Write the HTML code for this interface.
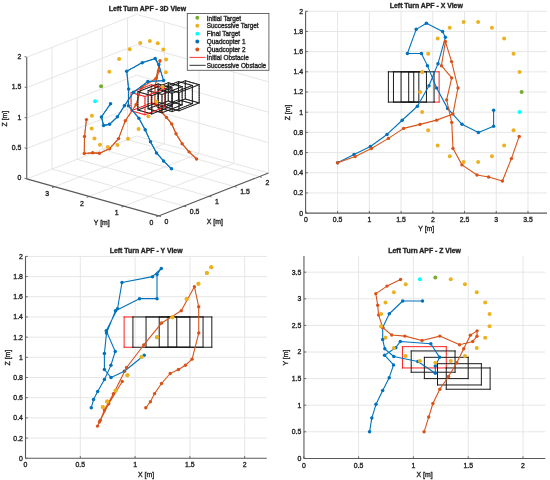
<!DOCTYPE html>
<html><head><meta charset="utf-8"><style>
html,body{margin:0;padding:0;background:#fff;}
svg{display:block;}
text{font-family:"Liberation Sans", Arial, Helvetica, sans-serif;fill:#262626;stroke:#262626;stroke-width:0.35px;}
</style></head><body>
<svg width="550" height="480" viewBox="0 0 550 480">
<rect width="550" height="480" fill="#ffffff"/>
<g>
<line x1="337.62" y1="11.25" x2="337.62" y2="213.15" stroke="#e6e6e6" stroke-width="1.0"/>
<line x1="369.35" y1="11.25" x2="369.35" y2="213.15" stroke="#e6e6e6" stroke-width="1.0"/>
<line x1="401.07" y1="11.25" x2="401.07" y2="213.15" stroke="#e6e6e6" stroke-width="1.0"/>
<line x1="432.8" y1="11.25" x2="432.8" y2="213.15" stroke="#e6e6e6" stroke-width="1.0"/>
<line x1="464.52" y1="11.25" x2="464.52" y2="213.15" stroke="#e6e6e6" stroke-width="1.0"/>
<line x1="496.25" y1="11.25" x2="496.25" y2="213.15" stroke="#e6e6e6" stroke-width="1.0"/>
<line x1="527.98" y1="11.25" x2="527.98" y2="213.15" stroke="#e6e6e6" stroke-width="1.0"/>
<line x1="305.6" y1="192.96" x2="547" y2="192.96" stroke="#e6e6e6" stroke-width="1.0"/>
<line x1="305.6" y1="172.77" x2="547" y2="172.77" stroke="#e6e6e6" stroke-width="1.0"/>
<line x1="305.6" y1="152.58" x2="547" y2="152.58" stroke="#e6e6e6" stroke-width="1.0"/>
<line x1="305.6" y1="132.39" x2="547" y2="132.39" stroke="#e6e6e6" stroke-width="1.0"/>
<line x1="305.6" y1="112.2" x2="547" y2="112.2" stroke="#e6e6e6" stroke-width="1.0"/>
<line x1="305.6" y1="92.01" x2="547" y2="92.01" stroke="#e6e6e6" stroke-width="1.0"/>
<line x1="305.6" y1="71.82" x2="547" y2="71.82" stroke="#e6e6e6" stroke-width="1.0"/>
<line x1="305.6" y1="51.63" x2="547" y2="51.63" stroke="#e6e6e6" stroke-width="1.0"/>
<line x1="305.6" y1="31.44" x2="547" y2="31.44" stroke="#e6e6e6" stroke-width="1.0"/>
<line x1="305.6" y1="11.25" x2="547" y2="11.25" stroke="#e6e6e6" stroke-width="1.0"/>
<line x1="305.6" y1="213.15" x2="547" y2="213.15" stroke="#5a5a5a" stroke-width="1.1"/>
<line x1="305.6" y1="11.25" x2="305.6" y2="213.15" stroke="#5a5a5a" stroke-width="1.1"/>
<line x1="305.9" y1="213.15" x2="305.9" y2="210.95" stroke="#5a5a5a" stroke-width="0.9"/>
<line x1="337.62" y1="213.15" x2="337.62" y2="210.95" stroke="#5a5a5a" stroke-width="0.9"/>
<line x1="369.35" y1="213.15" x2="369.35" y2="210.95" stroke="#5a5a5a" stroke-width="0.9"/>
<line x1="401.07" y1="213.15" x2="401.07" y2="210.95" stroke="#5a5a5a" stroke-width="0.9"/>
<line x1="432.8" y1="213.15" x2="432.8" y2="210.95" stroke="#5a5a5a" stroke-width="0.9"/>
<line x1="464.52" y1="213.15" x2="464.52" y2="210.95" stroke="#5a5a5a" stroke-width="0.9"/>
<line x1="496.25" y1="213.15" x2="496.25" y2="210.95" stroke="#5a5a5a" stroke-width="0.9"/>
<line x1="527.98" y1="213.15" x2="527.98" y2="210.95" stroke="#5a5a5a" stroke-width="0.9"/>
<line x1="305.6" y1="213.15" x2="307.8" y2="213.15" stroke="#5a5a5a" stroke-width="0.9"/>
<line x1="305.6" y1="192.96" x2="307.8" y2="192.96" stroke="#5a5a5a" stroke-width="0.9"/>
<line x1="305.6" y1="172.77" x2="307.8" y2="172.77" stroke="#5a5a5a" stroke-width="0.9"/>
<line x1="305.6" y1="152.58" x2="307.8" y2="152.58" stroke="#5a5a5a" stroke-width="0.9"/>
<line x1="305.6" y1="132.39" x2="307.8" y2="132.39" stroke="#5a5a5a" stroke-width="0.9"/>
<line x1="305.6" y1="112.2" x2="307.8" y2="112.2" stroke="#5a5a5a" stroke-width="0.9"/>
<line x1="305.6" y1="92.01" x2="307.8" y2="92.01" stroke="#5a5a5a" stroke-width="0.9"/>
<line x1="305.6" y1="71.82" x2="307.8" y2="71.82" stroke="#5a5a5a" stroke-width="0.9"/>
<line x1="305.6" y1="51.63" x2="307.8" y2="51.63" stroke="#5a5a5a" stroke-width="0.9"/>
<line x1="305.6" y1="31.44" x2="307.8" y2="31.44" stroke="#5a5a5a" stroke-width="0.9"/>
<line x1="305.6" y1="11.25" x2="307.8" y2="11.25" stroke="#5a5a5a" stroke-width="0.9"/>
<text x="305.9" y="222.15" text-anchor="middle" font-size="6.9" font-weight="normal">0</text>
<text x="337.62" y="222.15" text-anchor="middle" font-size="6.9" font-weight="normal">0.5</text>
<text x="369.35" y="222.15" text-anchor="middle" font-size="6.9" font-weight="normal">1</text>
<text x="401.07" y="222.15" text-anchor="middle" font-size="6.9" font-weight="normal">1.5</text>
<text x="432.8" y="222.15" text-anchor="middle" font-size="6.9" font-weight="normal">2</text>
<text x="464.52" y="222.15" text-anchor="middle" font-size="6.9" font-weight="normal">2.5</text>
<text x="496.25" y="222.15" text-anchor="middle" font-size="6.9" font-weight="normal">3</text>
<text x="527.98" y="222.15" text-anchor="middle" font-size="6.9" font-weight="normal">3.5</text>
<text x="303" y="215.6" text-anchor="end" font-size="6.9" font-weight="normal">0</text>
<text x="303" y="195.41" text-anchor="end" font-size="6.9" font-weight="normal">0.2</text>
<text x="303" y="175.22" text-anchor="end" font-size="6.9" font-weight="normal">0.4</text>
<text x="303" y="155.03" text-anchor="end" font-size="6.9" font-weight="normal">0.6</text>
<text x="303" y="134.84" text-anchor="end" font-size="6.9" font-weight="normal">0.8</text>
<text x="303" y="114.65" text-anchor="end" font-size="6.9" font-weight="normal">1</text>
<text x="303" y="94.46" text-anchor="end" font-size="6.9" font-weight="normal">1.2</text>
<text x="303" y="74.27" text-anchor="end" font-size="6.9" font-weight="normal">1.4</text>
<text x="303" y="54.08" text-anchor="end" font-size="6.9" font-weight="normal">1.6</text>
<text x="303" y="33.89" text-anchor="end" font-size="6.9" font-weight="normal">1.8</text>
<text x="303" y="13.7" text-anchor="end" font-size="6.9" font-weight="normal">2</text>
<text x="426.3" y="231.45" text-anchor="middle" font-size="6.9" font-weight="normal">Y [m]</text>
<text x="289.9" y="112.5" text-anchor="middle" font-size="6.9" font-weight="normal" transform="rotate(-90 289.9 112.5)">Z [m]</text>
<text x="426.3" y="8.15" text-anchor="middle" font-size="6.9" font-weight="bold">Left Turn APF - X View</text>
<line x1="434.07" y1="102.1" x2="439.14" y2="102.1" stroke="#FF2020" stroke-width="1.0" stroke-linecap="square"/>
<line x1="434.07" y1="71.82" x2="439.14" y2="71.82" stroke="#FF2020" stroke-width="1.0" stroke-linecap="square"/>
<line x1="439.14" y1="102.1" x2="439.14" y2="71.82" stroke="#FF2020" stroke-width="1.0" stroke-linecap="square"/>
<line x1="408.69" y1="102.1" x2="434.07" y2="102.1" stroke="#1a1a1a" stroke-width="1.0" stroke-linecap="square"/>
<line x1="408.69" y1="71.82" x2="434.07" y2="71.82" stroke="#1a1a1a" stroke-width="1.0" stroke-linecap="square"/>
<line x1="408.69" y1="102.1" x2="408.69" y2="71.82" stroke="#1a1a1a" stroke-width="1.0" stroke-linecap="square"/>
<line x1="434.07" y1="102.1" x2="434.07" y2="71.82" stroke="#1a1a1a" stroke-width="1.0" stroke-linecap="square"/>
<line x1="401.07" y1="102.1" x2="426.45" y2="102.1" stroke="#1a1a1a" stroke-width="1.0" stroke-linecap="square"/>
<line x1="401.07" y1="71.82" x2="426.45" y2="71.82" stroke="#1a1a1a" stroke-width="1.0" stroke-linecap="square"/>
<line x1="401.07" y1="102.1" x2="401.07" y2="71.82" stroke="#1a1a1a" stroke-width="1.0" stroke-linecap="square"/>
<line x1="426.45" y1="102.1" x2="426.45" y2="71.82" stroke="#1a1a1a" stroke-width="1.0" stroke-linecap="square"/>
<line x1="393.46" y1="102.1" x2="418.84" y2="102.1" stroke="#1a1a1a" stroke-width="1.0" stroke-linecap="square"/>
<line x1="393.46" y1="71.82" x2="418.84" y2="71.82" stroke="#1a1a1a" stroke-width="1.0" stroke-linecap="square"/>
<line x1="393.46" y1="102.1" x2="393.46" y2="71.82" stroke="#1a1a1a" stroke-width="1.0" stroke-linecap="square"/>
<line x1="418.84" y1="102.1" x2="418.84" y2="71.82" stroke="#1a1a1a" stroke-width="1.0" stroke-linecap="square"/>
<line x1="388.38" y1="102.1" x2="413.76" y2="102.1" stroke="#1a1a1a" stroke-width="1.0" stroke-linecap="square"/>
<line x1="388.38" y1="71.82" x2="413.76" y2="71.82" stroke="#1a1a1a" stroke-width="1.0" stroke-linecap="square"/>
<line x1="388.38" y1="102.1" x2="388.38" y2="71.82" stroke="#1a1a1a" stroke-width="1.0" stroke-linecap="square"/>
<line x1="413.76" y1="102.1" x2="413.76" y2="71.82" stroke="#1a1a1a" stroke-width="1.0" stroke-linecap="square"/>
<polyline points="337.6,162.69 354,154.44 370.4,146.49 387,134.44 402.2,120.24 417.4,106.28 429,85.73 438,63.63 445.4,37.37 442.6,31.47 426.4,23.27 416.2,29.37 407.4,53.53 421.4,53.53 427.4,65.63 436.6,87.98 447.6,108.38 462,124.34 478.4,132.39 493.6,126.16 493.6,110.13" fill="none" stroke="#0072BD" stroke-width="1.1" stroke-linejoin="round"/>
<circle cx="337.6" cy="162.69" r="1.75" fill="#0072BD"/>
<circle cx="354" cy="154.44" r="1.75" fill="#0072BD"/>
<circle cx="370.4" cy="146.49" r="1.75" fill="#0072BD"/>
<circle cx="387" cy="134.44" r="1.75" fill="#0072BD"/>
<circle cx="402.2" cy="120.24" r="1.75" fill="#0072BD"/>
<circle cx="417.4" cy="106.28" r="1.75" fill="#0072BD"/>
<circle cx="429" cy="85.73" r="1.75" fill="#0072BD"/>
<circle cx="438" cy="63.63" r="1.75" fill="#0072BD"/>
<circle cx="445.4" cy="37.37" r="1.75" fill="#0072BD"/>
<circle cx="442.6" cy="31.47" r="1.75" fill="#0072BD"/>
<circle cx="426.4" cy="23.27" r="1.75" fill="#0072BD"/>
<circle cx="416.2" cy="29.37" r="1.75" fill="#0072BD"/>
<circle cx="407.4" cy="53.53" r="1.75" fill="#0072BD"/>
<circle cx="421.4" cy="53.53" r="1.75" fill="#0072BD"/>
<circle cx="427.4" cy="65.63" r="1.75" fill="#0072BD"/>
<circle cx="436.6" cy="87.98" r="1.75" fill="#0072BD"/>
<circle cx="447.6" cy="108.38" r="1.75" fill="#0072BD"/>
<circle cx="462" cy="124.34" r="1.75" fill="#0072BD"/>
<circle cx="478.4" cy="132.39" r="1.75" fill="#0072BD"/>
<circle cx="493.6" cy="126.16" r="1.75" fill="#0072BD"/>
<circle cx="493.6" cy="110.13" r="1.75" fill="#0072BD"/>
<polyline points="337.6,162.69 355.2,156.59 371.4,148.49 388.4,138.39 403.6,128.39 420,124.39 436.6,120.14 452.9,114.04 458,87.93 451.6,61.6 445.4,41.57 441.4,65.68 451.75,77.9 446.6,99.83 451.75,122.41 453,148.54 462,164.89 477,175.07 488.6,176.99 502.4,180.97 511.4,158.62 519.2,136.44" fill="none" stroke="#D95319" stroke-width="1.1" stroke-linejoin="round"/>
<circle cx="337.6" cy="162.69" r="1.7" fill="#D95319"/>
<circle cx="355.2" cy="156.59" r="1.7" fill="#D95319"/>
<circle cx="371.4" cy="148.49" r="1.7" fill="#D95319"/>
<circle cx="388.4" cy="138.39" r="1.7" fill="#D95319"/>
<circle cx="403.6" cy="128.39" r="1.7" fill="#D95319"/>
<circle cx="420" cy="124.39" r="1.7" fill="#D95319"/>
<circle cx="436.6" cy="120.14" r="1.7" fill="#D95319"/>
<circle cx="452.9" cy="114.04" r="1.7" fill="#D95319"/>
<circle cx="458" cy="87.93" r="1.7" fill="#D95319"/>
<circle cx="451.6" cy="61.6" r="1.7" fill="#D95319"/>
<circle cx="445.4" cy="41.57" r="1.7" fill="#D95319"/>
<circle cx="441.4" cy="65.68" r="1.7" fill="#D95319"/>
<circle cx="451.75" cy="77.9" r="1.7" fill="#D95319"/>
<circle cx="446.6" cy="99.83" r="1.7" fill="#D95319"/>
<circle cx="451.75" cy="122.41" r="1.7" fill="#D95319"/>
<circle cx="453" cy="148.54" r="1.7" fill="#D95319"/>
<circle cx="462" cy="164.89" r="1.7" fill="#D95319"/>
<circle cx="477" cy="175.07" r="1.7" fill="#D95319"/>
<circle cx="488.6" cy="176.99" r="1.7" fill="#D95319"/>
<circle cx="502.4" cy="180.97" r="1.7" fill="#D95319"/>
<circle cx="511.4" cy="158.62" r="1.7" fill="#D95319"/>
<circle cx="519.2" cy="136.44" r="1.7" fill="#D95319"/>
<circle cx="521.63" cy="92.01" r="2.0" fill="#77AC30"/>
<circle cx="519.57" cy="111.92" r="2.0" fill="#00FFFF"/>
<circle cx="519.57" cy="72.1" r="2.0" fill="#EDB120"/>
<circle cx="513.57" cy="53.81" r="2.0" fill="#EDB120"/>
<circle cx="504.11" cy="38.6" r="2.0" fill="#EDB120"/>
<circle cx="491.96" cy="27.73" r="2.0" fill="#EDB120"/>
<circle cx="478.09" cy="22.06" r="2.0" fill="#EDB120"/>
<circle cx="463.65" cy="22.06" r="2.0" fill="#EDB120"/>
<circle cx="449.78" cy="27.73" r="2.0" fill="#EDB120"/>
<circle cx="437.63" cy="38.6" r="2.0" fill="#EDB120"/>
<circle cx="428.17" cy="53.81" r="2.0" fill="#EDB120"/>
<circle cx="422.17" cy="72.1" r="2.0" fill="#EDB120"/>
<circle cx="420.11" cy="92.01" r="2.0" fill="#EDB120"/>
<circle cx="422.17" cy="111.92" r="2.0" fill="#EDB120"/>
<circle cx="428.17" cy="130.21" r="2.0" fill="#EDB120"/>
<circle cx="437.63" cy="145.42" r="2.0" fill="#EDB120"/>
<circle cx="449.78" cy="156.29" r="2.0" fill="#EDB120"/>
<circle cx="463.65" cy="161.96" r="2.0" fill="#EDB120"/>
<circle cx="478.09" cy="161.96" r="2.0" fill="#EDB120"/>
<circle cx="491.96" cy="156.29" r="2.0" fill="#EDB120"/>
<circle cx="504.11" cy="145.42" r="2.0" fill="#EDB120"/>
<circle cx="513.57" cy="130.21" r="2.0" fill="#EDB120"/>
</g>
<line x1="80.3" y1="256.4" x2="80.3" y2="458.25" stroke="#e6e6e6" stroke-width="1.0"/>
<line x1="135.1" y1="256.4" x2="135.1" y2="458.25" stroke="#e6e6e6" stroke-width="1.0"/>
<line x1="189.9" y1="256.4" x2="189.9" y2="458.25" stroke="#e6e6e6" stroke-width="1.0"/>
<line x1="244.7" y1="256.4" x2="244.7" y2="458.25" stroke="#e6e6e6" stroke-width="1.0"/>
<line x1="25.5" y1="438.07" x2="266.8" y2="438.07" stroke="#e6e6e6" stroke-width="1.0"/>
<line x1="25.5" y1="417.88" x2="266.8" y2="417.88" stroke="#e6e6e6" stroke-width="1.0"/>
<line x1="25.5" y1="397.7" x2="266.8" y2="397.7" stroke="#e6e6e6" stroke-width="1.0"/>
<line x1="25.5" y1="377.51" x2="266.8" y2="377.51" stroke="#e6e6e6" stroke-width="1.0"/>
<line x1="25.5" y1="357.33" x2="266.8" y2="357.33" stroke="#e6e6e6" stroke-width="1.0"/>
<line x1="25.5" y1="337.15" x2="266.8" y2="337.15" stroke="#e6e6e6" stroke-width="1.0"/>
<line x1="25.5" y1="316.96" x2="266.8" y2="316.96" stroke="#e6e6e6" stroke-width="1.0"/>
<line x1="25.5" y1="296.78" x2="266.8" y2="296.78" stroke="#e6e6e6" stroke-width="1.0"/>
<line x1="25.5" y1="276.59" x2="266.8" y2="276.59" stroke="#e6e6e6" stroke-width="1.0"/>
<line x1="25.5" y1="256.41" x2="266.8" y2="256.41" stroke="#e6e6e6" stroke-width="1.0"/>
<line x1="25.5" y1="458.25" x2="266.8" y2="458.25" stroke="#5a5a5a" stroke-width="1.1"/>
<line x1="25.5" y1="256.4" x2="25.5" y2="458.25" stroke="#5a5a5a" stroke-width="1.1"/>
<line x1="25.5" y1="458.25" x2="25.5" y2="456.05" stroke="#5a5a5a" stroke-width="0.9"/>
<line x1="80.3" y1="458.25" x2="80.3" y2="456.05" stroke="#5a5a5a" stroke-width="0.9"/>
<line x1="135.1" y1="458.25" x2="135.1" y2="456.05" stroke="#5a5a5a" stroke-width="0.9"/>
<line x1="189.9" y1="458.25" x2="189.9" y2="456.05" stroke="#5a5a5a" stroke-width="0.9"/>
<line x1="244.7" y1="458.25" x2="244.7" y2="456.05" stroke="#5a5a5a" stroke-width="0.9"/>
<line x1="25.5" y1="458.25" x2="27.7" y2="458.25" stroke="#5a5a5a" stroke-width="0.9"/>
<line x1="25.5" y1="438.07" x2="27.7" y2="438.07" stroke="#5a5a5a" stroke-width="0.9"/>
<line x1="25.5" y1="417.88" x2="27.7" y2="417.88" stroke="#5a5a5a" stroke-width="0.9"/>
<line x1="25.5" y1="397.7" x2="27.7" y2="397.7" stroke="#5a5a5a" stroke-width="0.9"/>
<line x1="25.5" y1="377.51" x2="27.7" y2="377.51" stroke="#5a5a5a" stroke-width="0.9"/>
<line x1="25.5" y1="357.33" x2="27.7" y2="357.33" stroke="#5a5a5a" stroke-width="0.9"/>
<line x1="25.5" y1="337.15" x2="27.7" y2="337.15" stroke="#5a5a5a" stroke-width="0.9"/>
<line x1="25.5" y1="316.96" x2="27.7" y2="316.96" stroke="#5a5a5a" stroke-width="0.9"/>
<line x1="25.5" y1="296.78" x2="27.7" y2="296.78" stroke="#5a5a5a" stroke-width="0.9"/>
<line x1="25.5" y1="276.59" x2="27.7" y2="276.59" stroke="#5a5a5a" stroke-width="0.9"/>
<line x1="25.5" y1="256.41" x2="27.7" y2="256.41" stroke="#5a5a5a" stroke-width="0.9"/>
<text x="25.5" y="467.25" text-anchor="middle" font-size="6.9" font-weight="normal">0</text>
<text x="80.3" y="467.25" text-anchor="middle" font-size="6.9" font-weight="normal">0.5</text>
<text x="135.1" y="467.25" text-anchor="middle" font-size="6.9" font-weight="normal">1</text>
<text x="189.9" y="467.25" text-anchor="middle" font-size="6.9" font-weight="normal">1.5</text>
<text x="244.7" y="467.25" text-anchor="middle" font-size="6.9" font-weight="normal">2</text>
<text x="22.9" y="460.7" text-anchor="end" font-size="6.9" font-weight="normal">0</text>
<text x="22.9" y="440.52" text-anchor="end" font-size="6.9" font-weight="normal">0.2</text>
<text x="22.9" y="420.33" text-anchor="end" font-size="6.9" font-weight="normal">0.4</text>
<text x="22.9" y="400.15" text-anchor="end" font-size="6.9" font-weight="normal">0.6</text>
<text x="22.9" y="379.96" text-anchor="end" font-size="6.9" font-weight="normal">0.8</text>
<text x="22.9" y="359.78" text-anchor="end" font-size="6.9" font-weight="normal">1</text>
<text x="22.9" y="339.6" text-anchor="end" font-size="6.9" font-weight="normal">1.2</text>
<text x="22.9" y="319.41" text-anchor="end" font-size="6.9" font-weight="normal">1.4</text>
<text x="22.9" y="299.23" text-anchor="end" font-size="6.9" font-weight="normal">1.6</text>
<text x="22.9" y="279.04" text-anchor="end" font-size="6.9" font-weight="normal">1.8</text>
<text x="22.9" y="258.86" text-anchor="end" font-size="6.9" font-weight="normal">2</text>
<text x="146.15" y="476.55" text-anchor="middle" font-size="6.9" font-weight="normal">X [m]</text>
<text x="9.8" y="357.62" text-anchor="middle" font-size="6.9" font-weight="normal" transform="rotate(-90 9.8 357.62)">Z [m]</text>
<text x="146.15" y="253.3" text-anchor="middle" font-size="6.9" font-weight="bold">Left Turn APF - Y View</text>
<line x1="124.14" y1="347.24" x2="132.91" y2="347.24" stroke="#FF2020" stroke-width="1.0" stroke-linecap="square"/>
<line x1="124.14" y1="316.96" x2="132.91" y2="316.96" stroke="#FF2020" stroke-width="1.0" stroke-linecap="square"/>
<line x1="124.14" y1="347.24" x2="124.14" y2="316.96" stroke="#FF2020" stroke-width="1.0" stroke-linecap="square"/>
<line x1="132.91" y1="347.24" x2="176.75" y2="347.24" stroke="#1a1a1a" stroke-width="1.0" stroke-linecap="square"/>
<line x1="132.91" y1="316.96" x2="176.75" y2="316.96" stroke="#1a1a1a" stroke-width="1.0" stroke-linecap="square"/>
<line x1="132.91" y1="347.24" x2="132.91" y2="316.96" stroke="#1a1a1a" stroke-width="1.0" stroke-linecap="square"/>
<line x1="176.75" y1="347.24" x2="176.75" y2="316.96" stroke="#1a1a1a" stroke-width="1.0" stroke-linecap="square"/>
<line x1="146.06" y1="347.24" x2="189.9" y2="347.24" stroke="#1a1a1a" stroke-width="1.0" stroke-linecap="square"/>
<line x1="146.06" y1="316.96" x2="189.9" y2="316.96" stroke="#1a1a1a" stroke-width="1.0" stroke-linecap="square"/>
<line x1="146.06" y1="347.24" x2="146.06" y2="316.96" stroke="#1a1a1a" stroke-width="1.0" stroke-linecap="square"/>
<line x1="189.9" y1="347.24" x2="189.9" y2="316.96" stroke="#1a1a1a" stroke-width="1.0" stroke-linecap="square"/>
<line x1="159.21" y1="347.24" x2="203.05" y2="347.24" stroke="#1a1a1a" stroke-width="1.0" stroke-linecap="square"/>
<line x1="159.21" y1="316.96" x2="203.05" y2="316.96" stroke="#1a1a1a" stroke-width="1.0" stroke-linecap="square"/>
<line x1="159.21" y1="347.24" x2="159.21" y2="316.96" stroke="#1a1a1a" stroke-width="1.0" stroke-linecap="square"/>
<line x1="203.05" y1="347.24" x2="203.05" y2="316.96" stroke="#1a1a1a" stroke-width="1.0" stroke-linecap="square"/>
<line x1="167.98" y1="347.24" x2="211.82" y2="347.24" stroke="#1a1a1a" stroke-width="1.0" stroke-linecap="square"/>
<line x1="167.98" y1="316.96" x2="211.82" y2="316.96" stroke="#1a1a1a" stroke-width="1.0" stroke-linecap="square"/>
<line x1="167.98" y1="347.24" x2="167.98" y2="316.96" stroke="#1a1a1a" stroke-width="1.0" stroke-linecap="square"/>
<line x1="211.82" y1="347.24" x2="211.82" y2="316.96" stroke="#1a1a1a" stroke-width="1.0" stroke-linecap="square"/>
<polyline points="91.25,407.81 93.5,399.56 97.7,391.61 104.4,379.56 110.9,365.36 115.25,351.42 106.25,330.87 117.5,308.77 122,282.53 152.5,276.63 161.3,268.43 157,274.53 157,298.67 139.5,298.67 115.5,310.77 106.5,333.12 104.4,353.52 104.4,369.46 111,377.51 124.4,371.29 144.2,355.27" fill="none" stroke="#0072BD" stroke-width="1.1" stroke-linejoin="round"/>
<circle cx="91.25" cy="407.81" r="1.75" fill="#0072BD"/>
<circle cx="93.5" cy="399.56" r="1.75" fill="#0072BD"/>
<circle cx="97.7" cy="391.61" r="1.75" fill="#0072BD"/>
<circle cx="104.4" cy="379.56" r="1.75" fill="#0072BD"/>
<circle cx="110.9" cy="365.36" r="1.75" fill="#0072BD"/>
<circle cx="115.25" cy="351.42" r="1.75" fill="#0072BD"/>
<circle cx="106.25" cy="330.87" r="1.75" fill="#0072BD"/>
<circle cx="117.5" cy="308.77" r="1.75" fill="#0072BD"/>
<circle cx="122" cy="282.53" r="1.75" fill="#0072BD"/>
<circle cx="152.5" cy="276.63" r="1.75" fill="#0072BD"/>
<circle cx="161.3" cy="268.43" r="1.75" fill="#0072BD"/>
<circle cx="157" cy="274.53" r="1.75" fill="#0072BD"/>
<circle cx="157" cy="298.67" r="1.75" fill="#0072BD"/>
<circle cx="139.5" cy="298.67" r="1.75" fill="#0072BD"/>
<circle cx="115.5" cy="310.77" r="1.75" fill="#0072BD"/>
<circle cx="106.5" cy="333.12" r="1.75" fill="#0072BD"/>
<circle cx="104.4" cy="353.52" r="1.75" fill="#0072BD"/>
<circle cx="104.4" cy="369.46" r="1.75" fill="#0072BD"/>
<circle cx="111" cy="377.51" r="1.75" fill="#0072BD"/>
<circle cx="124.4" cy="371.29" r="1.75" fill="#0072BD"/>
<circle cx="144.2" cy="355.27" r="1.75" fill="#0072BD"/>
<polyline points="145.8,407.81 150.4,401.71 154.6,393.61 161.5,383.51 170.2,373.51 178.5,369.51 185.4,365.26 192.1,359.16 198.75,333.07 198.7,306.75 194.4,286.73 181.25,310.82 161.6,323.05 143.75,344.97 126.6,367.54 113.4,393.66 104.4,410.01 100.3,420.18 99.4,422.11 97.5,426.08 108.75,403.73 122.25,381.56" fill="none" stroke="#D95319" stroke-width="1.1" stroke-linejoin="round"/>
<circle cx="145.8" cy="407.81" r="1.7" fill="#D95319"/>
<circle cx="150.4" cy="401.71" r="1.7" fill="#D95319"/>
<circle cx="154.6" cy="393.61" r="1.7" fill="#D95319"/>
<circle cx="161.5" cy="383.51" r="1.7" fill="#D95319"/>
<circle cx="170.2" cy="373.51" r="1.7" fill="#D95319"/>
<circle cx="178.5" cy="369.51" r="1.7" fill="#D95319"/>
<circle cx="185.4" cy="365.26" r="1.7" fill="#D95319"/>
<circle cx="192.1" cy="359.16" r="1.7" fill="#D95319"/>
<circle cx="198.75" cy="333.07" r="1.7" fill="#D95319"/>
<circle cx="198.7" cy="306.75" r="1.7" fill="#D95319"/>
<circle cx="194.4" cy="286.73" r="1.7" fill="#D95319"/>
<circle cx="181.25" cy="310.82" r="1.7" fill="#D95319"/>
<circle cx="161.6" cy="323.05" r="1.7" fill="#D95319"/>
<circle cx="143.75" cy="344.97" r="1.7" fill="#D95319"/>
<circle cx="126.6" cy="367.54" r="1.7" fill="#D95319"/>
<circle cx="113.4" cy="393.66" r="1.7" fill="#D95319"/>
<circle cx="104.4" cy="410.01" r="1.7" fill="#D95319"/>
<circle cx="100.3" cy="420.18" r="1.7" fill="#D95319"/>
<circle cx="99.4" cy="422.11" r="1.7" fill="#D95319"/>
<circle cx="97.5" cy="426.08" r="1.7" fill="#D95319"/>
<circle cx="108.75" cy="403.73" r="1.7" fill="#D95319"/>
<circle cx="122.25" cy="381.56" r="1.7" fill="#D95319"/>
<circle cx="157.02" cy="337.15" r="2.0" fill="#77AC30"/>
<circle cx="141.58" cy="357.05" r="2.0" fill="#00FFFF"/>
<circle cx="172.46" cy="317.24" r="2.0" fill="#EDB120"/>
<circle cx="186.65" cy="298.95" r="2.0" fill="#EDB120"/>
<circle cx="198.44" cy="283.76" r="2.0" fill="#EDB120"/>
<circle cx="206.87" cy="272.89" r="2.0" fill="#EDB120"/>
<circle cx="211.26" cy="267.22" r="2.0" fill="#EDB120"/>
<circle cx="211.26" cy="267.22" r="2.0" fill="#EDB120"/>
<circle cx="206.87" cy="272.89" r="2.0" fill="#EDB120"/>
<circle cx="198.44" cy="283.76" r="2.0" fill="#EDB120"/>
<circle cx="186.65" cy="298.95" r="2.0" fill="#EDB120"/>
<circle cx="172.46" cy="317.24" r="2.0" fill="#EDB120"/>
<circle cx="157.02" cy="337.15" r="2.0" fill="#EDB120"/>
<circle cx="141.58" cy="357.05" r="2.0" fill="#EDB120"/>
<circle cx="127.39" cy="375.34" r="2.0" fill="#EDB120"/>
<circle cx="115.6" cy="390.54" r="2.0" fill="#EDB120"/>
<circle cx="107.17" cy="401.41" r="2.0" fill="#EDB120"/>
<circle cx="102.78" cy="407.07" r="2.0" fill="#EDB120"/>
<circle cx="102.78" cy="407.07" r="2.0" fill="#EDB120"/>
<circle cx="107.17" cy="401.41" r="2.0" fill="#EDB120"/>
<circle cx="115.6" cy="390.54" r="2.0" fill="#EDB120"/>
<circle cx="127.39" cy="375.34" r="2.0" fill="#EDB120"/>
<line x1="358.6" y1="256" x2="358.6" y2="458.5" stroke="#e6e6e6" stroke-width="1.0"/>
<line x1="413.4" y1="256" x2="413.4" y2="458.5" stroke="#e6e6e6" stroke-width="1.0"/>
<line x1="468.2" y1="256" x2="468.2" y2="458.5" stroke="#e6e6e6" stroke-width="1.0"/>
<line x1="523" y1="256" x2="523" y2="458.5" stroke="#e6e6e6" stroke-width="1.0"/>
<line x1="303.95" y1="431.8" x2="545.3" y2="431.8" stroke="#e6e6e6" stroke-width="1.0"/>
<line x1="303.95" y1="405.2" x2="545.3" y2="405.2" stroke="#e6e6e6" stroke-width="1.0"/>
<line x1="303.95" y1="378.6" x2="545.3" y2="378.6" stroke="#e6e6e6" stroke-width="1.0"/>
<line x1="303.95" y1="352" x2="545.3" y2="352" stroke="#e6e6e6" stroke-width="1.0"/>
<line x1="303.95" y1="325.4" x2="545.3" y2="325.4" stroke="#e6e6e6" stroke-width="1.0"/>
<line x1="303.95" y1="298.8" x2="545.3" y2="298.8" stroke="#e6e6e6" stroke-width="1.0"/>
<line x1="303.95" y1="272.2" x2="545.3" y2="272.2" stroke="#e6e6e6" stroke-width="1.0"/>
<line x1="303.95" y1="458.5" x2="545.3" y2="458.5" stroke="#5a5a5a" stroke-width="1.1"/>
<line x1="303.95" y1="256" x2="303.95" y2="458.5" stroke="#5a5a5a" stroke-width="1.1"/>
<line x1="303.8" y1="458.5" x2="303.8" y2="456.3" stroke="#5a5a5a" stroke-width="0.9"/>
<line x1="358.6" y1="458.5" x2="358.6" y2="456.3" stroke="#5a5a5a" stroke-width="0.9"/>
<line x1="413.4" y1="458.5" x2="413.4" y2="456.3" stroke="#5a5a5a" stroke-width="0.9"/>
<line x1="468.2" y1="458.5" x2="468.2" y2="456.3" stroke="#5a5a5a" stroke-width="0.9"/>
<line x1="523" y1="458.5" x2="523" y2="456.3" stroke="#5a5a5a" stroke-width="0.9"/>
<line x1="303.95" y1="458.4" x2="306.15" y2="458.4" stroke="#5a5a5a" stroke-width="0.9"/>
<line x1="303.95" y1="431.8" x2="306.15" y2="431.8" stroke="#5a5a5a" stroke-width="0.9"/>
<line x1="303.95" y1="405.2" x2="306.15" y2="405.2" stroke="#5a5a5a" stroke-width="0.9"/>
<line x1="303.95" y1="378.6" x2="306.15" y2="378.6" stroke="#5a5a5a" stroke-width="0.9"/>
<line x1="303.95" y1="352" x2="306.15" y2="352" stroke="#5a5a5a" stroke-width="0.9"/>
<line x1="303.95" y1="325.4" x2="306.15" y2="325.4" stroke="#5a5a5a" stroke-width="0.9"/>
<line x1="303.95" y1="298.8" x2="306.15" y2="298.8" stroke="#5a5a5a" stroke-width="0.9"/>
<line x1="303.95" y1="272.2" x2="306.15" y2="272.2" stroke="#5a5a5a" stroke-width="0.9"/>
<text x="303.8" y="467.5" text-anchor="middle" font-size="6.9" font-weight="normal">0</text>
<text x="358.6" y="467.5" text-anchor="middle" font-size="6.9" font-weight="normal">0.5</text>
<text x="413.4" y="467.5" text-anchor="middle" font-size="6.9" font-weight="normal">1</text>
<text x="468.2" y="467.5" text-anchor="middle" font-size="6.9" font-weight="normal">1.5</text>
<text x="523" y="467.5" text-anchor="middle" font-size="6.9" font-weight="normal">2</text>
<text x="301.35" y="460.85" text-anchor="end" font-size="6.9" font-weight="normal">0</text>
<text x="301.35" y="434.25" text-anchor="end" font-size="6.9" font-weight="normal">0.5</text>
<text x="301.35" y="407.65" text-anchor="end" font-size="6.9" font-weight="normal">1</text>
<text x="301.35" y="381.05" text-anchor="end" font-size="6.9" font-weight="normal">1.5</text>
<text x="301.35" y="354.45" text-anchor="end" font-size="6.9" font-weight="normal">2</text>
<text x="301.35" y="327.85" text-anchor="end" font-size="6.9" font-weight="normal">2.5</text>
<text x="301.35" y="301.25" text-anchor="end" font-size="6.9" font-weight="normal">3</text>
<text x="301.35" y="274.65" text-anchor="end" font-size="6.9" font-weight="normal">3.5</text>
<text x="424.62" y="476.8" text-anchor="middle" font-size="6.9" font-weight="normal">X [m]</text>
<text x="288.25" y="357.55" text-anchor="middle" font-size="6.9" font-weight="normal" transform="rotate(-90 288.25 357.55)">Y [m]</text>
<text x="424.62" y="252.9" text-anchor="middle" font-size="6.9" font-weight="bold">Left Turn APF - Z View</text>
<line x1="402.44" y1="367.96" x2="446.28" y2="367.96" stroke="#FF2020" stroke-width="1.0" stroke-linecap="square"/>
<line x1="402.44" y1="346.68" x2="446.28" y2="346.68" stroke="#FF2020" stroke-width="1.0" stroke-linecap="square"/>
<line x1="402.44" y1="367.96" x2="402.44" y2="346.68" stroke="#FF2020" stroke-width="1.0" stroke-linecap="square"/>
<line x1="446.28" y1="367.96" x2="446.28" y2="346.68" stroke="#FF2020" stroke-width="1.0" stroke-linecap="square"/>
<line x1="411.21" y1="372.22" x2="455.05" y2="372.22" stroke="#1a1a1a" stroke-width="1.0" stroke-linecap="square"/>
<line x1="411.21" y1="350.94" x2="455.05" y2="350.94" stroke="#1a1a1a" stroke-width="1.0" stroke-linecap="square"/>
<line x1="411.21" y1="372.22" x2="411.21" y2="350.94" stroke="#1a1a1a" stroke-width="1.0" stroke-linecap="square"/>
<line x1="455.05" y1="372.22" x2="455.05" y2="350.94" stroke="#1a1a1a" stroke-width="1.0" stroke-linecap="square"/>
<line x1="424.36" y1="378.6" x2="468.2" y2="378.6" stroke="#1a1a1a" stroke-width="1.0" stroke-linecap="square"/>
<line x1="424.36" y1="357.32" x2="468.2" y2="357.32" stroke="#1a1a1a" stroke-width="1.0" stroke-linecap="square"/>
<line x1="424.36" y1="378.6" x2="424.36" y2="357.32" stroke="#1a1a1a" stroke-width="1.0" stroke-linecap="square"/>
<line x1="468.2" y1="378.6" x2="468.2" y2="357.32" stroke="#1a1a1a" stroke-width="1.0" stroke-linecap="square"/>
<line x1="437.51" y1="384.98" x2="481.35" y2="384.98" stroke="#1a1a1a" stroke-width="1.0" stroke-linecap="square"/>
<line x1="437.51" y1="363.7" x2="481.35" y2="363.7" stroke="#1a1a1a" stroke-width="1.0" stroke-linecap="square"/>
<line x1="437.51" y1="384.98" x2="437.51" y2="363.7" stroke="#1a1a1a" stroke-width="1.0" stroke-linecap="square"/>
<line x1="481.35" y1="384.98" x2="481.35" y2="363.7" stroke="#1a1a1a" stroke-width="1.0" stroke-linecap="square"/>
<line x1="446.28" y1="389.24" x2="490.12" y2="389.24" stroke="#1a1a1a" stroke-width="1.0" stroke-linecap="square"/>
<line x1="446.28" y1="367.96" x2="490.12" y2="367.96" stroke="#1a1a1a" stroke-width="1.0" stroke-linecap="square"/>
<line x1="446.28" y1="389.24" x2="446.28" y2="367.96" stroke="#1a1a1a" stroke-width="1.0" stroke-linecap="square"/>
<line x1="490.12" y1="389.24" x2="490.12" y2="367.96" stroke="#1a1a1a" stroke-width="1.0" stroke-linecap="square"/>
<polyline points="369.55,431.82 371.8,418.07 376,404.32 382.7,390.4 389.2,377.66 393.55,364.91 384.55,355.19 395.8,347.64 400.3,341.44 430.8,343.78 439.6,357.37 435.3,365.92 435.3,373.3 417.8,361.56 393.8,356.53 384.8,348.81 382.7,339.59 382.7,327.52 389.3,313.77 402.7,301.02 422.5,301.02" fill="none" stroke="#0072BD" stroke-width="1.1" stroke-linejoin="round"/>
<circle cx="369.55" cy="431.82" r="1.75" fill="#0072BD"/>
<circle cx="371.8" cy="418.07" r="1.75" fill="#0072BD"/>
<circle cx="376" cy="404.32" r="1.75" fill="#0072BD"/>
<circle cx="382.7" cy="390.4" r="1.75" fill="#0072BD"/>
<circle cx="389.2" cy="377.66" r="1.75" fill="#0072BD"/>
<circle cx="393.55" cy="364.91" r="1.75" fill="#0072BD"/>
<circle cx="384.55" cy="355.19" r="1.75" fill="#0072BD"/>
<circle cx="395.8" cy="347.64" r="1.75" fill="#0072BD"/>
<circle cx="400.3" cy="341.44" r="1.75" fill="#0072BD"/>
<circle cx="430.8" cy="343.78" r="1.75" fill="#0072BD"/>
<circle cx="439.6" cy="357.37" r="1.75" fill="#0072BD"/>
<circle cx="435.3" cy="365.92" r="1.75" fill="#0072BD"/>
<circle cx="435.3" cy="373.3" r="1.75" fill="#0072BD"/>
<circle cx="417.8" cy="361.56" r="1.75" fill="#0072BD"/>
<circle cx="393.8" cy="356.53" r="1.75" fill="#0072BD"/>
<circle cx="384.8" cy="348.81" r="1.75" fill="#0072BD"/>
<circle cx="382.7" cy="339.59" r="1.75" fill="#0072BD"/>
<circle cx="382.7" cy="327.52" r="1.75" fill="#0072BD"/>
<circle cx="389.3" cy="313.77" r="1.75" fill="#0072BD"/>
<circle cx="402.7" cy="301.02" r="1.75" fill="#0072BD"/>
<circle cx="422.5" cy="301.02" r="1.75" fill="#0072BD"/>
<polyline points="424.1,431.82 428.7,417.06 432.9,403.48 439.8,389.23 448.5,376.48 456.8,362.73 463.7,348.81 470.4,335.15 477.05,330.87 477,336.24 472.7,341.44 459.55,344.79 439.9,336.11 422.05,340.43 404.9,336.11 391.7,335.06 382.7,327.52 378.6,314.94 377.7,305.21 375.8,293.64 387.05,286.1 400.55,279.56" fill="none" stroke="#D95319" stroke-width="1.1" stroke-linejoin="round"/>
<circle cx="424.1" cy="431.82" r="1.7" fill="#D95319"/>
<circle cx="428.7" cy="417.06" r="1.7" fill="#D95319"/>
<circle cx="432.9" cy="403.48" r="1.7" fill="#D95319"/>
<circle cx="439.8" cy="389.23" r="1.7" fill="#D95319"/>
<circle cx="448.5" cy="376.48" r="1.7" fill="#D95319"/>
<circle cx="456.8" cy="362.73" r="1.7" fill="#D95319"/>
<circle cx="463.7" cy="348.81" r="1.7" fill="#D95319"/>
<circle cx="470.4" cy="335.15" r="1.7" fill="#D95319"/>
<circle cx="477.05" cy="330.87" r="1.7" fill="#D95319"/>
<circle cx="477" cy="336.24" r="1.7" fill="#D95319"/>
<circle cx="472.7" cy="341.44" r="1.7" fill="#D95319"/>
<circle cx="459.55" cy="344.79" r="1.7" fill="#D95319"/>
<circle cx="439.9" cy="336.11" r="1.7" fill="#D95319"/>
<circle cx="422.05" cy="340.43" r="1.7" fill="#D95319"/>
<circle cx="404.9" cy="336.11" r="1.7" fill="#D95319"/>
<circle cx="391.7" cy="335.06" r="1.7" fill="#D95319"/>
<circle cx="382.7" cy="327.52" r="1.7" fill="#D95319"/>
<circle cx="378.6" cy="314.94" r="1.7" fill="#D95319"/>
<circle cx="377.7" cy="305.21" r="1.7" fill="#D95319"/>
<circle cx="375.8" cy="293.64" r="1.7" fill="#D95319"/>
<circle cx="387.05" cy="286.1" r="1.7" fill="#D95319"/>
<circle cx="400.55" cy="279.56" r="1.7" fill="#D95319"/>
<circle cx="435.32" cy="277.52" r="2.0" fill="#77AC30"/>
<circle cx="419.88" cy="279.24" r="2.0" fill="#00FFFF"/>
<circle cx="450.76" cy="279.24" r="2.0" fill="#EDB120"/>
<circle cx="464.95" cy="284.28" r="2.0" fill="#EDB120"/>
<circle cx="476.74" cy="292.21" r="2.0" fill="#EDB120"/>
<circle cx="485.17" cy="302.4" r="2.0" fill="#EDB120"/>
<circle cx="489.56" cy="314.02" r="2.0" fill="#EDB120"/>
<circle cx="489.56" cy="326.14" r="2.0" fill="#EDB120"/>
<circle cx="485.17" cy="337.76" r="2.0" fill="#EDB120"/>
<circle cx="476.74" cy="347.95" r="2.0" fill="#EDB120"/>
<circle cx="464.95" cy="355.88" r="2.0" fill="#EDB120"/>
<circle cx="450.76" cy="360.92" r="2.0" fill="#EDB120"/>
<circle cx="435.32" cy="362.64" r="2.0" fill="#EDB120"/>
<circle cx="419.88" cy="360.92" r="2.0" fill="#EDB120"/>
<circle cx="405.69" cy="355.88" r="2.0" fill="#EDB120"/>
<circle cx="393.9" cy="347.95" r="2.0" fill="#EDB120"/>
<circle cx="385.47" cy="337.76" r="2.0" fill="#EDB120"/>
<circle cx="381.08" cy="326.14" r="2.0" fill="#EDB120"/>
<circle cx="381.08" cy="314.02" r="2.0" fill="#EDB120"/>
<circle cx="385.47" cy="302.4" r="2.0" fill="#EDB120"/>
<circle cx="393.9" cy="292.21" r="2.0" fill="#EDB120"/>
<circle cx="405.69" cy="284.28" r="2.0" fill="#EDB120"/>
<line x1="183.8" y1="206.08" x2="51.94" y2="169.07" stroke="#e6e6e6" stroke-width="1.0"/>
<line x1="209" y1="196.26" x2="77.14" y2="159.25" stroke="#e6e6e6" stroke-width="1.0"/>
<line x1="234.2" y1="186.44" x2="102.34" y2="149.43" stroke="#e6e6e6" stroke-width="1.0"/>
<line x1="259.4" y1="176.62" x2="127.54" y2="139.61" stroke="#e6e6e6" stroke-width="1.0"/>
<line x1="123.9" y1="206.16" x2="233.77" y2="163.34" stroke="#e6e6e6" stroke-width="1.0"/>
<line x1="89.2" y1="196.42" x2="199.07" y2="153.6" stroke="#e6e6e6" stroke-width="1.0"/>
<line x1="54.5" y1="186.68" x2="164.37" y2="143.86" stroke="#e6e6e6" stroke-width="1.0"/>
<line x1="51.94" y1="169.07" x2="51.94" y2="47.37" stroke="#e6e6e6" stroke-width="1.0"/>
<line x1="77.14" y1="159.25" x2="77.14" y2="37.55" stroke="#e6e6e6" stroke-width="1.0"/>
<line x1="102.34" y1="149.43" x2="102.34" y2="27.73" stroke="#e6e6e6" stroke-width="1.0"/>
<line x1="127.54" y1="139.61" x2="127.54" y2="17.91" stroke="#e6e6e6" stroke-width="1.0"/>
<line x1="26.74" y1="178.89" x2="136.61" y2="136.07" stroke="#e6e6e6" stroke-width="1.0"/>
<line x1="26.74" y1="148.46" x2="136.61" y2="105.65" stroke="#e6e6e6" stroke-width="1.0"/>
<line x1="26.74" y1="118.04" x2="136.61" y2="75.22" stroke="#e6e6e6" stroke-width="1.0"/>
<line x1="26.74" y1="87.61" x2="136.61" y2="44.8" stroke="#e6e6e6" stroke-width="1.0"/>
<line x1="26.74" y1="57.19" x2="136.61" y2="14.37" stroke="#e6e6e6" stroke-width="1.0"/>
<line x1="268.47" y1="173.08" x2="268.47" y2="51.38" stroke="#e6e6e6" stroke-width="1.0"/>
<line x1="233.77" y1="163.34" x2="233.77" y2="41.64" stroke="#e6e6e6" stroke-width="1.0"/>
<line x1="199.07" y1="153.6" x2="199.07" y2="31.9" stroke="#e6e6e6" stroke-width="1.0"/>
<line x1="164.37" y1="143.86" x2="164.37" y2="22.16" stroke="#e6e6e6" stroke-width="1.0"/>
<line x1="268.47" y1="173.08" x2="136.61" y2="136.07" stroke="#e6e6e6" stroke-width="1.0"/>
<line x1="268.47" y1="142.66" x2="136.61" y2="105.65" stroke="#e6e6e6" stroke-width="1.0"/>
<line x1="268.47" y1="112.23" x2="136.61" y2="75.22" stroke="#e6e6e6" stroke-width="1.0"/>
<line x1="268.47" y1="81.81" x2="136.61" y2="44.8" stroke="#e6e6e6" stroke-width="1.0"/>
<line x1="268.47" y1="51.38" x2="136.61" y2="14.37" stroke="#e6e6e6" stroke-width="1.0"/>
<line x1="158.6" y1="215.9" x2="268.47" y2="173.08" stroke="#5a5a5a" stroke-width="1.1"/>
<line x1="158.6" y1="215.9" x2="26.74" y2="178.89" stroke="#5a5a5a" stroke-width="1.1"/>
<line x1="26.74" y1="178.89" x2="26.74" y2="57.19" stroke="#5a5a5a" stroke-width="1.1"/>
<line x1="158.6" y1="215.9" x2="161.03" y2="216.58" stroke="#5a5a5a" stroke-width="0.9"/>
<text x="164.6" y="223.9" text-anchor="start" font-size="6.9" font-weight="normal">0</text>
<line x1="183.8" y1="206.08" x2="186.23" y2="206.76" stroke="#5a5a5a" stroke-width="0.9"/>
<text x="189.8" y="214.08" text-anchor="start" font-size="6.9" font-weight="normal">0.5</text>
<line x1="209" y1="196.26" x2="211.43" y2="196.94" stroke="#5a5a5a" stroke-width="0.9"/>
<text x="215" y="204.26" text-anchor="start" font-size="6.9" font-weight="normal">1</text>
<line x1="234.2" y1="186.44" x2="236.63" y2="187.12" stroke="#5a5a5a" stroke-width="0.9"/>
<text x="240.2" y="194.44" text-anchor="start" font-size="6.9" font-weight="normal">1.5</text>
<line x1="259.4" y1="176.62" x2="261.83" y2="177.3" stroke="#5a5a5a" stroke-width="0.9"/>
<text x="265.4" y="184.62" text-anchor="start" font-size="6.9" font-weight="normal">2</text>
<line x1="158.6" y1="215.9" x2="156.08" y2="216.88" stroke="#5a5a5a" stroke-width="0.9"/>
<text x="153.3" y="225.2" text-anchor="end" font-size="6.9" font-weight="normal">0</text>
<line x1="123.9" y1="206.16" x2="121.38" y2="207.14" stroke="#5a5a5a" stroke-width="0.9"/>
<text x="118.6" y="215.46" text-anchor="end" font-size="6.9" font-weight="normal">1</text>
<line x1="89.2" y1="196.42" x2="86.68" y2="197.4" stroke="#5a5a5a" stroke-width="0.9"/>
<text x="83.9" y="205.72" text-anchor="end" font-size="6.9" font-weight="normal">2</text>
<line x1="54.5" y1="186.68" x2="51.98" y2="187.66" stroke="#5a5a5a" stroke-width="0.9"/>
<text x="49.2" y="195.98" text-anchor="end" font-size="6.9" font-weight="normal">3</text>
<line x1="26.74" y1="178.89" x2="24.59" y2="178.28" stroke="#5a5a5a" stroke-width="0.9"/>
<text x="21.34" y="180.39" text-anchor="end" font-size="6.9" font-weight="normal">0</text>
<line x1="26.74" y1="148.46" x2="24.59" y2="147.86" stroke="#5a5a5a" stroke-width="0.9"/>
<text x="21.34" y="149.96" text-anchor="end" font-size="6.9" font-weight="normal">0.5</text>
<line x1="26.74" y1="118.04" x2="24.59" y2="117.43" stroke="#5a5a5a" stroke-width="0.9"/>
<text x="21.34" y="119.54" text-anchor="end" font-size="6.9" font-weight="normal">1</text>
<line x1="26.74" y1="87.61" x2="24.59" y2="87.01" stroke="#5a5a5a" stroke-width="0.9"/>
<text x="21.34" y="89.11" text-anchor="end" font-size="6.9" font-weight="normal">1.5</text>
<line x1="26.74" y1="57.19" x2="24.59" y2="56.58" stroke="#5a5a5a" stroke-width="0.9"/>
<text x="21.34" y="58.69" text-anchor="end" font-size="6.9" font-weight="normal">2</text>
<text x="214.9" y="223.6" text-anchor="middle" font-size="6.9" font-weight="normal">X [m]</text>
<text x="101.8" y="225" text-anchor="middle" font-size="6.9" font-weight="normal">Y [m]</text>
<text x="7.5" y="118.6" text-anchor="middle" font-size="6.9" font-weight="normal" transform="rotate(-90 7.5 118.6)">Z [m]</text>
<text x="147.45" y="11.3" text-anchor="middle" font-size="6.9" font-weight="bold">Left Turn APF - 3D View</text>
<line x1="155.07" y1="87.5" x2="155.09" y2="86.03" stroke="#D95319" stroke-width="1.1" stroke-linecap="round"/>
<line x1="155.04" y1="88.98" x2="155.07" y2="87.5" stroke="#D95319" stroke-width="1.1" stroke-linecap="round"/>
<line x1="155.02" y1="90.45" x2="155.04" y2="88.98" stroke="#D95319" stroke-width="1.1" stroke-linecap="round"/>
<line x1="155" y1="91.93" x2="155.02" y2="90.45" stroke="#D95319" stroke-width="1.1" stroke-linecap="round"/>
<line x1="154.98" y1="93.41" x2="155" y2="91.93" stroke="#D95319" stroke-width="1.1" stroke-linecap="round"/>
<line x1="154.95" y1="94.88" x2="154.98" y2="93.41" stroke="#D95319" stroke-width="1.1" stroke-linecap="round"/>
<line x1="154.93" y1="96.36" x2="154.95" y2="94.88" stroke="#D95319" stroke-width="1.1" stroke-linecap="round"/>
<line x1="154.91" y1="97.83" x2="154.93" y2="96.36" stroke="#D95319" stroke-width="1.1" stroke-linecap="round"/>
<line x1="154.89" y1="99.31" x2="154.91" y2="97.83" stroke="#D95319" stroke-width="1.1" stroke-linecap="round"/>
<line x1="154.86" y1="100.78" x2="154.89" y2="99.31" stroke="#D95319" stroke-width="1.1" stroke-linecap="round"/>
<line x1="154.84" y1="102.26" x2="154.86" y2="100.78" stroke="#D95319" stroke-width="1.1" stroke-linecap="round"/>
<line x1="154.82" y1="103.74" x2="154.84" y2="102.26" stroke="#D95319" stroke-width="1.1" stroke-linecap="round"/>
<circle cx="155.09" cy="86.03" r="1.7" fill="#D95319"/>
<circle cx="154.82" cy="103.74" r="1.7" fill="#D95319"/>
<line x1="155.09" y1="86.03" x2="155.38" y2="84.79" stroke="#D95319" stroke-width="1.1" stroke-linecap="round"/>
<line x1="155.31" y1="104.35" x2="154.82" y2="103.74" stroke="#D95319" stroke-width="1.1" stroke-linecap="round"/>
<line x1="155.38" y1="84.79" x2="155.67" y2="83.55" stroke="#D95319" stroke-width="1.1" stroke-linecap="round"/>
<line x1="155.79" y1="104.97" x2="155.31" y2="104.35" stroke="#D95319" stroke-width="1.1" stroke-linecap="round"/>
<line x1="155.67" y1="83.55" x2="155.96" y2="82.31" stroke="#D95319" stroke-width="1.1" stroke-linecap="round"/>
<line x1="156.28" y1="105.58" x2="155.79" y2="104.97" stroke="#D95319" stroke-width="1.1" stroke-linecap="round"/>
<circle cx="86.44" cy="119.58" r="1.7" fill="#D95319"/>
<line x1="86.28" y1="121" x2="86.44" y2="119.58" stroke="#D95319" stroke-width="1.1" stroke-linecap="round"/>
<line x1="155.96" y1="82.31" x2="156.25" y2="81.07" stroke="#D95319" stroke-width="1.1" stroke-linecap="round"/>
<line x1="86.12" y1="122.41" x2="86.28" y2="121" stroke="#D95319" stroke-width="1.1" stroke-linecap="round"/>
<line x1="156.76" y1="106.2" x2="156.28" y2="105.58" stroke="#D95319" stroke-width="1.1" stroke-linecap="round"/>
<line x1="156.25" y1="81.07" x2="156.54" y2="79.83" stroke="#D95319" stroke-width="1.1" stroke-linecap="round"/>
<line x1="85.95" y1="123.83" x2="86.12" y2="122.41" stroke="#D95319" stroke-width="1.1" stroke-linecap="round"/>
<line x1="157.25" y1="106.81" x2="156.76" y2="106.2" stroke="#D95319" stroke-width="1.1" stroke-linecap="round"/>
<line x1="85.79" y1="125.24" x2="85.95" y2="123.83" stroke="#D95319" stroke-width="1.1" stroke-linecap="round"/>
<line x1="156.54" y1="79.83" x2="156.83" y2="78.59" stroke="#D95319" stroke-width="1.1" stroke-linecap="round"/>
<line x1="85.63" y1="126.66" x2="85.79" y2="125.24" stroke="#D95319" stroke-width="1.1" stroke-linecap="round"/>
<line x1="157.74" y1="107.43" x2="157.25" y2="106.81" stroke="#D95319" stroke-width="1.1" stroke-linecap="round"/>
<line x1="156.83" y1="78.59" x2="157.12" y2="77.35" stroke="#D95319" stroke-width="1.1" stroke-linecap="round"/>
<line x1="85.47" y1="128.07" x2="85.63" y2="126.66" stroke="#D95319" stroke-width="1.1" stroke-linecap="round"/>
<line x1="85.31" y1="129.49" x2="85.47" y2="128.07" stroke="#D95319" stroke-width="1.1" stroke-linecap="round"/>
<line x1="158.22" y1="108.04" x2="157.74" y2="107.43" stroke="#D95319" stroke-width="1.1" stroke-linecap="round"/>
<line x1="157.12" y1="77.35" x2="157.41" y2="76.11" stroke="#D95319" stroke-width="1.1" stroke-linecap="round"/>
<line x1="85.14" y1="130.9" x2="85.31" y2="129.49" stroke="#D95319" stroke-width="1.1" stroke-linecap="round"/>
<line x1="157.41" y1="76.11" x2="157.7" y2="74.87" stroke="#D95319" stroke-width="1.1" stroke-linecap="round"/>
<line x1="158.71" y1="108.66" x2="158.22" y2="108.04" stroke="#D95319" stroke-width="1.1" stroke-linecap="round"/>
<line x1="84.98" y1="132.32" x2="85.14" y2="130.9" stroke="#D95319" stroke-width="1.1" stroke-linecap="round"/>
<line x1="84.82" y1="133.73" x2="84.98" y2="132.32" stroke="#D95319" stroke-width="1.1" stroke-linecap="round"/>
<line x1="157.7" y1="74.87" x2="157.99" y2="73.63" stroke="#D95319" stroke-width="1.1" stroke-linecap="round"/>
<line x1="159.19" y1="109.27" x2="158.71" y2="108.66" stroke="#D95319" stroke-width="1.1" stroke-linecap="round"/>
<line x1="84.66" y1="135.15" x2="84.82" y2="133.73" stroke="#D95319" stroke-width="1.1" stroke-linecap="round"/>
<line x1="157.99" y1="73.63" x2="158.28" y2="72.39" stroke="#D95319" stroke-width="1.1" stroke-linecap="round"/>
<line x1="84.5" y1="136.57" x2="84.66" y2="135.15" stroke="#D95319" stroke-width="1.1" stroke-linecap="round"/>
<line x1="159.68" y1="109.89" x2="159.19" y2="109.27" stroke="#D95319" stroke-width="1.1" stroke-linecap="round"/>
<circle cx="110.53" cy="103.72" r="1.75" fill="#0072BD"/>
<circle cx="84.5" cy="136.57" r="1.7" fill="#D95319"/>
<line x1="109.78" y1="104.82" x2="110.53" y2="103.72" stroke="#0072BD" stroke-width="1.1" stroke-linecap="round"/>
<line x1="84.48" y1="137.97" x2="84.5" y2="136.57" stroke="#D95319" stroke-width="1.1" stroke-linecap="round"/>
<line x1="158.28" y1="72.39" x2="158.57" y2="71.15" stroke="#D95319" stroke-width="1.1" stroke-linecap="round"/>
<line x1="160.17" y1="110.5" x2="159.68" y2="109.89" stroke="#D95319" stroke-width="1.1" stroke-linecap="round"/>
<line x1="84.46" y1="139.38" x2="84.48" y2="137.97" stroke="#D95319" stroke-width="1.1" stroke-linecap="round"/>
<line x1="109.02" y1="105.92" x2="109.78" y2="104.82" stroke="#0072BD" stroke-width="1.1" stroke-linecap="round"/>
<circle cx="158.57" cy="71.15" r="1.7" fill="#D95319"/>
<line x1="84.43" y1="140.78" x2="84.46" y2="139.38" stroke="#D95319" stroke-width="1.1" stroke-linecap="round"/>
<line x1="158.57" y1="71.15" x2="158.68" y2="70.29" stroke="#D95319" stroke-width="1.1" stroke-linecap="round"/>
<line x1="108.26" y1="107.02" x2="109.02" y2="105.92" stroke="#0072BD" stroke-width="1.1" stroke-linecap="round"/>
<line x1="160.65" y1="111.12" x2="160.17" y2="110.5" stroke="#D95319" stroke-width="1.1" stroke-linecap="round"/>
<line x1="84.41" y1="142.19" x2="84.43" y2="140.78" stroke="#D95319" stroke-width="1.1" stroke-linecap="round"/>
<line x1="158.68" y1="70.29" x2="158.8" y2="69.42" stroke="#D95319" stroke-width="1.1" stroke-linecap="round"/>
<line x1="107.5" y1="108.12" x2="108.26" y2="107.02" stroke="#0072BD" stroke-width="1.1" stroke-linecap="round"/>
<line x1="84.39" y1="143.59" x2="84.41" y2="142.19" stroke="#D95319" stroke-width="1.1" stroke-linecap="round"/>
<circle cx="160.65" cy="111.12" r="1.7" fill="#D95319"/>
<line x1="161.14" y1="111.65" x2="160.65" y2="111.12" stroke="#D95319" stroke-width="1.1" stroke-linecap="round"/>
<line x1="84.37" y1="145" x2="84.39" y2="143.59" stroke="#D95319" stroke-width="1.1" stroke-linecap="round"/>
<line x1="185.29" y1="99.02" x2="185.29" y2="97.19" stroke="#1a1a1a" stroke-width="0.95" stroke-linecap="round"/>
<line x1="106.74" y1="109.22" x2="107.5" y2="108.12" stroke="#0072BD" stroke-width="1.1" stroke-linecap="round"/>
<line x1="158.8" y1="69.42" x2="158.92" y2="68.56" stroke="#D95319" stroke-width="1.1" stroke-linecap="round"/>
<line x1="186.68" y1="99.41" x2="185.29" y2="99.02" stroke="#1a1a1a" stroke-width="0.95" stroke-linecap="round"/>
<line x1="84.35" y1="146.41" x2="84.37" y2="145" stroke="#D95319" stroke-width="1.1" stroke-linecap="round"/>
<line x1="161.64" y1="112.17" x2="161.14" y2="111.65" stroke="#D95319" stroke-width="1.1" stroke-linecap="round"/>
<line x1="105.98" y1="110.33" x2="106.74" y2="109.22" stroke="#0072BD" stroke-width="1.1" stroke-linecap="round"/>
<line x1="185.29" y1="97.19" x2="185.29" y2="95.37" stroke="#1a1a1a" stroke-width="0.95" stroke-linecap="round"/>
<line x1="84.33" y1="147.81" x2="84.35" y2="146.41" stroke="#D95319" stroke-width="1.1" stroke-linecap="round"/>
<line x1="183.27" y1="99.8" x2="185.29" y2="99.02" stroke="#1a1a1a" stroke-width="0.95" stroke-linecap="round"/>
<line x1="158.92" y1="68.56" x2="159.04" y2="67.7" stroke="#D95319" stroke-width="1.1" stroke-linecap="round"/>
<line x1="84.31" y1="149.22" x2="84.33" y2="147.81" stroke="#D95319" stroke-width="1.1" stroke-linecap="round"/>
<line x1="105.22" y1="111.43" x2="105.98" y2="110.33" stroke="#0072BD" stroke-width="1.1" stroke-linecap="round"/>
<line x1="185.29" y1="95.37" x2="185.29" y2="93.54" stroke="#1a1a1a" stroke-width="0.95" stroke-linecap="round"/>
<line x1="188.07" y1="99.8" x2="186.68" y2="99.41" stroke="#1a1a1a" stroke-width="0.95" stroke-linecap="round"/>
<line x1="162.13" y1="112.7" x2="161.64" y2="112.17" stroke="#D95319" stroke-width="1.1" stroke-linecap="round"/>
<line x1="84.29" y1="150.62" x2="84.31" y2="149.22" stroke="#D95319" stroke-width="1.1" stroke-linecap="round"/>
<line x1="159.04" y1="67.7" x2="159.15" y2="66.84" stroke="#D95319" stroke-width="1.1" stroke-linecap="round"/>
<line x1="104.46" y1="112.53" x2="105.22" y2="111.43" stroke="#0072BD" stroke-width="1.1" stroke-linecap="round"/>
<line x1="185.29" y1="93.54" x2="185.29" y2="91.72" stroke="#1a1a1a" stroke-width="0.95" stroke-linecap="round"/>
<line x1="84.27" y1="152.03" x2="84.29" y2="150.62" stroke="#D95319" stroke-width="1.1" stroke-linecap="round"/>
<line x1="178.48" y1="99.81" x2="178.48" y2="97.99" stroke="#1a1a1a" stroke-width="0.95" stroke-linecap="round"/>
<line x1="162.62" y1="113.23" x2="162.13" y2="112.7" stroke="#D95319" stroke-width="1.1" stroke-linecap="round"/>
<line x1="103.71" y1="113.63" x2="104.46" y2="112.53" stroke="#0072BD" stroke-width="1.1" stroke-linecap="round"/>
<line x1="84.25" y1="153.44" x2="84.27" y2="152.03" stroke="#D95319" stroke-width="1.1" stroke-linecap="round"/>
<line x1="189.45" y1="100.19" x2="188.07" y2="99.8" stroke="#1a1a1a" stroke-width="0.95" stroke-linecap="round"/>
<line x1="179.87" y1="100.2" x2="178.48" y2="99.81" stroke="#1a1a1a" stroke-width="0.95" stroke-linecap="round"/>
<line x1="159.15" y1="66.84" x2="159.27" y2="65.97" stroke="#D95319" stroke-width="1.1" stroke-linecap="round"/>
<line x1="185.29" y1="91.72" x2="185.29" y2="89.89" stroke="#1a1a1a" stroke-width="0.95" stroke-linecap="round"/>
<circle cx="84.25" cy="153.44" r="1.7" fill="#D95319"/>
<line x1="84.95" y1="153.39" x2="84.25" y2="153.44" stroke="#D95319" stroke-width="1.1" stroke-linecap="round"/>
<line x1="102.95" y1="114.73" x2="103.71" y2="113.63" stroke="#0072BD" stroke-width="1.1" stroke-linecap="round"/>
<line x1="178.48" y1="97.99" x2="178.48" y2="96.16" stroke="#1a1a1a" stroke-width="0.95" stroke-linecap="round"/>
<line x1="181.26" y1="100.59" x2="183.27" y2="99.8" stroke="#1a1a1a" stroke-width="0.95" stroke-linecap="round"/>
<line x1="176.47" y1="100.6" x2="178.48" y2="99.81" stroke="#1a1a1a" stroke-width="0.95" stroke-linecap="round"/>
<line x1="163.11" y1="113.76" x2="162.62" y2="113.23" stroke="#D95319" stroke-width="1.1" stroke-linecap="round"/>
<line x1="185.29" y1="89.89" x2="185.29" y2="88.07" stroke="#1a1a1a" stroke-width="0.95" stroke-linecap="round"/>
<line x1="159.27" y1="65.97" x2="159.39" y2="65.11" stroke="#D95319" stroke-width="1.1" stroke-linecap="round"/>
<line x1="85.65" y1="153.33" x2="84.95" y2="153.39" stroke="#D95319" stroke-width="1.1" stroke-linecap="round"/>
<line x1="102.19" y1="115.83" x2="102.95" y2="114.73" stroke="#0072BD" stroke-width="1.1" stroke-linecap="round"/>
<line x1="178.48" y1="96.16" x2="178.48" y2="94.33" stroke="#1a1a1a" stroke-width="0.95" stroke-linecap="round"/>
<line x1="190.84" y1="100.58" x2="189.45" y2="100.19" stroke="#1a1a1a" stroke-width="0.95" stroke-linecap="round"/>
<line x1="181.26" y1="100.59" x2="179.87" y2="100.2" stroke="#1a1a1a" stroke-width="0.95" stroke-linecap="round"/>
<line x1="185.29" y1="88.07" x2="185.29" y2="86.24" stroke="#1a1a1a" stroke-width="0.95" stroke-linecap="round"/>
<line x1="86.35" y1="153.28" x2="85.65" y2="153.33" stroke="#D95319" stroke-width="1.1" stroke-linecap="round"/>
<line x1="163.61" y1="114.29" x2="163.11" y2="113.76" stroke="#D95319" stroke-width="1.1" stroke-linecap="round"/>
<line x1="101.43" y1="116.93" x2="102.19" y2="115.83" stroke="#0072BD" stroke-width="1.1" stroke-linecap="round"/>
<line x1="159.39" y1="65.11" x2="159.51" y2="64.25" stroke="#D95319" stroke-width="1.1" stroke-linecap="round"/>
<line x1="178.48" y1="94.33" x2="178.48" y2="92.51" stroke="#1a1a1a" stroke-width="0.95" stroke-linecap="round"/>
<line x1="87.05" y1="153.23" x2="86.35" y2="153.28" stroke="#D95319" stroke-width="1.1" stroke-linecap="round"/>
<circle cx="101.43" cy="116.93" r="1.75" fill="#0072BD"/>
<line x1="185.29" y1="86.24" x2="185.29" y2="84.42" stroke="#1a1a1a" stroke-width="0.95" stroke-linecap="round"/>
<line x1="192.23" y1="100.97" x2="190.84" y2="100.58" stroke="#1a1a1a" stroke-width="0.95" stroke-linecap="round"/>
<line x1="182.65" y1="100.98" x2="181.26" y2="100.59" stroke="#1a1a1a" stroke-width="0.95" stroke-linecap="round"/>
<line x1="164.1" y1="114.82" x2="163.61" y2="114.29" stroke="#D95319" stroke-width="1.1" stroke-linecap="round"/>
<line x1="101.61" y1="117.64" x2="101.43" y2="116.93" stroke="#0072BD" stroke-width="1.1" stroke-linecap="round"/>
<line x1="159.51" y1="64.25" x2="159.63" y2="63.39" stroke="#D95319" stroke-width="1.1" stroke-linecap="round"/>
<line x1="178.48" y1="92.51" x2="178.48" y2="90.68" stroke="#1a1a1a" stroke-width="0.95" stroke-linecap="round"/>
<line x1="87.75" y1="153.18" x2="87.05" y2="153.23" stroke="#D95319" stroke-width="1.1" stroke-linecap="round"/>
<line x1="185.29" y1="84.42" x2="185.29" y2="82.59" stroke="#1a1a1a" stroke-width="0.95" stroke-linecap="round"/>
<line x1="179.24" y1="101.38" x2="181.26" y2="100.59" stroke="#1a1a1a" stroke-width="0.95" stroke-linecap="round"/>
<line x1="174.45" y1="101.38" x2="176.47" y2="100.6" stroke="#1a1a1a" stroke-width="0.95" stroke-linecap="round"/>
<line x1="88.46" y1="153.13" x2="87.75" y2="153.18" stroke="#D95319" stroke-width="1.1" stroke-linecap="round"/>
<line x1="178.48" y1="90.68" x2="178.48" y2="88.86" stroke="#1a1a1a" stroke-width="0.95" stroke-linecap="round"/>
<line x1="159.63" y1="63.39" x2="159.74" y2="62.52" stroke="#D95319" stroke-width="1.1" stroke-linecap="round"/>
<line x1="164.59" y1="115.35" x2="164.1" y2="114.82" stroke="#D95319" stroke-width="1.1" stroke-linecap="round"/>
<line x1="168.27" y1="101" x2="168.27" y2="99.17" stroke="#1a1a1a" stroke-width="0.95" stroke-linecap="round"/>
<line x1="185.29" y1="82.59" x2="185.29" y2="80.76" stroke="#1a1a1a" stroke-width="0.95" stroke-linecap="round"/>
<line x1="193.62" y1="101.36" x2="192.23" y2="100.97" stroke="#1a1a1a" stroke-width="0.95" stroke-linecap="round"/>
<line x1="101.79" y1="118.34" x2="101.61" y2="117.64" stroke="#0072BD" stroke-width="1.1" stroke-linecap="round"/>
<line x1="184.03" y1="101.37" x2="182.65" y2="100.98" stroke="#1a1a1a" stroke-width="0.95" stroke-linecap="round"/>
<line x1="89.16" y1="153.08" x2="88.46" y2="153.13" stroke="#D95319" stroke-width="1.1" stroke-linecap="round"/>
<line x1="169.66" y1="101.39" x2="168.27" y2="101" stroke="#1a1a1a" stroke-width="0.95" stroke-linecap="round"/>
<line x1="178.48" y1="88.86" x2="178.48" y2="87.03" stroke="#1a1a1a" stroke-width="0.95" stroke-linecap="round"/>
<line x1="168.27" y1="99.17" x2="168.27" y2="97.35" stroke="#1a1a1a" stroke-width="0.95" stroke-linecap="round"/>
<line x1="159.74" y1="62.52" x2="159.86" y2="61.66" stroke="#D95319" stroke-width="1.1" stroke-linecap="round"/>
<line x1="89.86" y1="153.02" x2="89.16" y2="153.08" stroke="#D95319" stroke-width="1.1" stroke-linecap="round"/>
<line x1="165.08" y1="115.88" x2="164.59" y2="115.35" stroke="#D95319" stroke-width="1.1" stroke-linecap="round"/>
<line x1="166.25" y1="101.78" x2="168.27" y2="101" stroke="#1a1a1a" stroke-width="0.95" stroke-linecap="round"/>
<line x1="186.68" y1="81.15" x2="185.29" y2="80.76" stroke="#1a1a1a" stroke-width="0.95" stroke-linecap="round"/>
<line x1="178.48" y1="87.03" x2="178.48" y2="85.21" stroke="#1a1a1a" stroke-width="0.95" stroke-linecap="round"/>
<line x1="90.56" y1="152.97" x2="89.86" y2="153.02" stroke="#D95319" stroke-width="1.1" stroke-linecap="round"/>
<line x1="101.97" y1="119.05" x2="101.79" y2="118.34" stroke="#0072BD" stroke-width="1.1" stroke-linecap="round"/>
<line x1="195.01" y1="101.75" x2="193.62" y2="101.36" stroke="#1a1a1a" stroke-width="0.95" stroke-linecap="round"/>
<line x1="168.27" y1="97.35" x2="168.27" y2="95.52" stroke="#1a1a1a" stroke-width="0.95" stroke-linecap="round"/>
<line x1="185.42" y1="101.76" x2="184.03" y2="101.37" stroke="#1a1a1a" stroke-width="0.95" stroke-linecap="round"/>
<line x1="171.05" y1="101.78" x2="169.66" y2="101.39" stroke="#1a1a1a" stroke-width="0.95" stroke-linecap="round"/>
<line x1="159.86" y1="61.66" x2="159.98" y2="60.8" stroke="#D95319" stroke-width="1.1" stroke-linecap="round"/>
<line x1="183.27" y1="81.55" x2="185.29" y2="80.76" stroke="#1a1a1a" stroke-width="0.95" stroke-linecap="round"/>
<line x1="165.57" y1="116.41" x2="165.08" y2="115.88" stroke="#D95319" stroke-width="1.1" stroke-linecap="round"/>
<line x1="91.26" y1="152.92" x2="90.56" y2="152.97" stroke="#D95319" stroke-width="1.1" stroke-linecap="round"/>
<line x1="178.48" y1="85.21" x2="178.48" y2="83.38" stroke="#1a1a1a" stroke-width="0.95" stroke-linecap="round"/>
<line x1="177.23" y1="102.16" x2="179.24" y2="101.38" stroke="#1a1a1a" stroke-width="0.95" stroke-linecap="round"/>
<line x1="172.43" y1="102.17" x2="174.45" y2="101.38" stroke="#1a1a1a" stroke-width="0.95" stroke-linecap="round"/>
<line x1="168.27" y1="95.52" x2="168.27" y2="93.7" stroke="#1a1a1a" stroke-width="0.95" stroke-linecap="round"/>
<line x1="159.98" y1="60.8" x2="159.66" y2="62.26" stroke="#D95319" stroke-width="1.1" stroke-linecap="round"/>
<circle cx="159.98" cy="60.8" r="1.7" fill="#D95319"/>
<line x1="188.07" y1="81.54" x2="186.68" y2="81.15" stroke="#1a1a1a" stroke-width="0.95" stroke-linecap="round"/>
<line x1="91.97" y1="152.87" x2="91.26" y2="152.92" stroke="#D95319" stroke-width="1.1" stroke-linecap="round"/>
<line x1="102.15" y1="119.76" x2="101.97" y2="119.05" stroke="#0072BD" stroke-width="1.1" stroke-linecap="round"/>
<line x1="159.66" y1="62.26" x2="159.34" y2="63.71" stroke="#D95319" stroke-width="1.1" stroke-linecap="round"/>
<line x1="178.48" y1="83.38" x2="178.48" y2="81.56" stroke="#1a1a1a" stroke-width="0.95" stroke-linecap="round"/>
<line x1="196.39" y1="102.14" x2="195.01" y2="101.75" stroke="#1a1a1a" stroke-width="0.95" stroke-linecap="round"/>
<line x1="166.07" y1="116.93" x2="165.57" y2="116.41" stroke="#D95319" stroke-width="1.1" stroke-linecap="round"/>
<line x1="186.81" y1="102.15" x2="185.42" y2="101.76" stroke="#1a1a1a" stroke-width="0.95" stroke-linecap="round"/>
<line x1="172.43" y1="102.17" x2="171.05" y2="101.78" stroke="#1a1a1a" stroke-width="0.95" stroke-linecap="round"/>
<line x1="159.34" y1="63.71" x2="159.01" y2="65.17" stroke="#D95319" stroke-width="1.1" stroke-linecap="round"/>
<line x1="168.27" y1="93.7" x2="168.27" y2="91.87" stroke="#1a1a1a" stroke-width="0.95" stroke-linecap="round"/>
<line x1="92.67" y1="152.82" x2="91.97" y2="152.87" stroke="#D95319" stroke-width="1.1" stroke-linecap="round"/>
<line x1="159.01" y1="65.17" x2="158.69" y2="66.63" stroke="#D95319" stroke-width="1.1" stroke-linecap="round"/>
<line x1="164.24" y1="102.57" x2="166.25" y2="101.78" stroke="#1a1a1a" stroke-width="0.95" stroke-linecap="round"/>
<circle cx="92.67" cy="152.82" r="1.7" fill="#D95319"/>
<line x1="158.69" y1="66.63" x2="158.37" y2="68.09" stroke="#D95319" stroke-width="1.1" stroke-linecap="round"/>
<line x1="93.23" y1="152.86" x2="92.67" y2="152.82" stroke="#D95319" stroke-width="1.1" stroke-linecap="round"/>
<line x1="168.27" y1="91.87" x2="168.27" y2="90.05" stroke="#1a1a1a" stroke-width="0.95" stroke-linecap="round"/>
<line x1="189.45" y1="81.93" x2="188.07" y2="81.54" stroke="#1a1a1a" stroke-width="0.95" stroke-linecap="round"/>
<line x1="166.56" y1="117.46" x2="166.07" y2="116.93" stroke="#D95319" stroke-width="1.1" stroke-linecap="round"/>
<line x1="102.32" y1="120.47" x2="102.15" y2="119.76" stroke="#0072BD" stroke-width="1.1" stroke-linecap="round"/>
<line x1="179.87" y1="81.95" x2="178.48" y2="81.56" stroke="#1a1a1a" stroke-width="0.95" stroke-linecap="round"/>
<line x1="158.37" y1="68.09" x2="158.05" y2="69.55" stroke="#D95319" stroke-width="1.1" stroke-linecap="round"/>
<line x1="158.06" y1="102.19" x2="158.06" y2="100.36" stroke="#1a1a1a" stroke-width="0.95" stroke-linecap="round"/>
<line x1="197.78" y1="102.53" x2="196.39" y2="102.14" stroke="#1a1a1a" stroke-width="0.95" stroke-linecap="round"/>
<line x1="188.2" y1="102.54" x2="186.81" y2="102.15" stroke="#1a1a1a" stroke-width="0.95" stroke-linecap="round"/>
<line x1="93.79" y1="152.89" x2="93.23" y2="152.86" stroke="#D95319" stroke-width="1.1" stroke-linecap="round"/>
<line x1="173.82" y1="102.56" x2="172.43" y2="102.17" stroke="#1a1a1a" stroke-width="0.95" stroke-linecap="round"/>
<line x1="159.45" y1="102.58" x2="158.06" y2="102.19" stroke="#1a1a1a" stroke-width="0.95" stroke-linecap="round"/>
<line x1="158.05" y1="69.55" x2="157.73" y2="71.01" stroke="#D95319" stroke-width="1.1" stroke-linecap="round"/>
<line x1="181.26" y1="82.34" x2="183.27" y2="81.55" stroke="#1a1a1a" stroke-width="0.95" stroke-linecap="round"/>
<circle cx="166.56" cy="117.46" r="1.7" fill="#D95319"/>
<line x1="176.47" y1="82.34" x2="178.48" y2="81.56" stroke="#1a1a1a" stroke-width="0.95" stroke-linecap="round"/>
<line x1="168.27" y1="90.05" x2="168.27" y2="88.22" stroke="#1a1a1a" stroke-width="0.95" stroke-linecap="round"/>
<line x1="157.73" y1="71.01" x2="157.41" y2="72.46" stroke="#D95319" stroke-width="1.1" stroke-linecap="round"/>
<line x1="94.36" y1="152.93" x2="93.79" y2="152.89" stroke="#D95319" stroke-width="1.1" stroke-linecap="round"/>
<line x1="158.06" y1="100.36" x2="158.06" y2="98.54" stroke="#1a1a1a" stroke-width="0.95" stroke-linecap="round"/>
<line x1="166.99" y1="118" x2="166.56" y2="117.46" stroke="#D95319" stroke-width="1.1" stroke-linecap="round"/>
<line x1="175.21" y1="102.95" x2="177.23" y2="102.16" stroke="#1a1a1a" stroke-width="0.95" stroke-linecap="round"/>
<line x1="170.42" y1="102.95" x2="172.43" y2="102.17" stroke="#1a1a1a" stroke-width="0.95" stroke-linecap="round"/>
<line x1="156.04" y1="102.97" x2="158.06" y2="102.19" stroke="#1a1a1a" stroke-width="0.95" stroke-linecap="round"/>
<line x1="157.41" y1="72.46" x2="157.08" y2="73.92" stroke="#D95319" stroke-width="1.1" stroke-linecap="round"/>
<line x1="102.5" y1="121.17" x2="102.32" y2="120.47" stroke="#0072BD" stroke-width="1.1" stroke-linecap="round"/>
<line x1="190.84" y1="82.32" x2="189.45" y2="81.93" stroke="#1a1a1a" stroke-width="0.95" stroke-linecap="round"/>
<line x1="181.26" y1="82.34" x2="179.87" y2="81.95" stroke="#1a1a1a" stroke-width="0.95" stroke-linecap="round"/>
<line x1="94.92" y1="152.97" x2="94.36" y2="152.93" stroke="#D95319" stroke-width="1.1" stroke-linecap="round"/>
<line x1="168.27" y1="88.22" x2="168.27" y2="86.4" stroke="#1a1a1a" stroke-width="0.95" stroke-linecap="round"/>
<line x1="157.08" y1="73.92" x2="156.76" y2="75.38" stroke="#D95319" stroke-width="1.1" stroke-linecap="round"/>
<line x1="199.17" y1="102.91" x2="197.78" y2="102.53" stroke="#1a1a1a" stroke-width="0.95" stroke-linecap="round"/>
<line x1="189.59" y1="102.93" x2="188.2" y2="102.54" stroke="#1a1a1a" stroke-width="0.95" stroke-linecap="round"/>
<line x1="158.06" y1="98.54" x2="158.06" y2="96.71" stroke="#1a1a1a" stroke-width="0.95" stroke-linecap="round"/>
<line x1="175.21" y1="102.95" x2="173.82" y2="102.56" stroke="#1a1a1a" stroke-width="0.95" stroke-linecap="round"/>
<line x1="160.83" y1="102.97" x2="159.45" y2="102.58" stroke="#1a1a1a" stroke-width="0.95" stroke-linecap="round"/>
<line x1="156.76" y1="75.38" x2="156.44" y2="76.84" stroke="#D95319" stroke-width="1.1" stroke-linecap="round"/>
<line x1="95.48" y1="153.01" x2="94.92" y2="152.97" stroke="#D95319" stroke-width="1.1" stroke-linecap="round"/>
<line x1="167.42" y1="118.53" x2="166.99" y2="118" stroke="#D95319" stroke-width="1.1" stroke-linecap="round"/>
<line x1="156.44" y1="76.84" x2="156.12" y2="78.3" stroke="#D95319" stroke-width="1.1" stroke-linecap="round"/>
<line x1="168.27" y1="86.4" x2="168.27" y2="84.57" stroke="#1a1a1a" stroke-width="0.95" stroke-linecap="round"/>
<line x1="96.05" y1="153.05" x2="95.48" y2="153.01" stroke="#D95319" stroke-width="1.1" stroke-linecap="round"/>
<line x1="102.68" y1="121.88" x2="102.5" y2="121.17" stroke="#0072BD" stroke-width="1.1" stroke-linecap="round"/>
<line x1="162.22" y1="103.36" x2="164.24" y2="102.57" stroke="#1a1a1a" stroke-width="0.95" stroke-linecap="round"/>
<line x1="158.06" y1="96.71" x2="158.06" y2="94.89" stroke="#1a1a1a" stroke-width="0.95" stroke-linecap="round"/>
<line x1="156.12" y1="78.3" x2="154.89" y2="79.07" stroke="#D95319" stroke-width="1.1" stroke-linecap="round"/>
<circle cx="156.12" cy="78.3" r="1.7" fill="#D95319"/>
<line x1="192.23" y1="82.71" x2="190.84" y2="82.32" stroke="#1a1a1a" stroke-width="0.95" stroke-linecap="round"/>
<line x1="182.65" y1="82.72" x2="181.26" y2="82.34" stroke="#1a1a1a" stroke-width="0.95" stroke-linecap="round"/>
<line x1="199.17" y1="102.91" x2="199.17" y2="101.09" stroke="#1a1a1a" stroke-width="0.95" stroke-linecap="round"/>
<line x1="154.89" y1="79.07" x2="153.67" y2="79.85" stroke="#D95319" stroke-width="1.1" stroke-linecap="round"/>
<line x1="96.61" y1="153.09" x2="96.05" y2="153.05" stroke="#D95319" stroke-width="1.1" stroke-linecap="round"/>
<line x1="151.25" y1="102.98" x2="151.25" y2="101.15" stroke="#FF2020" stroke-width="0.95" stroke-linecap="round"/>
<line x1="168.27" y1="84.57" x2="168.27" y2="82.74" stroke="#1a1a1a" stroke-width="0.95" stroke-linecap="round"/>
<line x1="190.97" y1="103.32" x2="189.59" y2="102.93" stroke="#1a1a1a" stroke-width="0.95" stroke-linecap="round"/>
<line x1="176.6" y1="103.34" x2="175.21" y2="102.95" stroke="#1a1a1a" stroke-width="0.95" stroke-linecap="round"/>
<line x1="153.67" y1="79.85" x2="152.44" y2="80.62" stroke="#D95319" stroke-width="1.1" stroke-linecap="round"/>
<line x1="167.85" y1="119.07" x2="167.42" y2="118.53" stroke="#D95319" stroke-width="1.1" stroke-linecap="round"/>
<line x1="162.22" y1="103.36" x2="160.83" y2="102.97" stroke="#1a1a1a" stroke-width="0.95" stroke-linecap="round"/>
<line x1="152.64" y1="103.37" x2="151.25" y2="102.98" stroke="#FF2020" stroke-width="0.95" stroke-linecap="round"/>
<line x1="158.06" y1="94.89" x2="158.06" y2="93.06" stroke="#1a1a1a" stroke-width="0.95" stroke-linecap="round"/>
<line x1="179.24" y1="83.12" x2="181.26" y2="82.34" stroke="#1a1a1a" stroke-width="0.95" stroke-linecap="round"/>
<line x1="174.45" y1="83.13" x2="176.47" y2="82.34" stroke="#1a1a1a" stroke-width="0.95" stroke-linecap="round"/>
<line x1="97.17" y1="153.12" x2="96.61" y2="153.09" stroke="#D95319" stroke-width="1.1" stroke-linecap="round"/>
<line x1="152.44" y1="80.62" x2="151.22" y2="81.4" stroke="#D95319" stroke-width="1.1" stroke-linecap="round"/>
<line x1="199.17" y1="101.09" x2="199.17" y2="99.26" stroke="#1a1a1a" stroke-width="0.95" stroke-linecap="round"/>
<line x1="151.25" y1="101.15" x2="151.25" y2="99.33" stroke="#FF2020" stroke-width="0.95" stroke-linecap="round"/>
<line x1="102.86" y1="122.59" x2="102.68" y2="121.88" stroke="#0072BD" stroke-width="1.1" stroke-linecap="round"/>
<line x1="197.15" y1="103.7" x2="199.17" y2="102.91" stroke="#1a1a1a" stroke-width="0.95" stroke-linecap="round"/>
<line x1="151.22" y1="81.4" x2="150" y2="82.17" stroke="#D95319" stroke-width="1.1" stroke-linecap="round"/>
<line x1="173.19" y1="103.73" x2="175.21" y2="102.95" stroke="#1a1a1a" stroke-width="0.95" stroke-linecap="round"/>
<line x1="168.4" y1="103.74" x2="170.42" y2="102.95" stroke="#1a1a1a" stroke-width="0.95" stroke-linecap="round"/>
<line x1="154.03" y1="103.76" x2="156.04" y2="102.97" stroke="#1a1a1a" stroke-width="0.95" stroke-linecap="round"/>
<line x1="149.23" y1="103.76" x2="151.25" y2="102.98" stroke="#FF2020" stroke-width="0.95" stroke-linecap="round"/>
<line x1="97.74" y1="153.16" x2="97.17" y2="153.12" stroke="#D95319" stroke-width="1.1" stroke-linecap="round"/>
<line x1="193.62" y1="83.1" x2="192.23" y2="82.71" stroke="#1a1a1a" stroke-width="0.95" stroke-linecap="round"/>
<line x1="150" y1="82.17" x2="148.77" y2="82.95" stroke="#D95319" stroke-width="1.1" stroke-linecap="round"/>
<line x1="184.03" y1="83.11" x2="182.65" y2="82.72" stroke="#1a1a1a" stroke-width="0.95" stroke-linecap="round"/>
<line x1="158.06" y1="93.06" x2="158.06" y2="91.23" stroke="#1a1a1a" stroke-width="0.95" stroke-linecap="round"/>
<line x1="169.66" y1="83.13" x2="168.27" y2="82.74" stroke="#1a1a1a" stroke-width="0.95" stroke-linecap="round"/>
<line x1="168.28" y1="119.6" x2="167.85" y2="119.07" stroke="#D95319" stroke-width="1.1" stroke-linecap="round"/>
<line x1="199.17" y1="99.26" x2="199.17" y2="97.44" stroke="#1a1a1a" stroke-width="0.95" stroke-linecap="round"/>
<line x1="148.77" y1="82.95" x2="147.55" y2="83.72" stroke="#D95319" stroke-width="1.1" stroke-linecap="round"/>
<line x1="192.36" y1="103.71" x2="190.97" y2="103.32" stroke="#1a1a1a" stroke-width="0.95" stroke-linecap="round"/>
<line x1="98.3" y1="153.2" x2="97.74" y2="153.16" stroke="#D95319" stroke-width="1.1" stroke-linecap="round"/>
<line x1="151.25" y1="99.33" x2="151.25" y2="97.5" stroke="#FF2020" stroke-width="0.95" stroke-linecap="round"/>
<line x1="177.99" y1="103.73" x2="176.6" y2="103.34" stroke="#1a1a1a" stroke-width="0.95" stroke-linecap="round"/>
<line x1="163.61" y1="103.75" x2="162.22" y2="103.36" stroke="#1a1a1a" stroke-width="0.95" stroke-linecap="round"/>
<line x1="154.03" y1="103.76" x2="152.64" y2="103.37" stroke="#FF2020" stroke-width="0.95" stroke-linecap="round"/>
<line x1="147.55" y1="83.72" x2="146.32" y2="84.5" stroke="#D95319" stroke-width="1.1" stroke-linecap="round"/>
<line x1="166.25" y1="83.53" x2="168.27" y2="82.74" stroke="#1a1a1a" stroke-width="0.95" stroke-linecap="round"/>
<line x1="158.06" y1="91.23" x2="158.06" y2="89.41" stroke="#1a1a1a" stroke-width="0.95" stroke-linecap="round"/>
<line x1="103.04" y1="123.3" x2="102.86" y2="122.59" stroke="#0072BD" stroke-width="1.1" stroke-linecap="round"/>
<line x1="146.32" y1="84.5" x2="145.1" y2="85.27" stroke="#D95319" stroke-width="1.1" stroke-linecap="round"/>
<line x1="98.86" y1="153.24" x2="98.3" y2="153.2" stroke="#D95319" stroke-width="1.1" stroke-linecap="round"/>
<line x1="199.17" y1="97.44" x2="199.17" y2="95.61" stroke="#1a1a1a" stroke-width="0.95" stroke-linecap="round"/>
<line x1="160.21" y1="104.14" x2="162.22" y2="103.36" stroke="#1a1a1a" stroke-width="0.95" stroke-linecap="round"/>
<line x1="145.1" y1="85.27" x2="143.87" y2="86.05" stroke="#D95319" stroke-width="1.1" stroke-linecap="round"/>
<line x1="151.25" y1="97.5" x2="151.25" y2="95.68" stroke="#FF2020" stroke-width="0.95" stroke-linecap="round"/>
<line x1="168.7" y1="120.14" x2="168.28" y2="119.6" stroke="#D95319" stroke-width="1.1" stroke-linecap="round"/>
<line x1="195.01" y1="83.49" x2="193.62" y2="83.1" stroke="#1a1a1a" stroke-width="0.95" stroke-linecap="round"/>
<line x1="185.42" y1="83.5" x2="184.03" y2="83.11" stroke="#1a1a1a" stroke-width="0.95" stroke-linecap="round"/>
<line x1="99.42" y1="153.28" x2="98.86" y2="153.24" stroke="#D95319" stroke-width="1.1" stroke-linecap="round"/>
<line x1="171.05" y1="83.52" x2="169.66" y2="83.13" stroke="#1a1a1a" stroke-width="0.95" stroke-linecap="round"/>
<line x1="192.36" y1="103.71" x2="192.36" y2="101.88" stroke="#1a1a1a" stroke-width="0.95" stroke-linecap="round"/>
<line x1="143.87" y1="86.05" x2="142.65" y2="86.82" stroke="#D95319" stroke-width="1.1" stroke-linecap="round"/>
<line x1="158.06" y1="89.41" x2="158.06" y2="87.58" stroke="#1a1a1a" stroke-width="0.95" stroke-linecap="round"/>
<line x1="179.37" y1="104.12" x2="177.99" y2="103.73" stroke="#1a1a1a" stroke-width="0.95" stroke-linecap="round"/>
<line x1="142.65" y1="86.82" x2="141.42" y2="87.6" stroke="#D95319" stroke-width="1.1" stroke-linecap="round"/>
<line x1="199.17" y1="95.61" x2="199.17" y2="93.79" stroke="#1a1a1a" stroke-width="0.95" stroke-linecap="round"/>
<line x1="165" y1="104.14" x2="163.61" y2="103.75" stroke="#1a1a1a" stroke-width="0.95" stroke-linecap="round"/>
<circle cx="99.42" cy="153.28" r="1.7" fill="#D95319"/>
<line x1="155.41" y1="104.15" x2="154.03" y2="103.76" stroke="#FF2020" stroke-width="0.95" stroke-linecap="round"/>
<line x1="151.25" y1="95.68" x2="151.25" y2="93.85" stroke="#FF2020" stroke-width="0.95" stroke-linecap="round"/>
<line x1="100.27" y1="152.9" x2="99.42" y2="153.28" stroke="#D95319" stroke-width="1.1" stroke-linecap="round"/>
<line x1="177.23" y1="83.91" x2="179.24" y2="83.12" stroke="#1a1a1a" stroke-width="0.95" stroke-linecap="round"/>
<line x1="172.43" y1="83.91" x2="174.45" y2="83.13" stroke="#1a1a1a" stroke-width="0.95" stroke-linecap="round"/>
<circle cx="141.42" cy="87.6" r="1.7" fill="#D95319"/>
<line x1="103.22" y1="124" x2="103.04" y2="123.3" stroke="#0072BD" stroke-width="1.1" stroke-linecap="round"/>
<line x1="192.36" y1="101.88" x2="192.36" y2="100.06" stroke="#1a1a1a" stroke-width="0.95" stroke-linecap="round"/>
<line x1="141.42" y1="87.6" x2="140.97" y2="89.03" stroke="#D95319" stroke-width="1.1" stroke-linecap="round"/>
<line x1="169.13" y1="120.67" x2="168.7" y2="120.14" stroke="#D95319" stroke-width="1.1" stroke-linecap="round"/>
<line x1="158.06" y1="87.58" x2="158.06" y2="85.76" stroke="#1a1a1a" stroke-width="0.95" stroke-linecap="round"/>
<line x1="195.14" y1="104.49" x2="197.15" y2="103.7" stroke="#1a1a1a" stroke-width="0.95" stroke-linecap="round"/>
<line x1="190.35" y1="104.49" x2="192.36" y2="103.71" stroke="#1a1a1a" stroke-width="0.95" stroke-linecap="round"/>
<line x1="171.18" y1="104.52" x2="173.19" y2="103.73" stroke="#1a1a1a" stroke-width="0.95" stroke-linecap="round"/>
<line x1="166.39" y1="104.52" x2="168.4" y2="103.74" stroke="#1a1a1a" stroke-width="0.95" stroke-linecap="round"/>
<line x1="152.01" y1="104.54" x2="154.03" y2="103.76" stroke="#1a1a1a" stroke-width="0.95" stroke-linecap="round"/>
<line x1="147.22" y1="104.55" x2="149.23" y2="103.76" stroke="#FF2020" stroke-width="0.95" stroke-linecap="round"/>
<line x1="199.17" y1="93.79" x2="199.17" y2="91.96" stroke="#1a1a1a" stroke-width="0.95" stroke-linecap="round"/>
<line x1="196.39" y1="83.88" x2="195.01" y2="83.49" stroke="#1a1a1a" stroke-width="0.95" stroke-linecap="round"/>
<line x1="101.11" y1="152.52" x2="100.27" y2="152.9" stroke="#D95319" stroke-width="1.1" stroke-linecap="round"/>
<line x1="186.81" y1="83.89" x2="185.42" y2="83.5" stroke="#1a1a1a" stroke-width="0.95" stroke-linecap="round"/>
<line x1="151.25" y1="93.85" x2="151.25" y2="92.03" stroke="#FF2020" stroke-width="0.95" stroke-linecap="round"/>
<line x1="172.43" y1="83.91" x2="171.05" y2="83.52" stroke="#1a1a1a" stroke-width="0.95" stroke-linecap="round"/>
<line x1="140.97" y1="89.03" x2="140.52" y2="90.47" stroke="#D95319" stroke-width="1.1" stroke-linecap="round"/>
<line x1="192.36" y1="100.06" x2="192.36" y2="98.23" stroke="#1a1a1a" stroke-width="0.95" stroke-linecap="round"/>
<line x1="158.06" y1="85.76" x2="158.06" y2="83.93" stroke="#1a1a1a" stroke-width="0.95" stroke-linecap="round"/>
<line x1="180.76" y1="104.51" x2="179.37" y2="104.12" stroke="#1a1a1a" stroke-width="0.95" stroke-linecap="round"/>
<line x1="166.39" y1="104.52" x2="165" y2="104.14" stroke="#1a1a1a" stroke-width="0.95" stroke-linecap="round"/>
<line x1="156.8" y1="104.54" x2="155.41" y2="104.15" stroke="#FF2020" stroke-width="0.95" stroke-linecap="round"/>
<line x1="199.17" y1="91.96" x2="199.17" y2="90.14" stroke="#1a1a1a" stroke-width="0.95" stroke-linecap="round"/>
<line x1="101.95" y1="152.14" x2="101.11" y2="152.52" stroke="#D95319" stroke-width="1.1" stroke-linecap="round"/>
<line x1="103.4" y1="124.71" x2="103.22" y2="124" stroke="#0072BD" stroke-width="1.1" stroke-linecap="round"/>
<line x1="169.56" y1="121.21" x2="169.13" y2="120.67" stroke="#D95319" stroke-width="1.1" stroke-linecap="round"/>
<line x1="164.24" y1="84.32" x2="166.25" y2="83.53" stroke="#1a1a1a" stroke-width="0.95" stroke-linecap="round"/>
<line x1="151.25" y1="92.03" x2="151.25" y2="90.2" stroke="#FF2020" stroke-width="0.95" stroke-linecap="round"/>
<line x1="140.52" y1="90.47" x2="140.07" y2="91.9" stroke="#D95319" stroke-width="1.1" stroke-linecap="round"/>
<line x1="192.36" y1="98.23" x2="192.36" y2="96.41" stroke="#1a1a1a" stroke-width="0.95" stroke-linecap="round"/>
<line x1="158.19" y1="104.93" x2="160.21" y2="104.14" stroke="#1a1a1a" stroke-width="0.95" stroke-linecap="round"/>
<line x1="102.79" y1="151.75" x2="101.95" y2="152.14" stroke="#D95319" stroke-width="1.1" stroke-linecap="round"/>
<line x1="197.78" y1="84.27" x2="196.39" y2="83.88" stroke="#1a1a1a" stroke-width="0.95" stroke-linecap="round"/>
<line x1="188.2" y1="84.28" x2="186.81" y2="83.89" stroke="#1a1a1a" stroke-width="0.95" stroke-linecap="round"/>
<line x1="199.17" y1="90.14" x2="199.17" y2="88.31" stroke="#1a1a1a" stroke-width="0.95" stroke-linecap="round"/>
<line x1="173.82" y1="84.3" x2="172.43" y2="83.91" stroke="#1a1a1a" stroke-width="0.95" stroke-linecap="round"/>
<line x1="159.45" y1="84.32" x2="158.06" y2="83.93" stroke="#1a1a1a" stroke-width="0.95" stroke-linecap="round"/>
<line x1="151.25" y1="90.2" x2="151.25" y2="88.38" stroke="#FF2020" stroke-width="0.95" stroke-linecap="round"/>
<line x1="140.07" y1="91.9" x2="139.63" y2="93.34" stroke="#D95319" stroke-width="1.1" stroke-linecap="round"/>
<line x1="182.15" y1="104.89" x2="180.76" y2="104.51" stroke="#1a1a1a" stroke-width="0.95" stroke-linecap="round"/>
<line x1="169.99" y1="121.74" x2="169.56" y2="121.21" stroke="#D95319" stroke-width="1.1" stroke-linecap="round"/>
<line x1="192.36" y1="96.41" x2="192.36" y2="94.58" stroke="#1a1a1a" stroke-width="0.95" stroke-linecap="round"/>
<line x1="167.77" y1="104.91" x2="166.39" y2="104.52" stroke="#1a1a1a" stroke-width="0.95" stroke-linecap="round"/>
<line x1="158.19" y1="104.93" x2="156.8" y2="104.54" stroke="#FF2020" stroke-width="0.95" stroke-linecap="round"/>
<line x1="103.58" y1="125.42" x2="103.4" y2="124.71" stroke="#0072BD" stroke-width="1.1" stroke-linecap="round"/>
<line x1="103.63" y1="151.37" x2="102.79" y2="151.75" stroke="#D95319" stroke-width="1.1" stroke-linecap="round"/>
<line x1="175.21" y1="84.69" x2="177.23" y2="83.91" stroke="#1a1a1a" stroke-width="0.95" stroke-linecap="round"/>
<line x1="170.42" y1="84.7" x2="172.43" y2="83.91" stroke="#1a1a1a" stroke-width="0.95" stroke-linecap="round"/>
<line x1="156.04" y1="84.72" x2="158.06" y2="83.93" stroke="#1a1a1a" stroke-width="0.95" stroke-linecap="round"/>
<line x1="199.17" y1="88.31" x2="199.17" y2="86.49" stroke="#1a1a1a" stroke-width="0.95" stroke-linecap="round"/>
<line x1="139.63" y1="93.34" x2="139.18" y2="94.77" stroke="#D95319" stroke-width="1.1" stroke-linecap="round"/>
<line x1="151.25" y1="88.38" x2="151.25" y2="86.55" stroke="#FF2020" stroke-width="0.95" stroke-linecap="round"/>
<line x1="193.12" y1="105.27" x2="195.14" y2="104.49" stroke="#1a1a1a" stroke-width="0.95" stroke-linecap="round"/>
<line x1="188.33" y1="105.28" x2="190.35" y2="104.49" stroke="#1a1a1a" stroke-width="0.95" stroke-linecap="round"/>
<line x1="169.16" y1="105.3" x2="171.18" y2="104.52" stroke="#1a1a1a" stroke-width="0.95" stroke-linecap="round"/>
<line x1="164.37" y1="105.31" x2="166.39" y2="104.52" stroke="#1a1a1a" stroke-width="0.95" stroke-linecap="round"/>
<line x1="149.99" y1="105.33" x2="152.01" y2="104.54" stroke="#1a1a1a" stroke-width="0.95" stroke-linecap="round"/>
<line x1="145.2" y1="105.34" x2="147.22" y2="104.55" stroke="#FF2020" stroke-width="0.95" stroke-linecap="round"/>
<line x1="192.36" y1="94.58" x2="192.36" y2="92.75" stroke="#1a1a1a" stroke-width="0.95" stroke-linecap="round"/>
<line x1="104.47" y1="150.99" x2="103.63" y2="151.37" stroke="#D95319" stroke-width="1.1" stroke-linecap="round"/>
<line x1="199.17" y1="84.66" x2="197.78" y2="84.27" stroke="#1a1a1a" stroke-width="0.95" stroke-linecap="round"/>
<circle cx="103.58" cy="125.42" r="1.75" fill="#0072BD"/>
<line x1="189.59" y1="84.67" x2="188.2" y2="84.28" stroke="#1a1a1a" stroke-width="0.95" stroke-linecap="round"/>
<line x1="175.21" y1="84.69" x2="173.82" y2="84.3" stroke="#1a1a1a" stroke-width="0.95" stroke-linecap="round"/>
<line x1="160.83" y1="84.71" x2="159.45" y2="84.32" stroke="#1a1a1a" stroke-width="0.95" stroke-linecap="round"/>
<line x1="182.15" y1="104.89" x2="182.15" y2="103.07" stroke="#1a1a1a" stroke-width="0.95" stroke-linecap="round"/>
<line x1="170.42" y1="122.28" x2="169.99" y2="121.74" stroke="#D95319" stroke-width="1.1" stroke-linecap="round"/>
<line x1="199.17" y1="86.49" x2="199.17" y2="84.66" stroke="#1a1a1a" stroke-width="0.95" stroke-linecap="round"/>
<line x1="139.18" y1="94.77" x2="138.73" y2="96.2" stroke="#D95319" stroke-width="1.1" stroke-linecap="round"/>
<line x1="104.07" y1="125.32" x2="103.58" y2="125.42" stroke="#0072BD" stroke-width="1.1" stroke-linecap="round"/>
<line x1="151.25" y1="86.55" x2="151.25" y2="84.72" stroke="#FF2020" stroke-width="0.95" stroke-linecap="round"/>
<line x1="169.16" y1="105.3" x2="167.77" y2="104.91" stroke="#1a1a1a" stroke-width="0.95" stroke-linecap="round"/>
<line x1="159.58" y1="105.32" x2="158.19" y2="104.93" stroke="#FF2020" stroke-width="0.95" stroke-linecap="round"/>
<line x1="105.31" y1="150.61" x2="104.47" y2="150.99" stroke="#D95319" stroke-width="1.1" stroke-linecap="round"/>
<line x1="192.36" y1="92.75" x2="192.36" y2="90.93" stroke="#1a1a1a" stroke-width="0.95" stroke-linecap="round"/>
<line x1="162.22" y1="85.1" x2="164.24" y2="84.32" stroke="#1a1a1a" stroke-width="0.95" stroke-linecap="round"/>
<line x1="182.15" y1="103.07" x2="182.15" y2="101.24" stroke="#1a1a1a" stroke-width="0.95" stroke-linecap="round"/>
<line x1="138.73" y1="96.2" x2="138.28" y2="97.64" stroke="#D95319" stroke-width="1.1" stroke-linecap="round"/>
<line x1="180.13" y1="105.68" x2="182.15" y2="104.89" stroke="#1a1a1a" stroke-width="0.95" stroke-linecap="round"/>
<line x1="156.17" y1="105.71" x2="158.19" y2="104.93" stroke="#1a1a1a" stroke-width="0.95" stroke-linecap="round"/>
<line x1="170.85" y1="122.81" x2="170.42" y2="122.28" stroke="#D95319" stroke-width="1.1" stroke-linecap="round"/>
<line x1="106.15" y1="150.23" x2="105.31" y2="150.61" stroke="#D95319" stroke-width="1.1" stroke-linecap="round"/>
<line x1="190.97" y1="85.06" x2="189.59" y2="84.67" stroke="#1a1a1a" stroke-width="0.95" stroke-linecap="round"/>
<line x1="176.6" y1="85.08" x2="175.21" y2="84.69" stroke="#1a1a1a" stroke-width="0.95" stroke-linecap="round"/>
<line x1="192.36" y1="90.93" x2="192.36" y2="89.1" stroke="#1a1a1a" stroke-width="0.95" stroke-linecap="round"/>
<line x1="162.22" y1="85.1" x2="160.83" y2="84.71" stroke="#1a1a1a" stroke-width="0.95" stroke-linecap="round"/>
<line x1="152.64" y1="85.11" x2="151.25" y2="84.72" stroke="#FF2020" stroke-width="0.95" stroke-linecap="round"/>
<line x1="138.28" y1="97.64" x2="137.83" y2="99.07" stroke="#D95319" stroke-width="1.1" stroke-linecap="round"/>
<line x1="104.57" y1="125.23" x2="104.07" y2="125.32" stroke="#0072BD" stroke-width="1.1" stroke-linecap="round"/>
<line x1="182.15" y1="101.24" x2="182.15" y2="99.42" stroke="#1a1a1a" stroke-width="0.95" stroke-linecap="round"/>
<line x1="170.55" y1="105.69" x2="169.16" y2="105.3" stroke="#1a1a1a" stroke-width="0.95" stroke-linecap="round"/>
<line x1="160.97" y1="105.71" x2="159.58" y2="105.32" stroke="#FF2020" stroke-width="0.95" stroke-linecap="round"/>
<line x1="106.99" y1="149.85" x2="106.15" y2="150.23" stroke="#D95319" stroke-width="1.1" stroke-linecap="round"/>
<line x1="197.15" y1="85.45" x2="199.17" y2="84.66" stroke="#1a1a1a" stroke-width="0.95" stroke-linecap="round"/>
<line x1="173.19" y1="85.48" x2="175.21" y2="84.69" stroke="#1a1a1a" stroke-width="0.95" stroke-linecap="round"/>
<line x1="168.4" y1="85.48" x2="170.42" y2="84.7" stroke="#1a1a1a" stroke-width="0.95" stroke-linecap="round"/>
<line x1="154.03" y1="85.5" x2="156.04" y2="84.72" stroke="#1a1a1a" stroke-width="0.95" stroke-linecap="round"/>
<line x1="149.23" y1="85.51" x2="151.25" y2="84.72" stroke="#FF2020" stroke-width="0.95" stroke-linecap="round"/>
<line x1="192.36" y1="89.1" x2="192.36" y2="87.28" stroke="#1a1a1a" stroke-width="0.95" stroke-linecap="round"/>
<line x1="171.28" y1="123.35" x2="170.85" y2="122.81" stroke="#D95319" stroke-width="1.1" stroke-linecap="round"/>
<line x1="137.83" y1="99.07" x2="137.38" y2="100.51" stroke="#D95319" stroke-width="1.1" stroke-linecap="round"/>
<line x1="191.11" y1="106.06" x2="193.12" y2="105.27" stroke="#1a1a1a" stroke-width="0.95" stroke-linecap="round"/>
<line x1="186.31" y1="106.06" x2="188.33" y2="105.28" stroke="#1a1a1a" stroke-width="0.95" stroke-linecap="round"/>
<line x1="182.15" y1="99.42" x2="182.15" y2="97.59" stroke="#1a1a1a" stroke-width="0.95" stroke-linecap="round"/>
<line x1="167.15" y1="106.09" x2="169.16" y2="105.3" stroke="#1a1a1a" stroke-width="0.95" stroke-linecap="round"/>
<line x1="162.35" y1="106.1" x2="164.37" y2="105.31" stroke="#1a1a1a" stroke-width="0.95" stroke-linecap="round"/>
<line x1="147.98" y1="106.12" x2="149.99" y2="105.33" stroke="#1a1a1a" stroke-width="0.95" stroke-linecap="round"/>
<line x1="143.19" y1="106.12" x2="145.2" y2="105.34" stroke="#FF2020" stroke-width="0.95" stroke-linecap="round"/>
<line x1="107.83" y1="149.47" x2="106.99" y2="149.85" stroke="#D95319" stroke-width="1.1" stroke-linecap="round"/>
<line x1="192.36" y1="85.45" x2="190.97" y2="85.06" stroke="#1a1a1a" stroke-width="0.95" stroke-linecap="round"/>
<line x1="177.99" y1="85.47" x2="176.6" y2="85.08" stroke="#1a1a1a" stroke-width="0.95" stroke-linecap="round"/>
<line x1="163.61" y1="85.49" x2="162.22" y2="85.1" stroke="#1a1a1a" stroke-width="0.95" stroke-linecap="round"/>
<line x1="154.03" y1="85.5" x2="152.64" y2="85.11" stroke="#FF2020" stroke-width="0.95" stroke-linecap="round"/>
<line x1="105.06" y1="125.13" x2="104.57" y2="125.23" stroke="#0072BD" stroke-width="1.1" stroke-linecap="round"/>
<line x1="192.36" y1="87.28" x2="192.36" y2="85.45" stroke="#1a1a1a" stroke-width="0.95" stroke-linecap="round"/>
<line x1="137.38" y1="100.51" x2="136.93" y2="101.94" stroke="#D95319" stroke-width="1.1" stroke-linecap="round"/>
<line x1="171.94" y1="106.08" x2="170.55" y2="105.69" stroke="#1a1a1a" stroke-width="0.95" stroke-linecap="round"/>
<line x1="162.35" y1="106.1" x2="160.97" y2="105.71" stroke="#FF2020" stroke-width="0.95" stroke-linecap="round"/>
<line x1="182.15" y1="97.59" x2="182.15" y2="95.77" stroke="#1a1a1a" stroke-width="0.95" stroke-linecap="round"/>
<line x1="108.67" y1="149.09" x2="107.83" y2="149.47" stroke="#D95319" stroke-width="1.1" stroke-linecap="round"/>
<line x1="171.71" y1="123.88" x2="171.28" y2="123.35" stroke="#D95319" stroke-width="1.1" stroke-linecap="round"/>
<line x1="160.21" y1="85.89" x2="162.22" y2="85.1" stroke="#1a1a1a" stroke-width="0.95" stroke-linecap="round"/>
<line x1="136.93" y1="101.94" x2="136.48" y2="103.37" stroke="#D95319" stroke-width="1.1" stroke-linecap="round"/>
<line x1="178.12" y1="106.47" x2="180.13" y2="105.68" stroke="#1a1a1a" stroke-width="0.95" stroke-linecap="round"/>
<line x1="154.16" y1="106.5" x2="156.17" y2="105.71" stroke="#1a1a1a" stroke-width="0.95" stroke-linecap="round"/>
<line x1="109.51" y1="148.71" x2="108.67" y2="149.09" stroke="#D95319" stroke-width="1.1" stroke-linecap="round"/>
<line x1="182.15" y1="95.77" x2="182.15" y2="93.94" stroke="#1a1a1a" stroke-width="0.95" stroke-linecap="round"/>
<circle cx="171.71" cy="123.88" r="1.7" fill="#D95319"/>
<line x1="179.37" y1="85.86" x2="177.99" y2="85.47" stroke="#1a1a1a" stroke-width="0.95" stroke-linecap="round"/>
<line x1="105.56" y1="125.03" x2="105.06" y2="125.13" stroke="#0072BD" stroke-width="1.1" stroke-linecap="round"/>
<line x1="165" y1="85.88" x2="163.61" y2="85.49" stroke="#1a1a1a" stroke-width="0.95" stroke-linecap="round"/>
<line x1="155.41" y1="85.89" x2="154.03" y2="85.5" stroke="#FF2020" stroke-width="0.95" stroke-linecap="round"/>
<line x1="171.94" y1="106.08" x2="171.94" y2="104.26" stroke="#1a1a1a" stroke-width="0.95" stroke-linecap="round"/>
<line x1="172.07" y1="124.71" x2="171.71" y2="123.88" stroke="#D95319" stroke-width="1.1" stroke-linecap="round"/>
<line x1="136.48" y1="103.37" x2="136.03" y2="104.81" stroke="#D95319" stroke-width="1.1" stroke-linecap="round"/>
<line x1="110.27" y1="147.87" x2="109.51" y2="148.71" stroke="#D95319" stroke-width="1.1" stroke-linecap="round"/>
<circle cx="109.51" cy="148.71" r="1.7" fill="#D95319"/>
<line x1="163.74" y1="106.49" x2="162.35" y2="106.1" stroke="#FF2020" stroke-width="0.95" stroke-linecap="round"/>
<line x1="195.14" y1="86.23" x2="197.15" y2="85.45" stroke="#1a1a1a" stroke-width="0.95" stroke-linecap="round"/>
<line x1="111.02" y1="147.03" x2="110.27" y2="147.87" stroke="#D95319" stroke-width="1.1" stroke-linecap="round"/>
<line x1="190.35" y1="86.24" x2="192.36" y2="85.45" stroke="#1a1a1a" stroke-width="0.95" stroke-linecap="round"/>
<line x1="182.15" y1="93.94" x2="182.15" y2="92.12" stroke="#1a1a1a" stroke-width="0.95" stroke-linecap="round"/>
<line x1="136.03" y1="104.81" x2="135.14" y2="106.13" stroke="#D95319" stroke-width="1.1" stroke-linecap="round"/>
<line x1="171.18" y1="86.26" x2="173.19" y2="85.48" stroke="#1a1a1a" stroke-width="0.95" stroke-linecap="round"/>
<line x1="166.39" y1="86.27" x2="168.4" y2="85.48" stroke="#1a1a1a" stroke-width="0.95" stroke-linecap="round"/>
<line x1="152.01" y1="86.29" x2="154.03" y2="85.5" stroke="#1a1a1a" stroke-width="0.95" stroke-linecap="round"/>
<line x1="147.22" y1="86.3" x2="149.23" y2="85.51" stroke="#FF2020" stroke-width="0.95" stroke-linecap="round"/>
<circle cx="136.03" cy="104.81" r="1.7" fill="#D95319"/>
<line x1="135.14" y1="106.13" x2="134.25" y2="107.46" stroke="#D95319" stroke-width="1.1" stroke-linecap="round"/>
<line x1="111.78" y1="146.19" x2="111.02" y2="147.03" stroke="#D95319" stroke-width="1.1" stroke-linecap="round"/>
<line x1="171.94" y1="104.26" x2="171.94" y2="102.43" stroke="#1a1a1a" stroke-width="0.95" stroke-linecap="round"/>
<line x1="189.09" y1="106.84" x2="191.11" y2="106.06" stroke="#1a1a1a" stroke-width="0.95" stroke-linecap="round"/>
<line x1="184.3" y1="106.85" x2="186.31" y2="106.06" stroke="#1a1a1a" stroke-width="0.95" stroke-linecap="round"/>
<line x1="134.25" y1="107.46" x2="133.35" y2="108.78" stroke="#D95319" stroke-width="1.1" stroke-linecap="round"/>
<line x1="169.92" y1="106.87" x2="171.94" y2="106.08" stroke="#1a1a1a" stroke-width="0.95" stroke-linecap="round"/>
<line x1="165.13" y1="106.88" x2="167.15" y2="106.09" stroke="#1a1a1a" stroke-width="0.95" stroke-linecap="round"/>
<line x1="160.34" y1="106.88" x2="162.35" y2="106.1" stroke="#1a1a1a" stroke-width="0.95" stroke-linecap="round"/>
<line x1="172.43" y1="125.53" x2="172.07" y2="124.71" stroke="#D95319" stroke-width="1.1" stroke-linecap="round"/>
<line x1="112.53" y1="145.35" x2="111.78" y2="146.19" stroke="#D95319" stroke-width="1.1" stroke-linecap="round"/>
<line x1="145.96" y1="106.9" x2="147.98" y2="106.12" stroke="#1a1a1a" stroke-width="0.95" stroke-linecap="round"/>
<line x1="141.17" y1="106.91" x2="143.19" y2="106.12" stroke="#FF2020" stroke-width="0.95" stroke-linecap="round"/>
<line x1="133.35" y1="108.78" x2="132.46" y2="110.1" stroke="#D95319" stroke-width="1.1" stroke-linecap="round"/>
<line x1="106.05" y1="124.94" x2="105.56" y2="125.03" stroke="#0072BD" stroke-width="1.1" stroke-linecap="round"/>
<line x1="180.76" y1="86.25" x2="179.37" y2="85.86" stroke="#1a1a1a" stroke-width="0.95" stroke-linecap="round"/>
<line x1="132.46" y1="110.1" x2="131.57" y2="111.43" stroke="#D95319" stroke-width="1.1" stroke-linecap="round"/>
<line x1="166.39" y1="86.27" x2="165" y2="85.88" stroke="#1a1a1a" stroke-width="0.95" stroke-linecap="round"/>
<line x1="156.8" y1="86.28" x2="155.41" y2="85.89" stroke="#FF2020" stroke-width="0.95" stroke-linecap="round"/>
<line x1="182.15" y1="92.12" x2="182.15" y2="90.29" stroke="#1a1a1a" stroke-width="0.95" stroke-linecap="round"/>
<line x1="113.29" y1="144.51" x2="112.53" y2="145.35" stroke="#D95319" stroke-width="1.1" stroke-linecap="round"/>
<line x1="131.57" y1="111.43" x2="130.68" y2="112.75" stroke="#D95319" stroke-width="1.1" stroke-linecap="round"/>
<line x1="171.94" y1="102.43" x2="171.94" y2="100.61" stroke="#1a1a1a" stroke-width="0.95" stroke-linecap="round"/>
<line x1="114.04" y1="143.67" x2="113.29" y2="144.51" stroke="#D95319" stroke-width="1.1" stroke-linecap="round"/>
<line x1="130.68" y1="112.75" x2="129.79" y2="114.08" stroke="#D95319" stroke-width="1.1" stroke-linecap="round"/>
<line x1="165.13" y1="106.88" x2="163.74" y2="106.49" stroke="#FF2020" stroke-width="0.95" stroke-linecap="round"/>
<line x1="129.79" y1="114.08" x2="128.9" y2="115.4" stroke="#D95319" stroke-width="1.1" stroke-linecap="round"/>
<line x1="114.8" y1="142.83" x2="114.04" y2="143.67" stroke="#D95319" stroke-width="1.1" stroke-linecap="round"/>
<line x1="172.79" y1="126.36" x2="172.43" y2="125.53" stroke="#D95319" stroke-width="1.1" stroke-linecap="round"/>
<line x1="158.19" y1="86.67" x2="160.21" y2="85.89" stroke="#1a1a1a" stroke-width="0.95" stroke-linecap="round"/>
<line x1="128.9" y1="115.4" x2="128" y2="116.73" stroke="#D95319" stroke-width="1.1" stroke-linecap="round"/>
<line x1="182.15" y1="90.29" x2="182.15" y2="88.47" stroke="#1a1a1a" stroke-width="0.95" stroke-linecap="round"/>
<line x1="128" y1="116.73" x2="127.11" y2="118.05" stroke="#D95319" stroke-width="1.1" stroke-linecap="round"/>
<line x1="115.55" y1="141.99" x2="114.8" y2="142.83" stroke="#D95319" stroke-width="1.1" stroke-linecap="round"/>
<line x1="176.1" y1="107.25" x2="178.12" y2="106.47" stroke="#1a1a1a" stroke-width="0.95" stroke-linecap="round"/>
<line x1="171.94" y1="100.61" x2="171.94" y2="98.78" stroke="#1a1a1a" stroke-width="0.95" stroke-linecap="round"/>
<line x1="127.11" y1="118.05" x2="126.22" y2="119.38" stroke="#D95319" stroke-width="1.1" stroke-linecap="round"/>
<line x1="106.55" y1="124.84" x2="106.05" y2="124.94" stroke="#0072BD" stroke-width="1.1" stroke-linecap="round"/>
<line x1="152.14" y1="107.28" x2="154.16" y2="106.5" stroke="#1a1a1a" stroke-width="0.95" stroke-linecap="round"/>
<line x1="116.31" y1="141.14" x2="115.55" y2="141.99" stroke="#D95319" stroke-width="1.1" stroke-linecap="round"/>
<line x1="126.22" y1="119.38" x2="125.33" y2="120.7" stroke="#D95319" stroke-width="1.1" stroke-linecap="round"/>
<line x1="182.15" y1="86.64" x2="180.76" y2="86.25" stroke="#1a1a1a" stroke-width="0.95" stroke-linecap="round"/>
<line x1="167.77" y1="86.66" x2="166.39" y2="86.27" stroke="#1a1a1a" stroke-width="0.95" stroke-linecap="round"/>
<line x1="125.33" y1="120.7" x2="124.76" y2="122.19" stroke="#D95319" stroke-width="1.1" stroke-linecap="round"/>
<line x1="158.19" y1="86.67" x2="156.8" y2="86.28" stroke="#FF2020" stroke-width="0.95" stroke-linecap="round"/>
<line x1="124.76" y1="122.19" x2="124.2" y2="123.69" stroke="#D95319" stroke-width="1.1" stroke-linecap="round"/>
<line x1="165.13" y1="106.88" x2="165.13" y2="105.05" stroke="#FF2020" stroke-width="0.95" stroke-linecap="round"/>
<line x1="165.13" y1="106.88" x2="165.13" y2="105.05" stroke="#1a1a1a" stroke-width="0.95" stroke-linecap="round"/>
<line x1="117.06" y1="140.3" x2="116.31" y2="141.14" stroke="#D95319" stroke-width="1.1" stroke-linecap="round"/>
<line x1="124.2" y1="123.69" x2="123.64" y2="125.18" stroke="#D95319" stroke-width="1.1" stroke-linecap="round"/>
<circle cx="125.33" cy="120.7" r="1.7" fill="#D95319"/>
<line x1="173.15" y1="127.19" x2="172.79" y2="126.36" stroke="#D95319" stroke-width="1.1" stroke-linecap="round"/>
<line x1="123.64" y1="125.18" x2="123.08" y2="126.67" stroke="#D95319" stroke-width="1.1" stroke-linecap="round"/>
<line x1="182.15" y1="88.47" x2="182.15" y2="86.64" stroke="#1a1a1a" stroke-width="0.95" stroke-linecap="round"/>
<line x1="123.08" y1="126.67" x2="122.51" y2="128.17" stroke="#D95319" stroke-width="1.1" stroke-linecap="round"/>
<line x1="122.51" y1="128.17" x2="121.95" y2="129.66" stroke="#D95319" stroke-width="1.1" stroke-linecap="round"/>
<line x1="166.52" y1="107.26" x2="165.13" y2="106.88" stroke="#1a1a1a" stroke-width="0.95" stroke-linecap="round"/>
<line x1="117.82" y1="139.46" x2="117.06" y2="140.3" stroke="#D95319" stroke-width="1.1" stroke-linecap="round"/>
<line x1="121.95" y1="129.66" x2="121.39" y2="131.15" stroke="#D95319" stroke-width="1.1" stroke-linecap="round"/>
<line x1="171.94" y1="98.78" x2="171.94" y2="96.96" stroke="#1a1a1a" stroke-width="0.95" stroke-linecap="round"/>
<line x1="121.39" y1="131.15" x2="120.83" y2="132.65" stroke="#D95319" stroke-width="1.1" stroke-linecap="round"/>
<line x1="193.12" y1="87.02" x2="195.14" y2="86.23" stroke="#1a1a1a" stroke-width="0.95" stroke-linecap="round"/>
<line x1="120.83" y1="132.65" x2="120.26" y2="134.14" stroke="#D95319" stroke-width="1.1" stroke-linecap="round"/>
<line x1="188.33" y1="87.02" x2="190.35" y2="86.24" stroke="#1a1a1a" stroke-width="0.95" stroke-linecap="round"/>
<line x1="120.26" y1="134.14" x2="119.7" y2="135.64" stroke="#D95319" stroke-width="1.1" stroke-linecap="round"/>
<line x1="169.16" y1="87.05" x2="171.18" y2="86.26" stroke="#1a1a1a" stroke-width="0.95" stroke-linecap="round"/>
<line x1="118.57" y1="138.62" x2="117.82" y2="139.46" stroke="#D95319" stroke-width="1.1" stroke-linecap="round"/>
<line x1="164.37" y1="87.06" x2="166.39" y2="86.27" stroke="#1a1a1a" stroke-width="0.95" stroke-linecap="round"/>
<line x1="119.7" y1="135.64" x2="119.14" y2="137.13" stroke="#D95319" stroke-width="1.1" stroke-linecap="round"/>
<line x1="149.99" y1="87.07" x2="152.01" y2="86.29" stroke="#1a1a1a" stroke-width="0.95" stroke-linecap="round"/>
<line x1="145.2" y1="87.08" x2="147.22" y2="86.3" stroke="#FF2020" stroke-width="0.95" stroke-linecap="round"/>
<line x1="119.14" y1="137.13" x2="118.57" y2="138.62" stroke="#D95319" stroke-width="1.1" stroke-linecap="round"/>
<line x1="165.13" y1="105.05" x2="165.13" y2="103.22" stroke="#FF2020" stroke-width="0.95" stroke-linecap="round"/>
<line x1="165.13" y1="105.05" x2="165.13" y2="103.22" stroke="#1a1a1a" stroke-width="0.95" stroke-linecap="round"/>
<line x1="107.04" y1="124.75" x2="106.55" y2="124.84" stroke="#0072BD" stroke-width="1.1" stroke-linecap="round"/>
<line x1="187.07" y1="107.63" x2="189.09" y2="106.84" stroke="#1a1a1a" stroke-width="0.95" stroke-linecap="round"/>
<line x1="182.28" y1="107.63" x2="184.3" y2="106.85" stroke="#1a1a1a" stroke-width="0.95" stroke-linecap="round"/>
<circle cx="118.57" cy="138.62" r="1.7" fill="#D95319"/>
<line x1="167.91" y1="107.65" x2="169.92" y2="106.87" stroke="#1a1a1a" stroke-width="0.95" stroke-linecap="round"/>
<line x1="163.11" y1="107.66" x2="165.13" y2="106.88" stroke="#FF2020" stroke-width="0.95" stroke-linecap="round"/>
<line x1="158.32" y1="107.67" x2="160.34" y2="106.88" stroke="#1a1a1a" stroke-width="0.95" stroke-linecap="round"/>
<line x1="173.51" y1="128.01" x2="173.15" y2="127.19" stroke="#D95319" stroke-width="1.1" stroke-linecap="round"/>
<line x1="143.95" y1="107.69" x2="145.96" y2="106.9" stroke="#1a1a1a" stroke-width="0.95" stroke-linecap="round"/>
<line x1="139.15" y1="107.69" x2="141.17" y2="106.91" stroke="#FF2020" stroke-width="0.95" stroke-linecap="round"/>
<line x1="171.94" y1="96.96" x2="171.94" y2="95.13" stroke="#1a1a1a" stroke-width="0.95" stroke-linecap="round"/>
<line x1="169.16" y1="87.05" x2="167.77" y2="86.66" stroke="#1a1a1a" stroke-width="0.95" stroke-linecap="round"/>
<line x1="159.58" y1="87.06" x2="158.19" y2="86.67" stroke="#FF2020" stroke-width="0.95" stroke-linecap="round"/>
<line x1="165.13" y1="103.22" x2="165.13" y2="101.4" stroke="#FF2020" stroke-width="0.95" stroke-linecap="round"/>
<line x1="165.13" y1="103.22" x2="165.13" y2="101.4" stroke="#1a1a1a" stroke-width="0.95" stroke-linecap="round"/>
<line x1="167.91" y1="107.65" x2="166.52" y2="107.26" stroke="#1a1a1a" stroke-width="0.95" stroke-linecap="round"/>
<line x1="180.13" y1="87.43" x2="182.15" y2="86.64" stroke="#1a1a1a" stroke-width="0.95" stroke-linecap="round"/>
<line x1="171.94" y1="95.13" x2="171.94" y2="93.3" stroke="#1a1a1a" stroke-width="0.95" stroke-linecap="round"/>
<line x1="173.87" y1="128.84" x2="173.51" y2="128.01" stroke="#D95319" stroke-width="1.1" stroke-linecap="round"/>
<line x1="156.17" y1="87.46" x2="158.19" y2="86.67" stroke="#1a1a1a" stroke-width="0.95" stroke-linecap="round"/>
<line x1="107.54" y1="124.65" x2="107.04" y2="124.75" stroke="#0072BD" stroke-width="1.1" stroke-linecap="round"/>
<line x1="174.09" y1="108.04" x2="176.1" y2="107.25" stroke="#1a1a1a" stroke-width="0.95" stroke-linecap="round"/>
<line x1="165.13" y1="101.4" x2="165.13" y2="99.57" stroke="#FF2020" stroke-width="0.95" stroke-linecap="round"/>
<line x1="165.13" y1="101.4" x2="165.13" y2="99.57" stroke="#1a1a1a" stroke-width="0.95" stroke-linecap="round"/>
<line x1="150.13" y1="108.07" x2="152.14" y2="107.28" stroke="#1a1a1a" stroke-width="0.95" stroke-linecap="round"/>
<line x1="170.55" y1="87.44" x2="169.16" y2="87.05" stroke="#1a1a1a" stroke-width="0.95" stroke-linecap="round"/>
<line x1="160.97" y1="87.45" x2="159.58" y2="87.06" stroke="#FF2020" stroke-width="0.95" stroke-linecap="round"/>
<line x1="171.94" y1="93.3" x2="171.94" y2="91.48" stroke="#1a1a1a" stroke-width="0.95" stroke-linecap="round"/>
<line x1="158.32" y1="107.67" x2="158.32" y2="105.84" stroke="#1a1a1a" stroke-width="0.95" stroke-linecap="round"/>
<line x1="174.23" y1="129.67" x2="173.87" y2="128.84" stroke="#D95319" stroke-width="1.1" stroke-linecap="round"/>
<line x1="169.29" y1="108.04" x2="167.91" y2="107.65" stroke="#1a1a1a" stroke-width="0.95" stroke-linecap="round"/>
<line x1="159.71" y1="108.06" x2="158.32" y2="107.67" stroke="#1a1a1a" stroke-width="0.95" stroke-linecap="round"/>
<line x1="165.13" y1="99.57" x2="165.13" y2="97.75" stroke="#FF2020" stroke-width="0.95" stroke-linecap="round"/>
<line x1="165.13" y1="99.57" x2="165.13" y2="97.75" stroke="#1a1a1a" stroke-width="0.95" stroke-linecap="round"/>
<line x1="191.11" y1="87.8" x2="193.12" y2="87.02" stroke="#1a1a1a" stroke-width="0.95" stroke-linecap="round"/>
<line x1="186.31" y1="87.81" x2="188.33" y2="87.02" stroke="#1a1a1a" stroke-width="0.95" stroke-linecap="round"/>
<line x1="167.15" y1="87.83" x2="169.16" y2="87.05" stroke="#1a1a1a" stroke-width="0.95" stroke-linecap="round"/>
<line x1="162.35" y1="87.84" x2="164.37" y2="87.06" stroke="#1a1a1a" stroke-width="0.95" stroke-linecap="round"/>
<line x1="147.98" y1="87.86" x2="149.99" y2="87.07" stroke="#1a1a1a" stroke-width="0.95" stroke-linecap="round"/>
<line x1="108.03" y1="124.55" x2="107.54" y2="124.65" stroke="#0072BD" stroke-width="1.1" stroke-linecap="round"/>
<line x1="143.19" y1="87.87" x2="145.2" y2="87.08" stroke="#FF2020" stroke-width="0.95" stroke-linecap="round"/>
<line x1="171.94" y1="91.48" x2="171.94" y2="89.65" stroke="#1a1a1a" stroke-width="0.95" stroke-linecap="round"/>
<line x1="158.32" y1="105.84" x2="158.32" y2="104.02" stroke="#1a1a1a" stroke-width="0.95" stroke-linecap="round"/>
<line x1="185.06" y1="108.41" x2="187.07" y2="107.63" stroke="#1a1a1a" stroke-width="0.95" stroke-linecap="round"/>
<line x1="180.27" y1="108.42" x2="182.28" y2="107.63" stroke="#1a1a1a" stroke-width="0.95" stroke-linecap="round"/>
<line x1="165.89" y1="108.44" x2="167.91" y2="107.65" stroke="#1a1a1a" stroke-width="0.95" stroke-linecap="round"/>
<line x1="161.1" y1="108.45" x2="163.11" y2="107.66" stroke="#FF2020" stroke-width="0.95" stroke-linecap="round"/>
<line x1="174.58" y1="130.49" x2="174.23" y2="129.67" stroke="#D95319" stroke-width="1.1" stroke-linecap="round"/>
<line x1="141.93" y1="108.47" x2="143.95" y2="107.69" stroke="#1a1a1a" stroke-width="0.95" stroke-linecap="round"/>
<line x1="137.14" y1="108.48" x2="139.15" y2="107.69" stroke="#FF2020" stroke-width="0.95" stroke-linecap="round"/>
<line x1="165.13" y1="97.75" x2="165.13" y2="95.92" stroke="#FF2020" stroke-width="0.95" stroke-linecap="round"/>
<line x1="165.13" y1="97.75" x2="165.13" y2="95.92" stroke="#1a1a1a" stroke-width="0.95" stroke-linecap="round"/>
<line x1="171.94" y1="87.83" x2="170.55" y2="87.44" stroke="#1a1a1a" stroke-width="0.95" stroke-linecap="round"/>
<line x1="162.35" y1="87.84" x2="160.97" y2="87.45" stroke="#FF2020" stroke-width="0.95" stroke-linecap="round"/>
<line x1="171.94" y1="89.65" x2="171.94" y2="87.83" stroke="#1a1a1a" stroke-width="0.95" stroke-linecap="round"/>
<line x1="158.32" y1="104.02" x2="158.32" y2="102.19" stroke="#1a1a1a" stroke-width="0.95" stroke-linecap="round"/>
<line x1="170.68" y1="108.43" x2="169.29" y2="108.04" stroke="#1a1a1a" stroke-width="0.95" stroke-linecap="round"/>
<line x1="161.1" y1="108.45" x2="159.71" y2="108.06" stroke="#1a1a1a" stroke-width="0.95" stroke-linecap="round"/>
<line x1="178.12" y1="88.21" x2="180.13" y2="87.43" stroke="#1a1a1a" stroke-width="0.95" stroke-linecap="round"/>
<line x1="108.52" y1="124.46" x2="108.03" y2="124.55" stroke="#0072BD" stroke-width="1.1" stroke-linecap="round"/>
<line x1="165.13" y1="95.92" x2="165.13" y2="94.1" stroke="#FF2020" stroke-width="0.95" stroke-linecap="round"/>
<line x1="165.13" y1="95.92" x2="165.13" y2="94.1" stroke="#1a1a1a" stroke-width="0.95" stroke-linecap="round"/>
<line x1="174.94" y1="131.32" x2="174.58" y2="130.49" stroke="#D95319" stroke-width="1.1" stroke-linecap="round"/>
<line x1="154.16" y1="88.24" x2="156.17" y2="87.46" stroke="#1a1a1a" stroke-width="0.95" stroke-linecap="round"/>
<line x1="172.07" y1="108.82" x2="174.09" y2="108.04" stroke="#1a1a1a" stroke-width="0.95" stroke-linecap="round"/>
<line x1="158.32" y1="102.19" x2="158.32" y2="100.37" stroke="#1a1a1a" stroke-width="0.95" stroke-linecap="round"/>
<line x1="148.11" y1="108.85" x2="150.13" y2="108.07" stroke="#1a1a1a" stroke-width="0.95" stroke-linecap="round"/>
<line x1="163.74" y1="88.23" x2="162.35" y2="87.84" stroke="#FF2020" stroke-width="0.95" stroke-linecap="round"/>
<line x1="165.13" y1="94.1" x2="165.13" y2="92.27" stroke="#FF2020" stroke-width="0.95" stroke-linecap="round"/>
<line x1="165.13" y1="94.1" x2="165.13" y2="92.27" stroke="#1a1a1a" stroke-width="0.95" stroke-linecap="round"/>
<line x1="175.3" y1="132.15" x2="174.94" y2="131.32" stroke="#D95319" stroke-width="1.1" stroke-linecap="round"/>
<line x1="172.07" y1="108.82" x2="170.68" y2="108.43" stroke="#1a1a1a" stroke-width="0.95" stroke-linecap="round"/>
<line x1="162.49" y1="108.84" x2="161.1" y2="108.45" stroke="#1a1a1a" stroke-width="0.95" stroke-linecap="round"/>
<line x1="158.32" y1="100.37" x2="158.32" y2="98.54" stroke="#1a1a1a" stroke-width="0.95" stroke-linecap="round"/>
<line x1="109.02" y1="124.36" x2="108.52" y2="124.46" stroke="#0072BD" stroke-width="1.1" stroke-linecap="round"/>
<line x1="189.09" y1="88.59" x2="191.11" y2="87.8" stroke="#1a1a1a" stroke-width="0.95" stroke-linecap="round"/>
<line x1="184.3" y1="88.59" x2="186.31" y2="87.81" stroke="#1a1a1a" stroke-width="0.95" stroke-linecap="round"/>
<line x1="169.92" y1="88.61" x2="171.94" y2="87.83" stroke="#1a1a1a" stroke-width="0.95" stroke-linecap="round"/>
<line x1="165.13" y1="88.62" x2="167.15" y2="87.83" stroke="#1a1a1a" stroke-width="0.95" stroke-linecap="round"/>
<line x1="160.34" y1="88.63" x2="162.35" y2="87.84" stroke="#1a1a1a" stroke-width="0.95" stroke-linecap="round"/>
<line x1="145.96" y1="88.65" x2="147.98" y2="87.86" stroke="#1a1a1a" stroke-width="0.95" stroke-linecap="round"/>
<line x1="141.17" y1="88.65" x2="143.19" y2="87.87" stroke="#FF2020" stroke-width="0.95" stroke-linecap="round"/>
<line x1="165.13" y1="92.27" x2="165.13" y2="90.45" stroke="#FF2020" stroke-width="0.95" stroke-linecap="round"/>
<line x1="165.13" y1="92.27" x2="165.13" y2="90.45" stroke="#1a1a1a" stroke-width="0.95" stroke-linecap="round"/>
<line x1="183.04" y1="109.2" x2="185.06" y2="108.41" stroke="#1a1a1a" stroke-width="0.95" stroke-linecap="round"/>
<line x1="178.25" y1="109.21" x2="180.27" y2="108.42" stroke="#1a1a1a" stroke-width="0.95" stroke-linecap="round"/>
<line x1="163.87" y1="109.23" x2="165.89" y2="108.44" stroke="#1a1a1a" stroke-width="0.95" stroke-linecap="round"/>
<line x1="159.08" y1="109.23" x2="161.1" y2="108.45" stroke="#FF2020" stroke-width="0.95" stroke-linecap="round"/>
<line x1="175.66" y1="132.97" x2="175.3" y2="132.15" stroke="#D95319" stroke-width="1.1" stroke-linecap="round"/>
<line x1="139.91" y1="109.26" x2="141.93" y2="108.47" stroke="#1a1a1a" stroke-width="0.95" stroke-linecap="round"/>
<line x1="135.12" y1="109.26" x2="137.14" y2="108.48" stroke="#FF2020" stroke-width="0.95" stroke-linecap="round"/>
<line x1="158.32" y1="98.54" x2="158.32" y2="96.71" stroke="#1a1a1a" stroke-width="0.95" stroke-linecap="round"/>
<line x1="165.13" y1="88.62" x2="163.74" y2="88.23" stroke="#FF2020" stroke-width="0.95" stroke-linecap="round"/>
<line x1="148.11" y1="108.85" x2="148.11" y2="107.03" stroke="#1a1a1a" stroke-width="0.95" stroke-linecap="round"/>
<line x1="165.13" y1="90.45" x2="165.13" y2="88.62" stroke="#FF2020" stroke-width="0.95" stroke-linecap="round"/>
<line x1="165.13" y1="90.45" x2="165.13" y2="88.62" stroke="#1a1a1a" stroke-width="0.95" stroke-linecap="round"/>
<line x1="173.46" y1="109.21" x2="172.07" y2="108.82" stroke="#1a1a1a" stroke-width="0.95" stroke-linecap="round"/>
<line x1="109.51" y1="124.26" x2="109.02" y2="124.36" stroke="#0072BD" stroke-width="1.1" stroke-linecap="round"/>
<line x1="163.87" y1="109.23" x2="162.49" y2="108.84" stroke="#1a1a1a" stroke-width="0.95" stroke-linecap="round"/>
<line x1="149.5" y1="109.24" x2="148.11" y2="108.85" stroke="#1a1a1a" stroke-width="0.95" stroke-linecap="round"/>
<line x1="176.1" y1="89" x2="178.12" y2="88.21" stroke="#1a1a1a" stroke-width="0.95" stroke-linecap="round"/>
<line x1="176.02" y1="133.8" x2="175.66" y2="132.97" stroke="#D95319" stroke-width="1.1" stroke-linecap="round"/>
<line x1="158.32" y1="96.71" x2="158.32" y2="94.89" stroke="#1a1a1a" stroke-width="0.95" stroke-linecap="round"/>
<line x1="152.14" y1="89.03" x2="154.16" y2="88.24" stroke="#1a1a1a" stroke-width="0.95" stroke-linecap="round"/>
<line x1="148.11" y1="107.03" x2="148.11" y2="105.2" stroke="#1a1a1a" stroke-width="0.95" stroke-linecap="round"/>
<line x1="170.05" y1="109.61" x2="172.07" y2="108.82" stroke="#1a1a1a" stroke-width="0.95" stroke-linecap="round"/>
<circle cx="109.51" cy="124.26" r="1.75" fill="#0072BD"/>
<circle cx="176.02" cy="133.8" r="1.7" fill="#D95319"/>
<line x1="166.52" y1="89.01" x2="165.13" y2="88.62" stroke="#1a1a1a" stroke-width="0.95" stroke-linecap="round"/>
<line x1="158.32" y1="94.89" x2="158.32" y2="93.06" stroke="#1a1a1a" stroke-width="0.95" stroke-linecap="round"/>
<line x1="110.17" y1="123.65" x2="109.51" y2="124.26" stroke="#0072BD" stroke-width="1.1" stroke-linecap="round"/>
<line x1="176.53" y1="134.63" x2="176.02" y2="133.8" stroke="#D95319" stroke-width="1.1" stroke-linecap="round"/>
<line x1="174.85" y1="109.6" x2="173.46" y2="109.21" stroke="#1a1a1a" stroke-width="0.95" stroke-linecap="round"/>
<line x1="148.11" y1="105.2" x2="148.11" y2="103.38" stroke="#1a1a1a" stroke-width="0.95" stroke-linecap="round"/>
<line x1="165.26" y1="109.62" x2="163.87" y2="109.23" stroke="#1a1a1a" stroke-width="0.95" stroke-linecap="round"/>
<line x1="150.89" y1="109.63" x2="149.5" y2="109.24" stroke="#1a1a1a" stroke-width="0.95" stroke-linecap="round"/>
<line x1="187.07" y1="89.37" x2="189.09" y2="88.59" stroke="#1a1a1a" stroke-width="0.95" stroke-linecap="round"/>
<line x1="182.28" y1="89.38" x2="184.3" y2="88.59" stroke="#1a1a1a" stroke-width="0.95" stroke-linecap="round"/>
<line x1="167.91" y1="89.4" x2="169.92" y2="88.61" stroke="#1a1a1a" stroke-width="0.95" stroke-linecap="round"/>
<line x1="163.11" y1="89.41" x2="165.13" y2="88.62" stroke="#FF2020" stroke-width="0.95" stroke-linecap="round"/>
<line x1="158.32" y1="89.41" x2="160.34" y2="88.63" stroke="#1a1a1a" stroke-width="0.95" stroke-linecap="round"/>
<line x1="143.95" y1="89.43" x2="145.96" y2="88.65" stroke="#1a1a1a" stroke-width="0.95" stroke-linecap="round"/>
<line x1="139.15" y1="89.44" x2="141.17" y2="88.65" stroke="#FF2020" stroke-width="0.95" stroke-linecap="round"/>
<line x1="158.32" y1="93.06" x2="158.32" y2="91.24" stroke="#1a1a1a" stroke-width="0.95" stroke-linecap="round"/>
<line x1="181.03" y1="109.99" x2="183.04" y2="109.2" stroke="#1a1a1a" stroke-width="0.95" stroke-linecap="round"/>
<line x1="176.23" y1="109.99" x2="178.25" y2="109.21" stroke="#1a1a1a" stroke-width="0.95" stroke-linecap="round"/>
<line x1="161.86" y1="110.01" x2="163.87" y2="109.23" stroke="#1a1a1a" stroke-width="0.95" stroke-linecap="round"/>
<line x1="157.07" y1="110.02" x2="159.08" y2="109.23" stroke="#FF2020" stroke-width="0.95" stroke-linecap="round"/>
<line x1="110.83" y1="123.03" x2="110.17" y2="123.65" stroke="#0072BD" stroke-width="1.1" stroke-linecap="round"/>
<line x1="148.11" y1="103.38" x2="148.11" y2="101.55" stroke="#1a1a1a" stroke-width="0.95" stroke-linecap="round"/>
<line x1="177.04" y1="135.46" x2="176.53" y2="134.63" stroke="#D95319" stroke-width="1.1" stroke-linecap="round"/>
<line x1="137.9" y1="110.04" x2="139.91" y2="109.26" stroke="#1a1a1a" stroke-width="0.95" stroke-linecap="round"/>
<line x1="133.11" y1="110.05" x2="135.12" y2="109.26" stroke="#FF2020" stroke-width="0.95" stroke-linecap="round"/>
<line x1="167.91" y1="89.4" x2="166.52" y2="89.01" stroke="#1a1a1a" stroke-width="0.95" stroke-linecap="round"/>
<line x1="158.32" y1="91.24" x2="158.32" y2="89.41" stroke="#1a1a1a" stroke-width="0.95" stroke-linecap="round"/>
<line x1="176.23" y1="109.99" x2="174.85" y2="109.6" stroke="#1a1a1a" stroke-width="0.95" stroke-linecap="round"/>
<line x1="166.65" y1="110" x2="165.26" y2="109.62" stroke="#1a1a1a" stroke-width="0.95" stroke-linecap="round"/>
<line x1="152.27" y1="110.02" x2="150.89" y2="109.63" stroke="#1a1a1a" stroke-width="0.95" stroke-linecap="round"/>
<line x1="148.11" y1="101.55" x2="148.11" y2="99.73" stroke="#1a1a1a" stroke-width="0.95" stroke-linecap="round"/>
<line x1="174.09" y1="89.78" x2="176.1" y2="89" stroke="#1a1a1a" stroke-width="0.95" stroke-linecap="round"/>
<line x1="177.55" y1="136.28" x2="177.04" y2="135.46" stroke="#D95319" stroke-width="1.1" stroke-linecap="round"/>
<line x1="150.13" y1="89.81" x2="152.14" y2="89.03" stroke="#1a1a1a" stroke-width="0.95" stroke-linecap="round"/>
<line x1="111.48" y1="122.41" x2="110.83" y2="123.03" stroke="#0072BD" stroke-width="1.1" stroke-linecap="round"/>
<line x1="168.04" y1="110.39" x2="170.05" y2="109.61" stroke="#1a1a1a" stroke-width="0.95" stroke-linecap="round"/>
<line x1="148.11" y1="99.73" x2="148.11" y2="97.9" stroke="#1a1a1a" stroke-width="0.95" stroke-linecap="round"/>
<line x1="169.29" y1="89.79" x2="167.91" y2="89.4" stroke="#1a1a1a" stroke-width="0.95" stroke-linecap="round"/>
<line x1="159.71" y1="89.8" x2="158.32" y2="89.41" stroke="#1a1a1a" stroke-width="0.95" stroke-linecap="round"/>
<line x1="137.9" y1="110.04" x2="137.9" y2="108.22" stroke="#1a1a1a" stroke-width="0.95" stroke-linecap="round"/>
<line x1="178.06" y1="137.11" x2="177.55" y2="136.28" stroke="#D95319" stroke-width="1.1" stroke-linecap="round"/>
<line x1="177.62" y1="110.38" x2="176.23" y2="109.99" stroke="#1a1a1a" stroke-width="0.95" stroke-linecap="round"/>
<line x1="112.14" y1="121.8" x2="111.48" y2="122.41" stroke="#0072BD" stroke-width="1.1" stroke-linecap="round"/>
<line x1="168.04" y1="110.39" x2="166.65" y2="110" stroke="#1a1a1a" stroke-width="0.95" stroke-linecap="round"/>
<line x1="153.66" y1="110.41" x2="152.27" y2="110.02" stroke="#1a1a1a" stroke-width="0.95" stroke-linecap="round"/>
<line x1="139.29" y1="110.43" x2="137.9" y2="110.04" stroke="#1a1a1a" stroke-width="0.95" stroke-linecap="round"/>
<line x1="185.06" y1="90.16" x2="187.07" y2="89.37" stroke="#1a1a1a" stroke-width="0.95" stroke-linecap="round"/>
<line x1="180.27" y1="90.17" x2="182.28" y2="89.38" stroke="#1a1a1a" stroke-width="0.95" stroke-linecap="round"/>
<line x1="165.89" y1="90.18" x2="167.91" y2="89.4" stroke="#1a1a1a" stroke-width="0.95" stroke-linecap="round"/>
<line x1="161.1" y1="90.19" x2="163.11" y2="89.41" stroke="#FF2020" stroke-width="0.95" stroke-linecap="round"/>
<line x1="148.11" y1="97.9" x2="148.11" y2="96.08" stroke="#1a1a1a" stroke-width="0.95" stroke-linecap="round"/>
<line x1="141.93" y1="90.22" x2="143.95" y2="89.43" stroke="#1a1a1a" stroke-width="0.95" stroke-linecap="round"/>
<line x1="137.14" y1="90.22" x2="139.15" y2="89.44" stroke="#FF2020" stroke-width="0.95" stroke-linecap="round"/>
<line x1="137.9" y1="108.22" x2="137.9" y2="106.39" stroke="#1a1a1a" stroke-width="0.95" stroke-linecap="round"/>
<line x1="179.01" y1="110.77" x2="181.03" y2="109.99" stroke="#1a1a1a" stroke-width="0.95" stroke-linecap="round"/>
<line x1="174.22" y1="110.78" x2="176.23" y2="109.99" stroke="#1a1a1a" stroke-width="0.95" stroke-linecap="round"/>
<line x1="159.84" y1="110.8" x2="161.86" y2="110.01" stroke="#1a1a1a" stroke-width="0.95" stroke-linecap="round"/>
<line x1="155.05" y1="110.8" x2="157.07" y2="110.02" stroke="#FF2020" stroke-width="0.95" stroke-linecap="round"/>
<line x1="178.57" y1="137.94" x2="178.06" y2="137.11" stroke="#D95319" stroke-width="1.1" stroke-linecap="round"/>
<line x1="131.09" y1="110.83" x2="133.11" y2="110.05" stroke="#FF2020" stroke-width="0.95" stroke-linecap="round"/>
<line x1="170.68" y1="90.18" x2="169.29" y2="89.79" stroke="#1a1a1a" stroke-width="0.95" stroke-linecap="round"/>
<line x1="112.79" y1="121.18" x2="112.14" y2="121.8" stroke="#0072BD" stroke-width="1.1" stroke-linecap="round"/>
<circle cx="142.24" cy="62.65" r="1.75" fill="#0072BD"/>
<line x1="161.1" y1="90.19" x2="159.71" y2="89.8" stroke="#1a1a1a" stroke-width="0.95" stroke-linecap="round"/>
<line x1="142.24" y1="62.65" x2="143.32" y2="62.31" stroke="#0072BD" stroke-width="1.1" stroke-linecap="round"/>
<line x1="148.11" y1="96.08" x2="148.11" y2="94.25" stroke="#1a1a1a" stroke-width="0.95" stroke-linecap="round"/>
<line x1="179.01" y1="110.77" x2="177.62" y2="110.38" stroke="#1a1a1a" stroke-width="0.95" stroke-linecap="round"/>
<line x1="169.43" y1="110.78" x2="168.04" y2="110.39" stroke="#1a1a1a" stroke-width="0.95" stroke-linecap="round"/>
<line x1="137.9" y1="106.39" x2="137.9" y2="104.57" stroke="#1a1a1a" stroke-width="0.95" stroke-linecap="round"/>
<line x1="155.05" y1="110.8" x2="153.66" y2="110.41" stroke="#1a1a1a" stroke-width="0.95" stroke-linecap="round"/>
<line x1="143.32" y1="62.31" x2="144.39" y2="61.98" stroke="#0072BD" stroke-width="1.1" stroke-linecap="round"/>
<line x1="140.95" y1="63.36" x2="142.24" y2="62.65" stroke="#0072BD" stroke-width="1.1" stroke-linecap="round"/>
<line x1="140.67" y1="110.82" x2="139.29" y2="110.43" stroke="#1a1a1a" stroke-width="0.95" stroke-linecap="round"/>
<line x1="172.07" y1="90.57" x2="174.09" y2="89.78" stroke="#1a1a1a" stroke-width="0.95" stroke-linecap="round"/>
<line x1="179.08" y1="138.77" x2="178.57" y2="137.94" stroke="#D95319" stroke-width="1.1" stroke-linecap="round"/>
<line x1="148.11" y1="90.6" x2="150.13" y2="89.81" stroke="#1a1a1a" stroke-width="0.95" stroke-linecap="round"/>
<line x1="144.39" y1="61.98" x2="145.47" y2="61.64" stroke="#0072BD" stroke-width="1.1" stroke-linecap="round"/>
<line x1="148.11" y1="94.25" x2="148.11" y2="92.43" stroke="#1a1a1a" stroke-width="0.95" stroke-linecap="round"/>
<line x1="113.45" y1="120.56" x2="112.79" y2="121.18" stroke="#0072BD" stroke-width="1.1" stroke-linecap="round"/>
<line x1="166.02" y1="111.18" x2="168.04" y2="110.39" stroke="#1a1a1a" stroke-width="0.95" stroke-linecap="round"/>
<line x1="137.9" y1="104.57" x2="137.9" y2="102.74" stroke="#1a1a1a" stroke-width="0.95" stroke-linecap="round"/>
<line x1="172.07" y1="90.57" x2="170.68" y2="90.18" stroke="#1a1a1a" stroke-width="0.95" stroke-linecap="round"/>
<line x1="145.47" y1="61.64" x2="146.54" y2="61.3" stroke="#0072BD" stroke-width="1.1" stroke-linecap="round"/>
<line x1="162.49" y1="90.58" x2="161.1" y2="90.19" stroke="#1a1a1a" stroke-width="0.95" stroke-linecap="round"/>
<line x1="179.01" y1="110.77" x2="179.01" y2="108.95" stroke="#1a1a1a" stroke-width="0.95" stroke-linecap="round"/>
<line x1="179.59" y1="139.6" x2="179.08" y2="138.77" stroke="#D95319" stroke-width="1.1" stroke-linecap="round"/>
<line x1="131.09" y1="110.83" x2="131.09" y2="109.01" stroke="#FF2020" stroke-width="0.95" stroke-linecap="round"/>
<line x1="148.11" y1="92.43" x2="148.11" y2="90.6" stroke="#1a1a1a" stroke-width="0.95" stroke-linecap="round"/>
<line x1="170.81" y1="111.17" x2="169.43" y2="110.78" stroke="#1a1a1a" stroke-width="0.95" stroke-linecap="round"/>
<line x1="156.44" y1="111.19" x2="155.05" y2="110.8" stroke="#1a1a1a" stroke-width="0.95" stroke-linecap="round"/>
<line x1="146.54" y1="61.3" x2="147.62" y2="60.97" stroke="#0072BD" stroke-width="1.1" stroke-linecap="round"/>
<line x1="139.65" y1="64.08" x2="140.95" y2="63.36" stroke="#0072BD" stroke-width="1.1" stroke-linecap="round"/>
<line x1="142.06" y1="111.21" x2="140.67" y2="110.82" stroke="#1a1a1a" stroke-width="0.95" stroke-linecap="round"/>
<line x1="132.48" y1="111.22" x2="131.09" y2="110.83" stroke="#FF2020" stroke-width="0.95" stroke-linecap="round"/>
<line x1="137.9" y1="102.74" x2="137.9" y2="100.92" stroke="#1a1a1a" stroke-width="0.95" stroke-linecap="round"/>
<line x1="114.11" y1="119.95" x2="113.45" y2="120.56" stroke="#0072BD" stroke-width="1.1" stroke-linecap="round"/>
<line x1="183.04" y1="90.94" x2="185.06" y2="90.16" stroke="#1a1a1a" stroke-width="0.95" stroke-linecap="round"/>
<line x1="178.25" y1="90.95" x2="180.27" y2="90.17" stroke="#1a1a1a" stroke-width="0.95" stroke-linecap="round"/>
<line x1="163.87" y1="90.97" x2="165.89" y2="90.18" stroke="#1a1a1a" stroke-width="0.95" stroke-linecap="round"/>
<line x1="159.08" y1="90.98" x2="161.1" y2="90.19" stroke="#FF2020" stroke-width="0.95" stroke-linecap="round"/>
<line x1="139.91" y1="91" x2="141.93" y2="90.22" stroke="#1a1a1a" stroke-width="0.95" stroke-linecap="round"/>
<line x1="135.12" y1="91.01" x2="137.14" y2="90.22" stroke="#FF2020" stroke-width="0.95" stroke-linecap="round"/>
<line x1="179.01" y1="108.95" x2="179.01" y2="107.12" stroke="#1a1a1a" stroke-width="0.95" stroke-linecap="round"/>
<line x1="147.62" y1="60.97" x2="148.7" y2="60.63" stroke="#0072BD" stroke-width="1.1" stroke-linecap="round"/>
<line x1="131.09" y1="109.01" x2="131.09" y2="107.18" stroke="#FF2020" stroke-width="0.95" stroke-linecap="round"/>
<line x1="172.2" y1="111.56" x2="174.22" y2="110.78" stroke="#1a1a1a" stroke-width="0.95" stroke-linecap="round"/>
<line x1="157.83" y1="111.58" x2="159.84" y2="110.8" stroke="#1a1a1a" stroke-width="0.95" stroke-linecap="round"/>
<line x1="180.1" y1="140.42" x2="179.59" y2="139.6" stroke="#D95319" stroke-width="1.1" stroke-linecap="round"/>
<line x1="153.03" y1="111.59" x2="155.05" y2="110.8" stroke="#FF2020" stroke-width="0.95" stroke-linecap="round"/>
<line x1="148.7" y1="60.63" x2="149.77" y2="60.29" stroke="#0072BD" stroke-width="1.1" stroke-linecap="round"/>
<line x1="173.46" y1="90.96" x2="172.07" y2="90.57" stroke="#1a1a1a" stroke-width="0.95" stroke-linecap="round"/>
<line x1="163.87" y1="90.97" x2="162.49" y2="90.58" stroke="#1a1a1a" stroke-width="0.95" stroke-linecap="round"/>
<line x1="137.9" y1="100.92" x2="137.9" y2="99.09" stroke="#1a1a1a" stroke-width="0.95" stroke-linecap="round"/>
<line x1="149.5" y1="90.99" x2="148.11" y2="90.6" stroke="#1a1a1a" stroke-width="0.95" stroke-linecap="round"/>
<line x1="114.76" y1="119.33" x2="114.11" y2="119.95" stroke="#0072BD" stroke-width="1.1" stroke-linecap="round"/>
<line x1="179.01" y1="107.12" x2="179.01" y2="105.29" stroke="#1a1a1a" stroke-width="0.95" stroke-linecap="round"/>
<line x1="172.2" y1="111.56" x2="170.81" y2="111.17" stroke="#1a1a1a" stroke-width="0.95" stroke-linecap="round"/>
<line x1="149.77" y1="60.29" x2="150.85" y2="59.96" stroke="#0072BD" stroke-width="1.1" stroke-linecap="round"/>
<line x1="131.09" y1="107.18" x2="131.09" y2="105.36" stroke="#FF2020" stroke-width="0.95" stroke-linecap="round"/>
<line x1="157.83" y1="111.58" x2="156.44" y2="111.19" stroke="#1a1a1a" stroke-width="0.95" stroke-linecap="round"/>
<line x1="138.35" y1="64.8" x2="139.65" y2="64.08" stroke="#0072BD" stroke-width="1.1" stroke-linecap="round"/>
<line x1="143.45" y1="111.6" x2="142.06" y2="111.21" stroke="#1a1a1a" stroke-width="0.95" stroke-linecap="round"/>
<line x1="133.87" y1="111.61" x2="132.48" y2="111.22" stroke="#FF2020" stroke-width="0.95" stroke-linecap="round"/>
<line x1="180.62" y1="141.25" x2="180.1" y2="140.42" stroke="#D95319" stroke-width="1.1" stroke-linecap="round"/>
<line x1="170.05" y1="91.35" x2="172.07" y2="90.57" stroke="#1a1a1a" stroke-width="0.95" stroke-linecap="round"/>
<line x1="137.9" y1="99.09" x2="137.9" y2="97.26" stroke="#1a1a1a" stroke-width="0.95" stroke-linecap="round"/>
<line x1="150.85" y1="59.96" x2="151.92" y2="59.62" stroke="#0072BD" stroke-width="1.1" stroke-linecap="round"/>
<line x1="179.01" y1="105.29" x2="179.01" y2="103.47" stroke="#1a1a1a" stroke-width="0.95" stroke-linecap="round"/>
<line x1="164.01" y1="111.97" x2="166.02" y2="111.18" stroke="#1a1a1a" stroke-width="0.95" stroke-linecap="round"/>
<line x1="131.09" y1="105.36" x2="131.09" y2="103.53" stroke="#FF2020" stroke-width="0.95" stroke-linecap="round"/>
<line x1="115.42" y1="118.71" x2="114.76" y2="119.33" stroke="#0072BD" stroke-width="1.1" stroke-linecap="round"/>
<line x1="151.92" y1="59.62" x2="153" y2="59.29" stroke="#0072BD" stroke-width="1.1" stroke-linecap="round"/>
<line x1="174.85" y1="91.35" x2="173.46" y2="90.96" stroke="#1a1a1a" stroke-width="0.95" stroke-linecap="round"/>
<line x1="165.26" y1="91.36" x2="163.87" y2="90.97" stroke="#1a1a1a" stroke-width="0.95" stroke-linecap="round"/>
<line x1="150.89" y1="91.38" x2="149.5" y2="90.99" stroke="#1a1a1a" stroke-width="0.95" stroke-linecap="round"/>
<line x1="172.2" y1="111.56" x2="172.2" y2="109.74" stroke="#1a1a1a" stroke-width="0.95" stroke-linecap="round"/>
<line x1="181.13" y1="142.08" x2="180.62" y2="141.25" stroke="#D95319" stroke-width="1.1" stroke-linecap="round"/>
<line x1="137.9" y1="97.26" x2="137.9" y2="95.44" stroke="#1a1a1a" stroke-width="0.95" stroke-linecap="round"/>
<line x1="153" y1="59.29" x2="154.07" y2="58.95" stroke="#0072BD" stroke-width="1.1" stroke-linecap="round"/>
<line x1="137.06" y1="65.51" x2="138.35" y2="64.8" stroke="#0072BD" stroke-width="1.1" stroke-linecap="round"/>
<line x1="159.21" y1="111.97" x2="157.83" y2="111.58" stroke="#1a1a1a" stroke-width="0.95" stroke-linecap="round"/>
<line x1="179.01" y1="103.47" x2="179.01" y2="101.64" stroke="#1a1a1a" stroke-width="0.95" stroke-linecap="round"/>
<line x1="144.84" y1="111.99" x2="143.45" y2="111.6" stroke="#1a1a1a" stroke-width="0.95" stroke-linecap="round"/>
<line x1="135.25" y1="112" x2="133.87" y2="111.61" stroke="#FF2020" stroke-width="0.95" stroke-linecap="round"/>
<line x1="131.09" y1="103.53" x2="131.09" y2="101.71" stroke="#FF2020" stroke-width="0.95" stroke-linecap="round"/>
<line x1="181.03" y1="91.73" x2="183.04" y2="90.94" stroke="#1a1a1a" stroke-width="0.95" stroke-linecap="round"/>
<line x1="176.23" y1="91.74" x2="178.25" y2="90.95" stroke="#1a1a1a" stroke-width="0.95" stroke-linecap="round"/>
<line x1="161.86" y1="91.76" x2="163.87" y2="90.97" stroke="#1a1a1a" stroke-width="0.95" stroke-linecap="round"/>
<line x1="157.07" y1="91.76" x2="159.08" y2="90.98" stroke="#FF2020" stroke-width="0.95" stroke-linecap="round"/>
<line x1="137.9" y1="91.79" x2="139.91" y2="91" stroke="#1a1a1a" stroke-width="0.95" stroke-linecap="round"/>
<line x1="133.11" y1="91.79" x2="135.12" y2="91.01" stroke="#FF2020" stroke-width="0.95" stroke-linecap="round"/>
<line x1="154.07" y1="58.95" x2="155.15" y2="58.61" stroke="#0072BD" stroke-width="1.1" stroke-linecap="round"/>
<line x1="116.08" y1="118.09" x2="115.42" y2="118.71" stroke="#0072BD" stroke-width="1.1" stroke-linecap="round"/>
<line x1="172.2" y1="109.74" x2="172.2" y2="107.91" stroke="#1a1a1a" stroke-width="0.95" stroke-linecap="round"/>
<line x1="137.9" y1="95.44" x2="137.9" y2="93.61" stroke="#1a1a1a" stroke-width="0.95" stroke-linecap="round"/>
<line x1="181.64" y1="142.91" x2="181.13" y2="142.08" stroke="#D95319" stroke-width="1.1" stroke-linecap="round"/>
<line x1="155.81" y1="112.37" x2="157.83" y2="111.58" stroke="#1a1a1a" stroke-width="0.95" stroke-linecap="round"/>
<line x1="151.02" y1="112.37" x2="153.03" y2="111.59" stroke="#FF2020" stroke-width="0.95" stroke-linecap="round"/>
<circle cx="155.15" cy="58.61" r="1.75" fill="#0072BD"/>
<line x1="179.01" y1="101.64" x2="179.01" y2="99.82" stroke="#1a1a1a" stroke-width="0.95" stroke-linecap="round"/>
<line x1="155.15" y1="58.61" x2="155.45" y2="59.12" stroke="#0072BD" stroke-width="1.1" stroke-linecap="round"/>
<line x1="176.23" y1="91.74" x2="174.85" y2="91.35" stroke="#1a1a1a" stroke-width="0.95" stroke-linecap="round"/>
<line x1="166.65" y1="91.75" x2="165.26" y2="91.36" stroke="#1a1a1a" stroke-width="0.95" stroke-linecap="round"/>
<line x1="131.09" y1="101.71" x2="131.09" y2="99.88" stroke="#FF2020" stroke-width="0.95" stroke-linecap="round"/>
<line x1="152.27" y1="91.77" x2="150.89" y2="91.38" stroke="#1a1a1a" stroke-width="0.95" stroke-linecap="round"/>
<line x1="172.2" y1="107.91" x2="172.2" y2="106.09" stroke="#1a1a1a" stroke-width="0.95" stroke-linecap="round"/>
<line x1="135.76" y1="66.23" x2="137.06" y2="65.51" stroke="#0072BD" stroke-width="1.1" stroke-linecap="round"/>
<line x1="137.9" y1="93.61" x2="137.9" y2="91.79" stroke="#1a1a1a" stroke-width="0.95" stroke-linecap="round"/>
<line x1="160.6" y1="112.36" x2="159.21" y2="111.97" stroke="#1a1a1a" stroke-width="0.95" stroke-linecap="round"/>
<line x1="116.73" y1="117.48" x2="116.08" y2="118.09" stroke="#0072BD" stroke-width="1.1" stroke-linecap="round"/>
<line x1="146.23" y1="112.38" x2="144.84" y2="111.99" stroke="#1a1a1a" stroke-width="0.95" stroke-linecap="round"/>
<line x1="155.45" y1="59.12" x2="155.75" y2="59.62" stroke="#0072BD" stroke-width="1.1" stroke-linecap="round"/>
<line x1="136.64" y1="112.39" x2="135.25" y2="112" stroke="#FF2020" stroke-width="0.95" stroke-linecap="round"/>
<line x1="182.15" y1="143.74" x2="181.64" y2="142.91" stroke="#D95319" stroke-width="1.1" stroke-linecap="round"/>
<line x1="179.01" y1="99.82" x2="179.01" y2="97.99" stroke="#1a1a1a" stroke-width="0.95" stroke-linecap="round"/>
<line x1="168.04" y1="92.14" x2="170.05" y2="91.35" stroke="#1a1a1a" stroke-width="0.95" stroke-linecap="round"/>
<line x1="131.09" y1="99.88" x2="131.09" y2="98.06" stroke="#FF2020" stroke-width="0.95" stroke-linecap="round"/>
<line x1="155.75" y1="59.62" x2="156.05" y2="60.12" stroke="#0072BD" stroke-width="1.1" stroke-linecap="round"/>
<line x1="172.2" y1="106.09" x2="172.2" y2="104.26" stroke="#1a1a1a" stroke-width="0.95" stroke-linecap="round"/>
<line x1="161.99" y1="112.75" x2="164.01" y2="111.97" stroke="#1a1a1a" stroke-width="0.95" stroke-linecap="round"/>
<circle cx="182.15" cy="143.74" r="1.7" fill="#D95319"/>
<line x1="177.62" y1="92.13" x2="176.23" y2="91.74" stroke="#1a1a1a" stroke-width="0.95" stroke-linecap="round"/>
<line x1="168.04" y1="92.14" x2="166.65" y2="91.75" stroke="#1a1a1a" stroke-width="0.95" stroke-linecap="round"/>
<line x1="179.01" y1="97.99" x2="179.01" y2="96.17" stroke="#1a1a1a" stroke-width="0.95" stroke-linecap="round"/>
<line x1="153.66" y1="92.16" x2="152.27" y2="91.77" stroke="#1a1a1a" stroke-width="0.95" stroke-linecap="round"/>
<line x1="117.39" y1="116.86" x2="116.73" y2="117.48" stroke="#0072BD" stroke-width="1.1" stroke-linecap="round"/>
<line x1="182.72" y1="144.41" x2="182.15" y2="143.74" stroke="#D95319" stroke-width="1.1" stroke-linecap="round"/>
<line x1="139.29" y1="92.18" x2="137.9" y2="91.79" stroke="#1a1a1a" stroke-width="0.95" stroke-linecap="round"/>
<line x1="156.05" y1="60.12" x2="156.35" y2="60.62" stroke="#0072BD" stroke-width="1.1" stroke-linecap="round"/>
<line x1="131.09" y1="98.06" x2="131.09" y2="96.23" stroke="#FF2020" stroke-width="0.95" stroke-linecap="round"/>
<line x1="134.46" y1="66.94" x2="135.76" y2="66.23" stroke="#0072BD" stroke-width="1.1" stroke-linecap="round"/>
<line x1="161.99" y1="112.75" x2="160.6" y2="112.36" stroke="#1a1a1a" stroke-width="0.95" stroke-linecap="round"/>
<line x1="172.2" y1="104.26" x2="172.2" y2="102.44" stroke="#1a1a1a" stroke-width="0.95" stroke-linecap="round"/>
<line x1="147.61" y1="112.77" x2="146.23" y2="112.38" stroke="#1a1a1a" stroke-width="0.95" stroke-linecap="round"/>
<line x1="138.03" y1="112.78" x2="136.64" y2="112.39" stroke="#FF2020" stroke-width="0.95" stroke-linecap="round"/>
<line x1="179.01" y1="92.52" x2="181.03" y2="91.73" stroke="#1a1a1a" stroke-width="0.95" stroke-linecap="round"/>
<line x1="174.22" y1="92.52" x2="176.23" y2="91.74" stroke="#1a1a1a" stroke-width="0.95" stroke-linecap="round"/>
<line x1="159.84" y1="92.54" x2="161.86" y2="91.76" stroke="#1a1a1a" stroke-width="0.95" stroke-linecap="round"/>
<line x1="155.05" y1="92.55" x2="157.07" y2="91.76" stroke="#FF2020" stroke-width="0.95" stroke-linecap="round"/>
<circle cx="117.39" cy="116.86" r="1.75" fill="#0072BD"/>
<line x1="156.35" y1="60.62" x2="156.65" y2="61.12" stroke="#0072BD" stroke-width="1.1" stroke-linecap="round"/>
<line x1="131.09" y1="92.58" x2="133.11" y2="91.79" stroke="#FF2020" stroke-width="0.95" stroke-linecap="round"/>
<line x1="179.01" y1="96.17" x2="179.01" y2="94.34" stroke="#1a1a1a" stroke-width="0.95" stroke-linecap="round"/>
<line x1="183.3" y1="145.09" x2="182.72" y2="144.41" stroke="#D95319" stroke-width="1.1" stroke-linecap="round"/>
<line x1="117.97" y1="115.94" x2="117.39" y2="116.86" stroke="#0072BD" stroke-width="1.1" stroke-linecap="round"/>
<line x1="131.09" y1="96.23" x2="131.09" y2="94.41" stroke="#FF2020" stroke-width="0.95" stroke-linecap="round"/>
<line x1="153.79" y1="113.15" x2="155.81" y2="112.37" stroke="#1a1a1a" stroke-width="0.95" stroke-linecap="round"/>
<line x1="149" y1="113.16" x2="151.02" y2="112.37" stroke="#FF2020" stroke-width="0.95" stroke-linecap="round"/>
<line x1="172.2" y1="102.44" x2="172.2" y2="100.61" stroke="#1a1a1a" stroke-width="0.95" stroke-linecap="round"/>
<line x1="156.65" y1="61.12" x2="156.95" y2="61.62" stroke="#0072BD" stroke-width="1.1" stroke-linecap="round"/>
<line x1="179.01" y1="92.52" x2="177.62" y2="92.13" stroke="#1a1a1a" stroke-width="0.95" stroke-linecap="round"/>
<line x1="169.43" y1="92.53" x2="168.04" y2="92.14" stroke="#1a1a1a" stroke-width="0.95" stroke-linecap="round"/>
<line x1="155.05" y1="92.55" x2="153.66" y2="92.16" stroke="#1a1a1a" stroke-width="0.95" stroke-linecap="round"/>
<line x1="140.67" y1="92.57" x2="139.29" y2="92.18" stroke="#1a1a1a" stroke-width="0.95" stroke-linecap="round"/>
<line x1="161.99" y1="112.75" x2="161.99" y2="110.93" stroke="#1a1a1a" stroke-width="0.95" stroke-linecap="round"/>
<line x1="179.01" y1="94.34" x2="179.01" y2="92.52" stroke="#1a1a1a" stroke-width="0.95" stroke-linecap="round"/>
<line x1="183.88" y1="145.77" x2="183.3" y2="145.09" stroke="#D95319" stroke-width="1.1" stroke-linecap="round"/>
<line x1="133.17" y1="67.66" x2="134.46" y2="66.94" stroke="#0072BD" stroke-width="1.1" stroke-linecap="round"/>
<line x1="131.09" y1="94.41" x2="131.09" y2="92.58" stroke="#FF2020" stroke-width="0.95" stroke-linecap="round"/>
<line x1="118.55" y1="115.03" x2="117.97" y2="115.94" stroke="#0072BD" stroke-width="1.1" stroke-linecap="round"/>
<line x1="149" y1="113.16" x2="147.61" y2="112.77" stroke="#1a1a1a" stroke-width="0.95" stroke-linecap="round"/>
<line x1="139.42" y1="113.17" x2="138.03" y2="112.78" stroke="#FF2020" stroke-width="0.95" stroke-linecap="round"/>
<line x1="156.95" y1="61.62" x2="157.25" y2="62.12" stroke="#0072BD" stroke-width="1.1" stroke-linecap="round"/>
<line x1="172.2" y1="100.61" x2="172.2" y2="98.78" stroke="#1a1a1a" stroke-width="0.95" stroke-linecap="round"/>
<line x1="166.02" y1="92.92" x2="168.04" y2="92.14" stroke="#1a1a1a" stroke-width="0.95" stroke-linecap="round"/>
<line x1="161.99" y1="110.93" x2="161.99" y2="109.1" stroke="#1a1a1a" stroke-width="0.95" stroke-linecap="round"/>
<line x1="184.46" y1="146.44" x2="183.88" y2="145.77" stroke="#D95319" stroke-width="1.1" stroke-linecap="round"/>
<line x1="157.25" y1="62.12" x2="157.55" y2="62.62" stroke="#0072BD" stroke-width="1.1" stroke-linecap="round"/>
<line x1="119.13" y1="114.11" x2="118.55" y2="115.03" stroke="#0072BD" stroke-width="1.1" stroke-linecap="round"/>
<line x1="170.81" y1="92.92" x2="169.43" y2="92.53" stroke="#1a1a1a" stroke-width="0.95" stroke-linecap="round"/>
<line x1="156.44" y1="92.94" x2="155.05" y2="92.55" stroke="#1a1a1a" stroke-width="0.95" stroke-linecap="round"/>
<line x1="172.2" y1="98.78" x2="172.2" y2="96.96" stroke="#1a1a1a" stroke-width="0.95" stroke-linecap="round"/>
<line x1="142.06" y1="92.96" x2="140.67" y2="92.57" stroke="#1a1a1a" stroke-width="0.95" stroke-linecap="round"/>
<line x1="132.48" y1="92.97" x2="131.09" y2="92.58" stroke="#FF2020" stroke-width="0.95" stroke-linecap="round"/>
<line x1="157.55" y1="62.62" x2="157.85" y2="63.12" stroke="#0072BD" stroke-width="1.1" stroke-linecap="round"/>
<line x1="131.87" y1="68.38" x2="133.17" y2="67.66" stroke="#0072BD" stroke-width="1.1" stroke-linecap="round"/>
<line x1="161.99" y1="109.1" x2="161.99" y2="107.27" stroke="#1a1a1a" stroke-width="0.95" stroke-linecap="round"/>
<line x1="185.03" y1="147.12" x2="184.46" y2="146.44" stroke="#D95319" stroke-width="1.1" stroke-linecap="round"/>
<line x1="150.39" y1="113.55" x2="149" y2="113.16" stroke="#1a1a1a" stroke-width="0.95" stroke-linecap="round"/>
<line x1="140.81" y1="113.56" x2="139.42" y2="113.17" stroke="#FF2020" stroke-width="0.95" stroke-linecap="round"/>
<line x1="172.2" y1="93.31" x2="174.22" y2="92.52" stroke="#1a1a1a" stroke-width="0.95" stroke-linecap="round"/>
<line x1="119.72" y1="113.2" x2="119.13" y2="114.11" stroke="#0072BD" stroke-width="1.1" stroke-linecap="round"/>
<line x1="163.16" y1="79.21" x2="163.56" y2="80.54" stroke="#0072BD" stroke-width="1.1" stroke-linecap="round"/>
<line x1="157.83" y1="93.33" x2="159.84" y2="92.54" stroke="#1a1a1a" stroke-width="0.95" stroke-linecap="round"/>
<line x1="153.03" y1="93.33" x2="155.05" y2="92.55" stroke="#FF2020" stroke-width="0.95" stroke-linecap="round"/>
<line x1="157.85" y1="63.12" x2="158.15" y2="63.63" stroke="#0072BD" stroke-width="1.1" stroke-linecap="round"/>
<line x1="163.56" y1="80.54" x2="162.25" y2="80.62" stroke="#0072BD" stroke-width="1.1" stroke-linecap="round"/>
<line x1="162.76" y1="77.89" x2="163.16" y2="79.21" stroke="#0072BD" stroke-width="1.1" stroke-linecap="round"/>
<circle cx="163.56" cy="80.54" r="1.75" fill="#0072BD"/>
<line x1="172.2" y1="96.96" x2="172.2" y2="95.13" stroke="#1a1a1a" stroke-width="0.95" stroke-linecap="round"/>
<line x1="162.36" y1="76.56" x2="162.76" y2="77.89" stroke="#0072BD" stroke-width="1.1" stroke-linecap="round"/>
<line x1="162.25" y1="80.62" x2="160.94" y2="80.7" stroke="#0072BD" stroke-width="1.1" stroke-linecap="round"/>
<line x1="161.96" y1="75.23" x2="162.36" y2="76.56" stroke="#0072BD" stroke-width="1.1" stroke-linecap="round"/>
<line x1="161.99" y1="107.27" x2="161.99" y2="105.45" stroke="#1a1a1a" stroke-width="0.95" stroke-linecap="round"/>
<line x1="151.78" y1="113.94" x2="153.79" y2="113.15" stroke="#1a1a1a" stroke-width="0.95" stroke-linecap="round"/>
<line x1="146.99" y1="113.95" x2="149" y2="113.16" stroke="#FF2020" stroke-width="0.95" stroke-linecap="round"/>
<line x1="185.61" y1="147.8" x2="185.03" y2="147.12" stroke="#D95319" stroke-width="1.1" stroke-linecap="round"/>
<line x1="161.56" y1="73.91" x2="161.96" y2="75.23" stroke="#0072BD" stroke-width="1.1" stroke-linecap="round"/>
<line x1="158.15" y1="63.63" x2="158.45" y2="64.13" stroke="#0072BD" stroke-width="1.1" stroke-linecap="round"/>
<line x1="161.16" y1="72.58" x2="161.56" y2="73.91" stroke="#0072BD" stroke-width="1.1" stroke-linecap="round"/>
<line x1="172.2" y1="93.31" x2="170.81" y2="92.92" stroke="#1a1a1a" stroke-width="0.95" stroke-linecap="round"/>
<line x1="160.94" y1="80.7" x2="159.64" y2="80.78" stroke="#0072BD" stroke-width="1.1" stroke-linecap="round"/>
<line x1="157.83" y1="93.33" x2="156.44" y2="92.94" stroke="#1a1a1a" stroke-width="0.95" stroke-linecap="round"/>
<line x1="160.75" y1="71.26" x2="161.16" y2="72.58" stroke="#0072BD" stroke-width="1.1" stroke-linecap="round"/>
<line x1="143.45" y1="93.35" x2="142.06" y2="92.96" stroke="#1a1a1a" stroke-width="0.95" stroke-linecap="round"/>
<line x1="133.87" y1="93.36" x2="132.48" y2="92.97" stroke="#FF2020" stroke-width="0.95" stroke-linecap="round"/>
<line x1="120.3" y1="112.28" x2="119.72" y2="113.2" stroke="#0072BD" stroke-width="1.1" stroke-linecap="round"/>
<line x1="160.35" y1="69.93" x2="160.75" y2="71.26" stroke="#0072BD" stroke-width="1.1" stroke-linecap="round"/>
<line x1="130.57" y1="69.09" x2="131.87" y2="68.38" stroke="#0072BD" stroke-width="1.1" stroke-linecap="round"/>
<line x1="172.2" y1="95.13" x2="172.2" y2="93.31" stroke="#1a1a1a" stroke-width="0.95" stroke-linecap="round"/>
<line x1="159.64" y1="80.78" x2="158.33" y2="80.87" stroke="#0072BD" stroke-width="1.1" stroke-linecap="round"/>
<line x1="159.95" y1="68.61" x2="160.35" y2="69.93" stroke="#0072BD" stroke-width="1.1" stroke-linecap="round"/>
<line x1="151.78" y1="113.94" x2="150.39" y2="113.55" stroke="#1a1a1a" stroke-width="0.95" stroke-linecap="round"/>
<line x1="159.55" y1="67.28" x2="159.95" y2="68.61" stroke="#0072BD" stroke-width="1.1" stroke-linecap="round"/>
<line x1="142.19" y1="113.95" x2="140.81" y2="113.56" stroke="#FF2020" stroke-width="0.95" stroke-linecap="round"/>
<line x1="158.45" y1="64.13" x2="158.75" y2="64.63" stroke="#0072BD" stroke-width="1.1" stroke-linecap="round"/>
<line x1="161.99" y1="105.45" x2="161.99" y2="103.62" stroke="#1a1a1a" stroke-width="0.95" stroke-linecap="round"/>
<line x1="158.33" y1="80.87" x2="157.02" y2="80.95" stroke="#0072BD" stroke-width="1.1" stroke-linecap="round"/>
<line x1="159.15" y1="65.95" x2="159.55" y2="67.28" stroke="#0072BD" stroke-width="1.1" stroke-linecap="round"/>
<line x1="186.19" y1="148.47" x2="185.61" y2="147.8" stroke="#D95319" stroke-width="1.1" stroke-linecap="round"/>
<line x1="164.01" y1="93.71" x2="166.02" y2="92.92" stroke="#1a1a1a" stroke-width="0.95" stroke-linecap="round"/>
<line x1="158.75" y1="64.63" x2="159.15" y2="65.95" stroke="#0072BD" stroke-width="1.1" stroke-linecap="round"/>
<line x1="157.02" y1="80.95" x2="155.71" y2="81.03" stroke="#0072BD" stroke-width="1.1" stroke-linecap="round"/>
<circle cx="158.75" cy="64.63" r="1.75" fill="#0072BD"/>
<line x1="120.88" y1="111.37" x2="120.3" y2="112.28" stroke="#0072BD" stroke-width="1.1" stroke-linecap="round"/>
<line x1="155.71" y1="81.03" x2="154.4" y2="81.11" stroke="#0072BD" stroke-width="1.1" stroke-linecap="round"/>
<line x1="161.99" y1="103.62" x2="161.99" y2="101.8" stroke="#1a1a1a" stroke-width="0.95" stroke-linecap="round"/>
<line x1="186.76" y1="149.15" x2="186.19" y2="148.47" stroke="#D95319" stroke-width="1.1" stroke-linecap="round"/>
<line x1="159.21" y1="93.72" x2="157.83" y2="93.33" stroke="#1a1a1a" stroke-width="0.95" stroke-linecap="round"/>
<line x1="154.4" y1="81.11" x2="153.09" y2="81.2" stroke="#0072BD" stroke-width="1.1" stroke-linecap="round"/>
<line x1="144.84" y1="93.74" x2="143.45" y2="93.35" stroke="#1a1a1a" stroke-width="0.95" stroke-linecap="round"/>
<line x1="135.25" y1="93.75" x2="133.87" y2="93.36" stroke="#FF2020" stroke-width="0.95" stroke-linecap="round"/>
<line x1="151.78" y1="113.94" x2="151.78" y2="112.11" stroke="#1a1a1a" stroke-width="0.95" stroke-linecap="round"/>
<line x1="129.28" y1="69.81" x2="130.57" y2="69.09" stroke="#0072BD" stroke-width="1.1" stroke-linecap="round"/>
<line x1="153.09" y1="81.2" x2="151.78" y2="81.28" stroke="#0072BD" stroke-width="1.1" stroke-linecap="round"/>
<line x1="121.46" y1="110.45" x2="120.88" y2="111.37" stroke="#0072BD" stroke-width="1.1" stroke-linecap="round"/>
<line x1="143.58" y1="114.34" x2="142.19" y2="113.95" stroke="#FF2020" stroke-width="0.95" stroke-linecap="round"/>
<line x1="151.78" y1="81.28" x2="150.48" y2="81.36" stroke="#0072BD" stroke-width="1.1" stroke-linecap="round"/>
<line x1="161.99" y1="101.8" x2="161.99" y2="99.97" stroke="#1a1a1a" stroke-width="0.95" stroke-linecap="round"/>
<line x1="155.81" y1="94.11" x2="157.83" y2="93.33" stroke="#1a1a1a" stroke-width="0.95" stroke-linecap="round"/>
<line x1="151.02" y1="94.12" x2="153.03" y2="93.33" stroke="#FF2020" stroke-width="0.95" stroke-linecap="round"/>
<line x1="187.34" y1="149.83" x2="186.76" y2="149.15" stroke="#D95319" stroke-width="1.1" stroke-linecap="round"/>
<line x1="150.48" y1="81.36" x2="149.17" y2="81.44" stroke="#0072BD" stroke-width="1.1" stroke-linecap="round"/>
<line x1="151.78" y1="112.11" x2="151.78" y2="110.29" stroke="#1a1a1a" stroke-width="0.95" stroke-linecap="round"/>
<line x1="144.97" y1="114.73" x2="146.99" y2="113.95" stroke="#FF2020" stroke-width="0.95" stroke-linecap="round"/>
<line x1="149.17" y1="81.44" x2="147.86" y2="81.52" stroke="#0072BD" stroke-width="1.1" stroke-linecap="round"/>
<line x1="122.04" y1="109.54" x2="121.46" y2="110.45" stroke="#0072BD" stroke-width="1.1" stroke-linecap="round"/>
<line x1="160.6" y1="94.11" x2="159.21" y2="93.72" stroke="#1a1a1a" stroke-width="0.95" stroke-linecap="round"/>
<line x1="146.23" y1="94.13" x2="144.84" y2="93.74" stroke="#1a1a1a" stroke-width="0.95" stroke-linecap="round"/>
<line x1="136.64" y1="94.14" x2="135.25" y2="93.75" stroke="#FF2020" stroke-width="0.95" stroke-linecap="round"/>
<line x1="161.99" y1="99.97" x2="161.99" y2="98.15" stroke="#1a1a1a" stroke-width="0.95" stroke-linecap="round"/>
<circle cx="147.86" cy="81.52" r="1.75" fill="#0072BD"/>
<line x1="187.92" y1="150.5" x2="187.34" y2="149.83" stroke="#D95319" stroke-width="1.1" stroke-linecap="round"/>
<line x1="127.98" y1="70.52" x2="129.28" y2="69.81" stroke="#0072BD" stroke-width="1.1" stroke-linecap="round"/>
<line x1="147.86" y1="81.52" x2="146.66" y2="82.41" stroke="#0072BD" stroke-width="1.1" stroke-linecap="round"/>
<line x1="151.78" y1="110.29" x2="151.78" y2="108.46" stroke="#1a1a1a" stroke-width="0.95" stroke-linecap="round"/>
<line x1="144.97" y1="114.73" x2="143.58" y2="114.34" stroke="#FF2020" stroke-width="0.95" stroke-linecap="round"/>
<line x1="161.99" y1="94.5" x2="164.01" y2="93.71" stroke="#1a1a1a" stroke-width="0.95" stroke-linecap="round"/>
<line x1="122.62" y1="108.62" x2="122.04" y2="109.54" stroke="#0072BD" stroke-width="1.1" stroke-linecap="round"/>
<line x1="161.99" y1="98.15" x2="161.99" y2="96.32" stroke="#1a1a1a" stroke-width="0.95" stroke-linecap="round"/>
<line x1="188.5" y1="151.18" x2="187.92" y2="150.5" stroke="#D95319" stroke-width="1.1" stroke-linecap="round"/>
<line x1="146.66" y1="82.41" x2="145.47" y2="83.3" stroke="#0072BD" stroke-width="1.1" stroke-linecap="round"/>
<line x1="151.78" y1="108.46" x2="151.78" y2="106.64" stroke="#1a1a1a" stroke-width="0.95" stroke-linecap="round"/>
<line x1="161.99" y1="94.5" x2="160.6" y2="94.11" stroke="#1a1a1a" stroke-width="0.95" stroke-linecap="round"/>
<line x1="147.61" y1="94.52" x2="146.23" y2="94.13" stroke="#1a1a1a" stroke-width="0.95" stroke-linecap="round"/>
<line x1="138.03" y1="94.53" x2="136.64" y2="94.14" stroke="#FF2020" stroke-width="0.95" stroke-linecap="round"/>
<line x1="123.21" y1="107.7" x2="122.62" y2="108.62" stroke="#0072BD" stroke-width="1.1" stroke-linecap="round"/>
<line x1="126.69" y1="71.24" x2="127.98" y2="70.52" stroke="#0072BD" stroke-width="1.1" stroke-linecap="round"/>
<line x1="144.97" y1="114.73" x2="144.97" y2="112.91" stroke="#FF2020" stroke-width="0.95" stroke-linecap="round"/>
<line x1="161.99" y1="96.32" x2="161.99" y2="94.5" stroke="#1a1a1a" stroke-width="0.95" stroke-linecap="round"/>
<line x1="189.07" y1="151.86" x2="188.5" y2="151.18" stroke="#D95319" stroke-width="1.1" stroke-linecap="round"/>
<line x1="145.47" y1="83.3" x2="144.28" y2="84.19" stroke="#0072BD" stroke-width="1.1" stroke-linecap="round"/>
<line x1="151.78" y1="106.64" x2="151.78" y2="104.81" stroke="#1a1a1a" stroke-width="0.95" stroke-linecap="round"/>
<line x1="153.79" y1="94.9" x2="155.81" y2="94.11" stroke="#1a1a1a" stroke-width="0.95" stroke-linecap="round"/>
<line x1="149" y1="94.9" x2="151.02" y2="94.12" stroke="#FF2020" stroke-width="0.95" stroke-linecap="round"/>
<line x1="126.85" y1="72.72" x2="126.69" y2="71.24" stroke="#0072BD" stroke-width="1.1" stroke-linecap="round"/>
<line x1="127.01" y1="74.2" x2="126.85" y2="72.72" stroke="#0072BD" stroke-width="1.1" stroke-linecap="round"/>
<line x1="127.18" y1="75.68" x2="127.01" y2="74.2" stroke="#0072BD" stroke-width="1.1" stroke-linecap="round"/>
<line x1="127.34" y1="77.16" x2="127.18" y2="75.68" stroke="#0072BD" stroke-width="1.1" stroke-linecap="round"/>
<line x1="127.51" y1="78.64" x2="127.34" y2="77.16" stroke="#0072BD" stroke-width="1.1" stroke-linecap="round"/>
<line x1="127.67" y1="80.12" x2="127.51" y2="78.64" stroke="#0072BD" stroke-width="1.1" stroke-linecap="round"/>
<line x1="127.84" y1="81.6" x2="127.67" y2="80.12" stroke="#0072BD" stroke-width="1.1" stroke-linecap="round"/>
<line x1="128" y1="83.09" x2="127.84" y2="81.6" stroke="#0072BD" stroke-width="1.1" stroke-linecap="round"/>
<line x1="128.17" y1="84.57" x2="128" y2="83.09" stroke="#0072BD" stroke-width="1.1" stroke-linecap="round"/>
<line x1="128.33" y1="86.05" x2="128.17" y2="84.57" stroke="#0072BD" stroke-width="1.1" stroke-linecap="round"/>
<line x1="128.5" y1="87.53" x2="128.33" y2="86.05" stroke="#0072BD" stroke-width="1.1" stroke-linecap="round"/>
<line x1="128.66" y1="89.01" x2="128.5" y2="87.53" stroke="#0072BD" stroke-width="1.1" stroke-linecap="round"/>
<circle cx="189.07" cy="151.86" r="1.7" fill="#D95319"/>
<line x1="144.97" y1="112.91" x2="144.97" y2="111.08" stroke="#FF2020" stroke-width="0.95" stroke-linecap="round"/>
<line x1="123.79" y1="106.79" x2="123.21" y2="107.7" stroke="#0072BD" stroke-width="1.1" stroke-linecap="round"/>
<circle cx="126.69" cy="71.24" r="1.75" fill="#0072BD"/>
<circle cx="128.66" cy="89.01" r="1.75" fill="#0072BD"/>
<line x1="128.64" y1="90.4" x2="128.66" y2="89.01" stroke="#0072BD" stroke-width="1.1" stroke-linecap="round"/>
<line x1="144.28" y1="84.19" x2="143.09" y2="85.08" stroke="#0072BD" stroke-width="1.1" stroke-linecap="round"/>
<line x1="189.7" y1="152.46" x2="189.07" y2="151.86" stroke="#D95319" stroke-width="1.1" stroke-linecap="round"/>
<line x1="151.78" y1="104.81" x2="151.78" y2="102.99" stroke="#1a1a1a" stroke-width="0.95" stroke-linecap="round"/>
<line x1="149" y1="94.9" x2="147.61" y2="94.52" stroke="#1a1a1a" stroke-width="0.95" stroke-linecap="round"/>
<line x1="139.42" y1="94.92" x2="138.03" y2="94.53" stroke="#FF2020" stroke-width="0.95" stroke-linecap="round"/>
<line x1="128.62" y1="91.79" x2="128.64" y2="90.4" stroke="#0072BD" stroke-width="1.1" stroke-linecap="round"/>
<line x1="144.97" y1="111.08" x2="144.97" y2="109.25" stroke="#FF2020" stroke-width="0.95" stroke-linecap="round"/>
<line x1="124.37" y1="105.87" x2="123.79" y2="106.79" stroke="#0072BD" stroke-width="1.1" stroke-linecap="round"/>
<line x1="143.09" y1="85.08" x2="141.89" y2="85.97" stroke="#0072BD" stroke-width="1.1" stroke-linecap="round"/>
<line x1="190.33" y1="153.06" x2="189.7" y2="152.46" stroke="#D95319" stroke-width="1.1" stroke-linecap="round"/>
<line x1="151.78" y1="102.99" x2="151.78" y2="101.16" stroke="#1a1a1a" stroke-width="0.95" stroke-linecap="round"/>
<line x1="128.6" y1="93.19" x2="128.62" y2="91.79" stroke="#0072BD" stroke-width="1.1" stroke-linecap="round"/>
<circle cx="124.37" cy="105.87" r="1.75" fill="#0072BD"/>
<line x1="125.13" y1="104.73" x2="124.37" y2="105.87" stroke="#0072BD" stroke-width="1.1" stroke-linecap="round"/>
<circle cx="138.89" cy="118.29" r="1.75" fill="#0072BD"/>
<line x1="138.89" y1="118.29" x2="138.02" y2="117.24" stroke="#0072BD" stroke-width="1.1" stroke-linecap="round"/>
<line x1="144.97" y1="109.25" x2="144.97" y2="107.43" stroke="#FF2020" stroke-width="0.95" stroke-linecap="round"/>
<line x1="141.89" y1="85.97" x2="140.7" y2="86.86" stroke="#0072BD" stroke-width="1.1" stroke-linecap="round"/>
<line x1="139.42" y1="119.25" x2="138.89" y2="118.29" stroke="#0072BD" stroke-width="1.1" stroke-linecap="round"/>
<line x1="128.58" y1="94.58" x2="128.6" y2="93.19" stroke="#0072BD" stroke-width="1.1" stroke-linecap="round"/>
<line x1="150.39" y1="95.29" x2="149" y2="94.9" stroke="#1a1a1a" stroke-width="0.95" stroke-linecap="round"/>
<line x1="140.81" y1="95.31" x2="139.42" y2="94.92" stroke="#FF2020" stroke-width="0.95" stroke-linecap="round"/>
<line x1="125.9" y1="103.59" x2="125.13" y2="104.73" stroke="#0072BD" stroke-width="1.1" stroke-linecap="round"/>
<line x1="151.78" y1="101.16" x2="151.78" y2="99.34" stroke="#1a1a1a" stroke-width="0.95" stroke-linecap="round"/>
<line x1="138.02" y1="117.24" x2="137.15" y2="116.19" stroke="#0072BD" stroke-width="1.1" stroke-linecap="round"/>
<line x1="190.95" y1="153.66" x2="190.33" y2="153.06" stroke="#D95319" stroke-width="1.1" stroke-linecap="round"/>
<line x1="128.56" y1="95.97" x2="128.58" y2="94.58" stroke="#0072BD" stroke-width="1.1" stroke-linecap="round"/>
<line x1="139.95" y1="120.21" x2="139.42" y2="119.25" stroke="#0072BD" stroke-width="1.1" stroke-linecap="round"/>
<line x1="126.66" y1="102.45" x2="125.9" y2="103.59" stroke="#0072BD" stroke-width="1.1" stroke-linecap="round"/>
<line x1="137.15" y1="116.19" x2="136.27" y2="115.15" stroke="#0072BD" stroke-width="1.1" stroke-linecap="round"/>
<line x1="144.97" y1="107.43" x2="144.97" y2="105.6" stroke="#FF2020" stroke-width="0.95" stroke-linecap="round"/>
<line x1="140.7" y1="86.86" x2="139.51" y2="87.75" stroke="#0072BD" stroke-width="1.1" stroke-linecap="round"/>
<line x1="151.78" y1="95.68" x2="153.79" y2="94.9" stroke="#1a1a1a" stroke-width="0.95" stroke-linecap="round"/>
<line x1="146.99" y1="95.69" x2="149" y2="94.9" stroke="#FF2020" stroke-width="0.95" stroke-linecap="round"/>
<line x1="151.78" y1="99.34" x2="151.78" y2="97.51" stroke="#1a1a1a" stroke-width="0.95" stroke-linecap="round"/>
<line x1="128.54" y1="97.37" x2="128.56" y2="95.97" stroke="#0072BD" stroke-width="1.1" stroke-linecap="round"/>
<line x1="127.43" y1="101.32" x2="126.66" y2="102.45" stroke="#0072BD" stroke-width="1.1" stroke-linecap="round"/>
<line x1="136.27" y1="115.15" x2="135.4" y2="114.1" stroke="#0072BD" stroke-width="1.1" stroke-linecap="round"/>
<line x1="140.47" y1="121.17" x2="139.95" y2="120.21" stroke="#0072BD" stroke-width="1.1" stroke-linecap="round"/>
<line x1="191.58" y1="154.26" x2="190.95" y2="153.66" stroke="#D95319" stroke-width="1.1" stroke-linecap="round"/>
<line x1="139.51" y1="87.75" x2="138.31" y2="88.64" stroke="#0072BD" stroke-width="1.1" stroke-linecap="round"/>
<line x1="144.97" y1="105.6" x2="144.97" y2="103.78" stroke="#FF2020" stroke-width="0.95" stroke-linecap="round"/>
<line x1="135.4" y1="114.1" x2="134.53" y2="113.05" stroke="#0072BD" stroke-width="1.1" stroke-linecap="round"/>
<line x1="128.19" y1="100.18" x2="127.43" y2="101.32" stroke="#0072BD" stroke-width="1.1" stroke-linecap="round"/>
<line x1="151.78" y1="95.68" x2="150.39" y2="95.29" stroke="#1a1a1a" stroke-width="0.95" stroke-linecap="round"/>
<line x1="142.19" y1="95.7" x2="140.81" y2="95.31" stroke="#FF2020" stroke-width="0.95" stroke-linecap="round"/>
<line x1="128.52" y1="98.76" x2="128.54" y2="97.37" stroke="#0072BD" stroke-width="1.1" stroke-linecap="round"/>
<line x1="141" y1="122.13" x2="140.47" y2="121.17" stroke="#0072BD" stroke-width="1.1" stroke-linecap="round"/>
<line x1="151.78" y1="97.51" x2="151.78" y2="95.68" stroke="#1a1a1a" stroke-width="0.95" stroke-linecap="round"/>
<line x1="134.53" y1="113.05" x2="133.65" y2="112.01" stroke="#0072BD" stroke-width="1.1" stroke-linecap="round"/>
<line x1="128.96" y1="99.04" x2="128.19" y2="100.18" stroke="#0072BD" stroke-width="1.1" stroke-linecap="round"/>
<line x1="128.5" y1="100.15" x2="128.52" y2="98.76" stroke="#0072BD" stroke-width="1.1" stroke-linecap="round"/>
<line x1="138.31" y1="88.64" x2="137.12" y2="89.53" stroke="#0072BD" stroke-width="1.1" stroke-linecap="round"/>
<line x1="192.2" y1="154.86" x2="191.58" y2="154.26" stroke="#D95319" stroke-width="1.1" stroke-linecap="round"/>
<line x1="144.97" y1="103.78" x2="144.97" y2="101.95" stroke="#FF2020" stroke-width="0.95" stroke-linecap="round"/>
<line x1="133.65" y1="112.01" x2="132.78" y2="110.96" stroke="#0072BD" stroke-width="1.1" stroke-linecap="round"/>
<line x1="129.72" y1="97.9" x2="128.96" y2="99.04" stroke="#0072BD" stroke-width="1.1" stroke-linecap="round"/>
<line x1="141.52" y1="123.09" x2="141" y2="122.13" stroke="#0072BD" stroke-width="1.1" stroke-linecap="round"/>
<line x1="128.47" y1="101.55" x2="128.5" y2="100.15" stroke="#0072BD" stroke-width="1.1" stroke-linecap="round"/>
<line x1="132.78" y1="110.96" x2="131.91" y2="109.91" stroke="#0072BD" stroke-width="1.1" stroke-linecap="round"/>
<line x1="130.48" y1="96.76" x2="129.72" y2="97.9" stroke="#0072BD" stroke-width="1.1" stroke-linecap="round"/>
<line x1="137.12" y1="89.53" x2="135.93" y2="90.42" stroke="#0072BD" stroke-width="1.1" stroke-linecap="round"/>
<line x1="143.58" y1="96.09" x2="142.19" y2="95.7" stroke="#FF2020" stroke-width="0.95" stroke-linecap="round"/>
<line x1="144.97" y1="101.95" x2="144.97" y2="100.13" stroke="#FF2020" stroke-width="0.95" stroke-linecap="round"/>
<line x1="131.91" y1="109.91" x2="131.03" y2="108.87" stroke="#0072BD" stroke-width="1.1" stroke-linecap="round"/>
<line x1="142.05" y1="124.05" x2="141.52" y2="123.09" stroke="#0072BD" stroke-width="1.1" stroke-linecap="round"/>
<line x1="192.83" y1="155.46" x2="192.2" y2="154.86" stroke="#D95319" stroke-width="1.1" stroke-linecap="round"/>
<line x1="128.45" y1="102.94" x2="128.47" y2="101.55" stroke="#0072BD" stroke-width="1.1" stroke-linecap="round"/>
<line x1="131.25" y1="95.62" x2="130.48" y2="96.76" stroke="#0072BD" stroke-width="1.1" stroke-linecap="round"/>
<line x1="131.03" y1="108.87" x2="130.16" y2="107.82" stroke="#0072BD" stroke-width="1.1" stroke-linecap="round"/>
<line x1="135.93" y1="90.42" x2="134.73" y2="91.31" stroke="#0072BD" stroke-width="1.1" stroke-linecap="round"/>
<line x1="144.97" y1="96.48" x2="146.99" y2="95.69" stroke="#FF2020" stroke-width="0.95" stroke-linecap="round"/>
<line x1="132.01" y1="94.48" x2="131.25" y2="95.62" stroke="#0072BD" stroke-width="1.1" stroke-linecap="round"/>
<line x1="128.43" y1="104.33" x2="128.45" y2="102.94" stroke="#0072BD" stroke-width="1.1" stroke-linecap="round"/>
<line x1="142.58" y1="125.01" x2="142.05" y2="124.05" stroke="#0072BD" stroke-width="1.1" stroke-linecap="round"/>
<line x1="144.97" y1="100.13" x2="144.97" y2="98.3" stroke="#FF2020" stroke-width="0.95" stroke-linecap="round"/>
<line x1="130.16" y1="107.82" x2="129.28" y2="106.77" stroke="#0072BD" stroke-width="1.1" stroke-linecap="round"/>
<line x1="193.45" y1="156.06" x2="192.83" y2="155.46" stroke="#D95319" stroke-width="1.1" stroke-linecap="round"/>
<line x1="132.78" y1="93.34" x2="132.01" y2="94.48" stroke="#0072BD" stroke-width="1.1" stroke-linecap="round"/>
<line x1="128.41" y1="105.73" x2="128.43" y2="104.33" stroke="#0072BD" stroke-width="1.1" stroke-linecap="round"/>
<line x1="129.28" y1="106.77" x2="128.41" y2="105.73" stroke="#0072BD" stroke-width="1.1" stroke-linecap="round"/>
<line x1="143.1" y1="125.97" x2="142.58" y2="125.01" stroke="#0072BD" stroke-width="1.1" stroke-linecap="round"/>
<line x1="144.97" y1="96.48" x2="143.58" y2="96.09" stroke="#FF2020" stroke-width="0.95" stroke-linecap="round"/>
<line x1="134.73" y1="91.31" x2="133.54" y2="92.2" stroke="#0072BD" stroke-width="1.1" stroke-linecap="round"/>
<line x1="133.54" y1="92.2" x2="132.78" y2="93.34" stroke="#0072BD" stroke-width="1.1" stroke-linecap="round"/>
<line x1="144.97" y1="98.3" x2="144.97" y2="96.48" stroke="#FF2020" stroke-width="0.95" stroke-linecap="round"/>
<circle cx="128.41" cy="105.73" r="1.75" fill="#0072BD"/>
<line x1="194.08" y1="156.66" x2="193.45" y2="156.06" stroke="#D95319" stroke-width="1.1" stroke-linecap="round"/>
<circle cx="133.54" cy="92.2" r="1.75" fill="#0072BD"/>
<line x1="143.63" y1="126.93" x2="143.1" y2="125.97" stroke="#0072BD" stroke-width="1.1" stroke-linecap="round"/>
<line x1="144.15" y1="127.89" x2="143.63" y2="126.93" stroke="#0072BD" stroke-width="1.1" stroke-linecap="round"/>
<line x1="194.71" y1="157.26" x2="194.08" y2="156.66" stroke="#D95319" stroke-width="1.1" stroke-linecap="round"/>
<line x1="144.68" y1="128.85" x2="144.15" y2="127.89" stroke="#0072BD" stroke-width="1.1" stroke-linecap="round"/>
<line x1="195.33" y1="157.86" x2="194.71" y2="157.26" stroke="#D95319" stroke-width="1.1" stroke-linecap="round"/>
<line x1="145.21" y1="129.81" x2="144.68" y2="128.85" stroke="#0072BD" stroke-width="1.1" stroke-linecap="round"/>
<circle cx="145.21" cy="129.81" r="1.75" fill="#0072BD"/>
<line x1="145.65" y1="130.81" x2="145.21" y2="129.81" stroke="#0072BD" stroke-width="1.1" stroke-linecap="round"/>
<line x1="195.96" y1="158.46" x2="195.33" y2="157.86" stroke="#D95319" stroke-width="1.1" stroke-linecap="round"/>
<line x1="146.09" y1="131.82" x2="145.65" y2="130.81" stroke="#0072BD" stroke-width="1.1" stroke-linecap="round"/>
<line x1="196.58" y1="159.06" x2="195.96" y2="158.46" stroke="#D95319" stroke-width="1.1" stroke-linecap="round"/>
<line x1="146.54" y1="132.82" x2="146.09" y2="131.82" stroke="#0072BD" stroke-width="1.1" stroke-linecap="round"/>
<circle cx="196.58" cy="159.06" r="1.7" fill="#D95319"/>
<line x1="146.98" y1="133.83" x2="146.54" y2="132.82" stroke="#0072BD" stroke-width="1.1" stroke-linecap="round"/>
<line x1="147.42" y1="134.83" x2="146.98" y2="133.83" stroke="#0072BD" stroke-width="1.1" stroke-linecap="round"/>
<line x1="147.87" y1="135.84" x2="147.42" y2="134.83" stroke="#0072BD" stroke-width="1.1" stroke-linecap="round"/>
<line x1="148.31" y1="136.84" x2="147.87" y2="135.84" stroke="#0072BD" stroke-width="1.1" stroke-linecap="round"/>
<line x1="148.76" y1="137.85" x2="148.31" y2="136.84" stroke="#0072BD" stroke-width="1.1" stroke-linecap="round"/>
<line x1="149.2" y1="138.85" x2="148.76" y2="137.85" stroke="#0072BD" stroke-width="1.1" stroke-linecap="round"/>
<line x1="149.64" y1="139.86" x2="149.2" y2="138.85" stroke="#0072BD" stroke-width="1.1" stroke-linecap="round"/>
<line x1="150.09" y1="140.86" x2="149.64" y2="139.86" stroke="#0072BD" stroke-width="1.1" stroke-linecap="round"/>
<line x1="150.53" y1="141.87" x2="150.09" y2="140.86" stroke="#0072BD" stroke-width="1.1" stroke-linecap="round"/>
<circle cx="150.53" cy="141.87" r="1.75" fill="#0072BD"/>
<line x1="151.03" y1="142.78" x2="150.53" y2="141.87" stroke="#0072BD" stroke-width="1.1" stroke-linecap="round"/>
<line x1="151.53" y1="143.7" x2="151.03" y2="142.78" stroke="#0072BD" stroke-width="1.1" stroke-linecap="round"/>
<line x1="152.03" y1="144.62" x2="151.53" y2="143.7" stroke="#0072BD" stroke-width="1.1" stroke-linecap="round"/>
<line x1="152.53" y1="145.54" x2="152.03" y2="144.62" stroke="#0072BD" stroke-width="1.1" stroke-linecap="round"/>
<line x1="153.03" y1="146.46" x2="152.53" y2="145.54" stroke="#0072BD" stroke-width="1.1" stroke-linecap="round"/>
<line x1="153.53" y1="147.37" x2="153.03" y2="146.46" stroke="#0072BD" stroke-width="1.1" stroke-linecap="round"/>
<line x1="154.03" y1="148.29" x2="153.53" y2="147.37" stroke="#0072BD" stroke-width="1.1" stroke-linecap="round"/>
<line x1="154.53" y1="149.21" x2="154.03" y2="148.29" stroke="#0072BD" stroke-width="1.1" stroke-linecap="round"/>
<line x1="155.03" y1="150.13" x2="154.53" y2="149.21" stroke="#0072BD" stroke-width="1.1" stroke-linecap="round"/>
<line x1="155.53" y1="151.04" x2="155.03" y2="150.13" stroke="#0072BD" stroke-width="1.1" stroke-linecap="round"/>
<line x1="156.03" y1="151.96" x2="155.53" y2="151.04" stroke="#0072BD" stroke-width="1.1" stroke-linecap="round"/>
<line x1="156.53" y1="152.88" x2="156.03" y2="151.96" stroke="#0072BD" stroke-width="1.1" stroke-linecap="round"/>
<circle cx="156.53" cy="152.88" r="1.75" fill="#0072BD"/>
<line x1="157.11" y1="153.55" x2="156.53" y2="152.88" stroke="#0072BD" stroke-width="1.1" stroke-linecap="round"/>
<line x1="157.7" y1="154.22" x2="157.11" y2="153.55" stroke="#0072BD" stroke-width="1.1" stroke-linecap="round"/>
<line x1="158.29" y1="154.9" x2="157.7" y2="154.22" stroke="#0072BD" stroke-width="1.1" stroke-linecap="round"/>
<line x1="158.87" y1="155.57" x2="158.29" y2="154.9" stroke="#0072BD" stroke-width="1.1" stroke-linecap="round"/>
<line x1="159.46" y1="156.24" x2="158.87" y2="155.57" stroke="#0072BD" stroke-width="1.1" stroke-linecap="round"/>
<line x1="160.05" y1="156.91" x2="159.46" y2="156.24" stroke="#0072BD" stroke-width="1.1" stroke-linecap="round"/>
<line x1="160.63" y1="157.58" x2="160.05" y2="156.91" stroke="#0072BD" stroke-width="1.1" stroke-linecap="round"/>
<line x1="161.22" y1="158.26" x2="160.63" y2="157.58" stroke="#0072BD" stroke-width="1.1" stroke-linecap="round"/>
<line x1="161.81" y1="158.93" x2="161.22" y2="158.26" stroke="#0072BD" stroke-width="1.1" stroke-linecap="round"/>
<line x1="162.39" y1="159.6" x2="161.81" y2="158.93" stroke="#0072BD" stroke-width="1.1" stroke-linecap="round"/>
<line x1="162.98" y1="160.27" x2="162.39" y2="159.6" stroke="#0072BD" stroke-width="1.1" stroke-linecap="round"/>
<line x1="163.56" y1="160.94" x2="162.98" y2="160.27" stroke="#0072BD" stroke-width="1.1" stroke-linecap="round"/>
<circle cx="163.56" cy="160.94" r="1.75" fill="#0072BD"/>
<line x1="164.23" y1="161.6" x2="163.56" y2="160.94" stroke="#0072BD" stroke-width="1.1" stroke-linecap="round"/>
<line x1="164.89" y1="162.26" x2="164.23" y2="161.6" stroke="#0072BD" stroke-width="1.1" stroke-linecap="round"/>
<line x1="165.55" y1="162.92" x2="164.89" y2="162.26" stroke="#0072BD" stroke-width="1.1" stroke-linecap="round"/>
<line x1="166.21" y1="163.57" x2="165.55" y2="162.92" stroke="#0072BD" stroke-width="1.1" stroke-linecap="round"/>
<line x1="166.87" y1="164.23" x2="166.21" y2="163.57" stroke="#0072BD" stroke-width="1.1" stroke-linecap="round"/>
<line x1="167.53" y1="164.89" x2="166.87" y2="164.23" stroke="#0072BD" stroke-width="1.1" stroke-linecap="round"/>
<line x1="168.19" y1="165.55" x2="167.53" y2="164.89" stroke="#0072BD" stroke-width="1.1" stroke-linecap="round"/>
<line x1="168.85" y1="166.21" x2="168.19" y2="165.55" stroke="#0072BD" stroke-width="1.1" stroke-linecap="round"/>
<line x1="169.52" y1="166.86" x2="168.85" y2="166.21" stroke="#0072BD" stroke-width="1.1" stroke-linecap="round"/>
<line x1="170.18" y1="167.52" x2="169.52" y2="166.86" stroke="#0072BD" stroke-width="1.1" stroke-linecap="round"/>
<line x1="170.84" y1="168.18" x2="170.18" y2="167.52" stroke="#0072BD" stroke-width="1.1" stroke-linecap="round"/>
<line x1="171.5" y1="168.84" x2="170.84" y2="168.18" stroke="#0072BD" stroke-width="1.1" stroke-linecap="round"/>
<circle cx="171.5" cy="168.84" r="1.75" fill="#0072BD"/>
<circle cx="119.13" cy="59.1" r="2.0" fill="#EDB120"/>
<circle cx="109.32" cy="71.74" r="2.0" fill="#EDB120"/>
<circle cx="129.73" cy="49.27" r="2.0" fill="#EDB120"/>
<circle cx="101.1" cy="86.2" r="2.0" fill="#77AC30"/>
<circle cx="140.25" cy="43.07" r="2.0" fill="#EDB120"/>
<circle cx="95.12" cy="101.28" r="2.0" fill="#00FFFF"/>
<circle cx="149.85" cy="41" r="2.0" fill="#EDB120"/>
<circle cx="91.88" cy="115.77" r="2.0" fill="#EDB120"/>
<circle cx="157.75" cy="43.22" r="2.0" fill="#EDB120"/>
<circle cx="91.64" cy="128.5" r="2.0" fill="#EDB120"/>
<circle cx="163.31" cy="49.55" r="2.0" fill="#EDB120"/>
<circle cx="94.41" cy="138.43" r="2.0" fill="#EDB120"/>
<circle cx="166.08" cy="59.48" r="2.0" fill="#EDB120"/>
<circle cx="99.97" cy="144.76" r="2.0" fill="#EDB120"/>
<circle cx="165.84" cy="72.21" r="2.0" fill="#EDB120"/>
<circle cx="107.87" cy="146.98" r="2.0" fill="#EDB120"/>
<circle cx="162.6" cy="86.7" r="2.0" fill="#EDB120"/>
<circle cx="117.47" cy="144.9" r="2.0" fill="#EDB120"/>
<circle cx="156.62" cy="101.78" r="2.0" fill="#EDB120"/>
<circle cx="127.99" cy="138.7" r="2.0" fill="#EDB120"/>
<circle cx="148.4" cy="116.23" r="2.0" fill="#EDB120"/>
<circle cx="138.59" cy="128.88" r="2.0" fill="#EDB120"/>
<rect x="187.3" y="13.5" width="81.6" height="56.8" fill="#ffffff" stroke="#5a5a5a" stroke-width="0.9"/>
<circle cx="197.3" cy="17.8" r="1.95" fill="#77AC30"/>
<text x="206.8" y="20.5" text-anchor="start" font-size="6.4" font-weight="normal">Initial Target</text>
<circle cx="197.3" cy="25.72" r="1.95" fill="#EDB120"/>
<text x="206.8" y="28.42" text-anchor="start" font-size="6.4" font-weight="normal">Successive Target</text>
<circle cx="197.3" cy="33.64" r="1.95" fill="#00FFFF"/>
<text x="206.8" y="36.34" text-anchor="start" font-size="6.4" font-weight="normal">Final Target</text>
<circle cx="197.3" cy="41.56" r="1.95" fill="#0072BD"/>
<text x="206.8" y="44.26" text-anchor="start" font-size="6.4" font-weight="normal">Quadcopter 1</text>
<circle cx="197.3" cy="49.48" r="1.95" fill="#D95319"/>
<text x="206.8" y="52.18" text-anchor="start" font-size="6.4" font-weight="normal">Quadcopter 2</text>
<line x1="189.5" y1="57.4" x2="205.6" y2="57.4" stroke="#FF2020" stroke-width="0.9"/>
<text x="206.8" y="60.1" text-anchor="start" font-size="6.4" font-weight="normal">Initial Obstacle</text>
<line x1="189.5" y1="65.32" x2="205.6" y2="65.32" stroke="#1a1a1a" stroke-width="0.9"/>
<text x="206.8" y="68.02" text-anchor="start" font-size="6.4" font-weight="normal">Successive Obstacle</text>
</svg>
</body></html>
